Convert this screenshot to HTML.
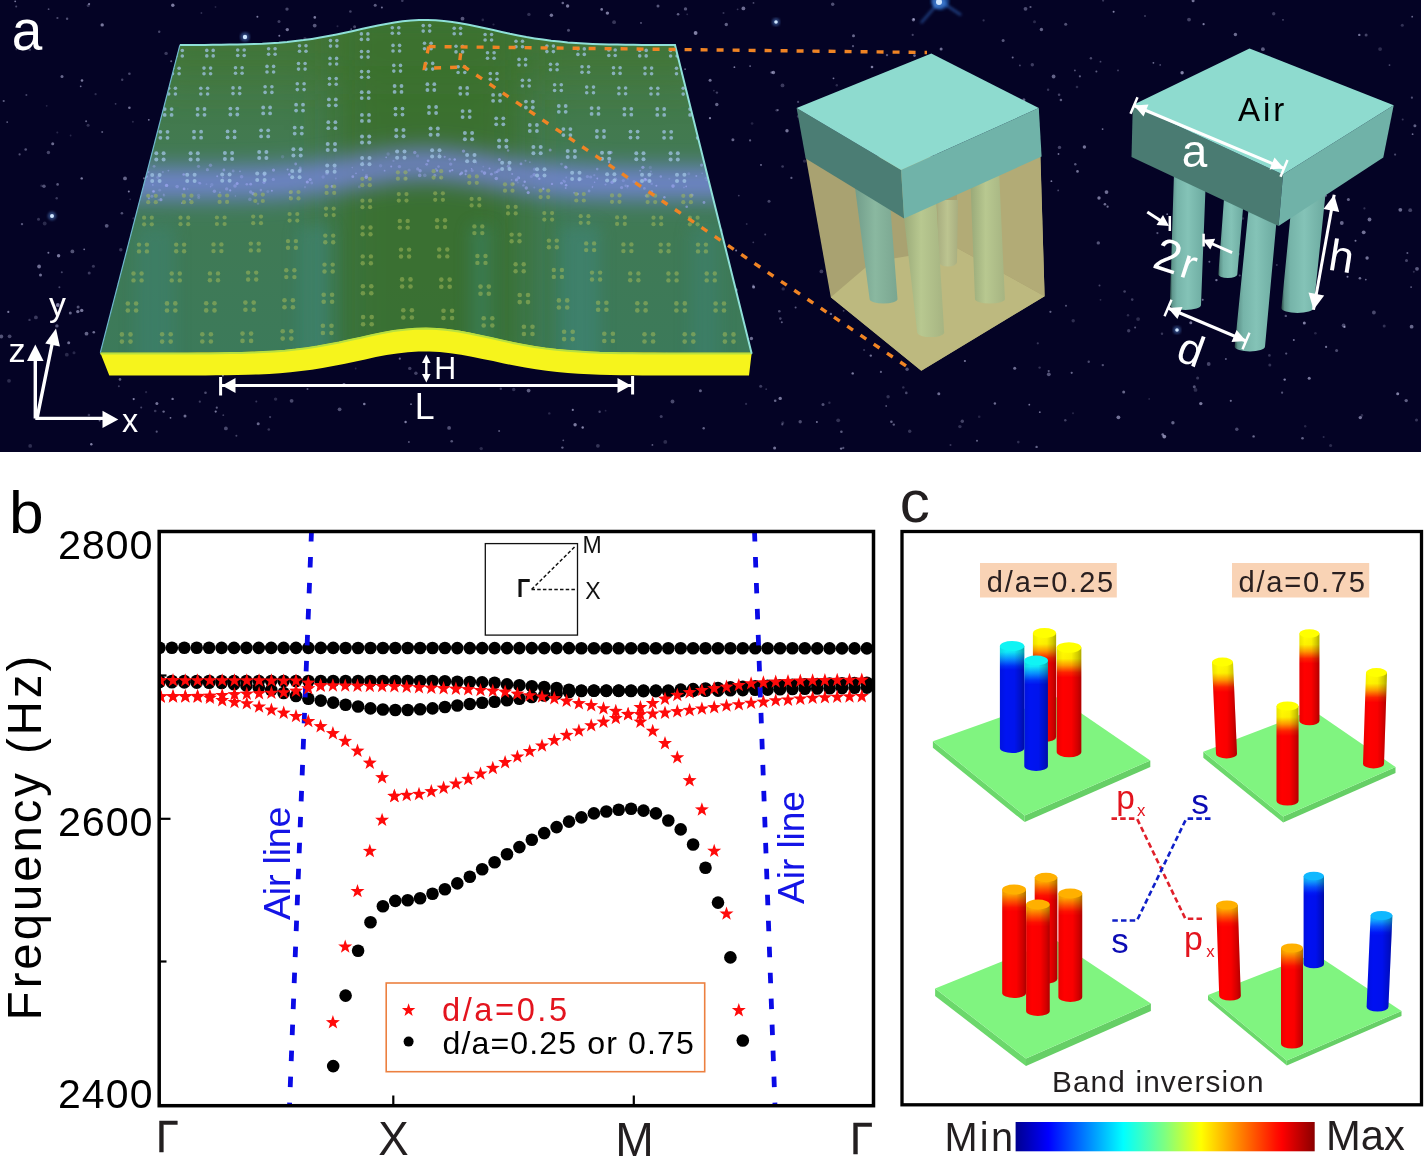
<!DOCTYPE html>
<html><head><meta charset="utf-8"><title>Figure</title>
<style>html,body{margin:0;padding:0;background:#fff;overflow:hidden;width:1424px;height:1156px;}svg{display:block;}</style>
</head><body>
<svg width="1424" height="1156" viewBox="0 0 1424 1156" font-family="'Liberation Sans', Arial, Helvetica, sans-serif">
<defs>
<linearGradient id="surfG" x1="0" y1="0" x2="0" y2="1">
 <stop offset="0" stop-color="#457a42"/>
 <stop offset="0.4" stop-color="#427a52"/>
 <stop offset="1" stop-color="#3c7a5a"/>
</linearGradient>
<radialGradient id="milky" cx="0.5" cy="0.5" r="0.5">
 <stop offset="0" stop-color="#9aa0ff" stop-opacity="0.75"/>
 <stop offset="0.6" stop-color="#8a90f0" stop-opacity="0.35"/>
 <stop offset="1" stop-color="#8088e0" stop-opacity="0"/>
</radialGradient>
<filter id="blur6" filterUnits="userSpaceOnUse" x="0" y="0" width="900" height="452"><feGaussianBlur stdDeviation="8"/></filter>
<filter id="blur2"><feGaussianBlur stdDeviation="1.2"/></filter>
<linearGradient id="jet" x1="0" y1="0" x2="1" y2="0">
 <stop offset="0" stop-color="#00008f"/>
 <stop offset="0.11" stop-color="#0000ff"/>
 <stop offset="0.125" stop-color="#0010ff"/>
 <stop offset="0.36" stop-color="#00ffff"/>
 <stop offset="0.5" stop-color="#7fff80"/>
 <stop offset="0.62" stop-color="#ffff00"/>
 <stop offset="0.87" stop-color="#ff1000"/>
 <stop offset="0.89" stop-color="#ff0000"/>
 <stop offset="1" stop-color="#8a0000"/>
</linearGradient>
<linearGradient id="shadeH" x1="0" y1="0" x2="1" y2="0">
 <stop offset="0" stop-color="#000" stop-opacity="0.08"/>
 <stop offset="0.25" stop-color="#000" stop-opacity="0"/>
 <stop offset="0.6" stop-color="#000" stop-opacity="0.02"/>
 <stop offset="0.85" stop-color="#000" stop-opacity="0.18"/>
 <stop offset="1" stop-color="#000" stop-opacity="0.32"/>
</linearGradient>
<linearGradient id="cylR" x1="0" y1="0" x2="0" y2="1">
 <stop offset="0" stop-color="#ffff00"/>
 <stop offset="0.12" stop-color="#ffb000"/>
 <stop offset="0.25" stop-color="#ff1800"/>
 <stop offset="1" stop-color="#ff0000"/>
</linearGradient>
<linearGradient id="cylR2" x1="0" y1="0" x2="0" y2="1">
 <stop offset="0" stop-color="#ffb000"/>
 <stop offset="0.1" stop-color="#ff7000"/>
 <stop offset="0.2" stop-color="#ff1000"/>
 <stop offset="1" stop-color="#ff0000"/>
</linearGradient>
<linearGradient id="cylB" x1="0" y1="0" x2="0" y2="1">
 <stop offset="0" stop-color="#40f0ff"/>
 <stop offset="0.12" stop-color="#20a0ff"/>
 <stop offset="0.25" stop-color="#0030ff"/>
 <stop offset="1" stop-color="#0020f0"/>
</linearGradient>
<linearGradient id="cylB2" x1="0" y1="0" x2="0" y2="1">
 <stop offset="0" stop-color="#20b0ff"/>
 <stop offset="0.12" stop-color="#1060ff"/>
 <stop offset="0.25" stop-color="#0030ff"/>
 <stop offset="1" stop-color="#0020f0"/>
</linearGradient>
<linearGradient id="tealH" x1="0" y1="0" x2="1" y2="0">
 <stop offset="0" stop-color="#4f8f86"/>
 <stop offset="0.4" stop-color="#86c8bc"/>
 <stop offset="1" stop-color="#5f9f95"/>
</linearGradient>
<linearGradient id="greenH" x1="0" y1="0" x2="1" y2="0">
 <stop offset="0" stop-color="#7aa888"/>
 <stop offset="0.4" stop-color="#a8d0a0"/>
 <stop offset="1" stop-color="#8fb890"/>
</linearGradient>
</defs>
<rect width="1424" height="1156" fill="#ffffff"/>
<rect x="0" y="0" width="1421" height="452" fill="#040325"/>
<filter id="sblur"><feGaussianBlur stdDeviation="0.7"/></filter>
<g filter="url(#sblur)">
<circle cx="459.8" cy="68" r="0.9" fill="#d8d8ff" fill-opacity="0.18"/>
<circle cx="761" cy="164.9" r="0.9" fill="#d8d8ff" fill-opacity="0.56"/>
<circle cx="304.9" cy="38.8" r="1.7" fill="#d8d8ff" fill-opacity="0.18"/>
<circle cx="128.8" cy="191.5" r="1.0" fill="#d8d8ff" fill-opacity="0.58"/>
<circle cx="895.5" cy="262.9" r="0.9" fill="#d8d8ff" fill-opacity="0.41"/>
<circle cx="563.3" cy="440.3" r="0.9" fill="#d8d8ff" fill-opacity="0.40"/>
<circle cx="189.1" cy="189" r="1.0" fill="#d8d8ff" fill-opacity="0.41"/>
<circle cx="795.6" cy="307.6" r="1.0" fill="#d8d8ff" fill-opacity="0.41"/>
<circle cx="907.3" cy="168" r="1.0" fill="#d8d8ff" fill-opacity="0.40"/>
<circle cx="879" cy="223.9" r="1.7" fill="#d8d8ff" fill-opacity="0.50"/>
<circle cx="661.2" cy="416.5" r="1.5" fill="#d8d8ff" fill-opacity="0.28"/>
<circle cx="1128" cy="315.2" r="1.2" fill="#d8d8ff" fill-opacity="0.19"/>
<circle cx="426.4" cy="223.3" r="1.5" fill="#d8d8ff" fill-opacity="0.48"/>
<circle cx="408.9" cy="442.1" r="1.0" fill="#d8d8ff" fill-opacity="0.38"/>
<circle cx="234.2" cy="154.3" r="1.9" fill="#d8d8ff" fill-opacity="0.34"/>
<circle cx="1366.1" cy="35" r="1.5" fill="#d8d8ff" fill-opacity="0.30"/>
<circle cx="497.3" cy="224" r="1.9" fill="#d8d8ff" fill-opacity="0.18"/>
<circle cx="132.9" cy="121.7" r="1.0" fill="#d8d8ff" fill-opacity="0.18"/>
<circle cx="996.1" cy="291.9" r="1.9" fill="#d8d8ff" fill-opacity="0.28"/>
<circle cx="547.8" cy="301.6" r="0.9" fill="#d8d8ff" fill-opacity="0.57"/>
<circle cx="504.8" cy="275.5" r="1.9" fill="#d8d8ff" fill-opacity="0.18"/>
<circle cx="1090.9" cy="58.3" r="1.2" fill="#d8d8ff" fill-opacity="0.33"/>
<circle cx="1301.9" cy="223.9" r="1.1" fill="#d8d8ff" fill-opacity="0.35"/>
<circle cx="780.2" cy="398.4" r="1.7" fill="#d8d8ff" fill-opacity="0.54"/>
<circle cx="395.4" cy="187.3" r="1.5" fill="#d8d8ff" fill-opacity="0.46"/>
<circle cx="540.2" cy="104.1" r="1.0" fill="#d8d8ff" fill-opacity="0.23"/>
<circle cx="329.4" cy="105.2" r="1.9" fill="#d8d8ff" fill-opacity="0.52"/>
<circle cx="258.9" cy="127.2" r="1.1" fill="#d8d8ff" fill-opacity="0.34"/>
<circle cx="524.3" cy="255.4" r="1.1" fill="#d8d8ff" fill-opacity="0.46"/>
<circle cx="732" cy="278.5" r="0.9" fill="#d8d8ff" fill-opacity="0.36"/>
<circle cx="1236.8" cy="429.3" r="1.7" fill="#d8d8ff" fill-opacity="0.33"/>
<circle cx="559.7" cy="217.2" r="1.7" fill="#d8d8ff" fill-opacity="0.18"/>
<circle cx="95.6" cy="94.2" r="1.1" fill="#d8d8ff" fill-opacity="0.20"/>
<circle cx="853" cy="46.2" r="1.1" fill="#d8d8ff" fill-opacity="0.39"/>
<circle cx="1347.5" cy="276.8" r="1.0" fill="#d8d8ff" fill-opacity="0.54"/>
<circle cx="872" cy="67" r="1.3" fill="#d8d8ff" fill-opacity="0.58"/>
<circle cx="855.2" cy="213.8" r="1.0" fill="#d8d8ff" fill-opacity="0.53"/>
<circle cx="1410.2" cy="210.2" r="1.9" fill="#d8d8ff" fill-opacity="0.29"/>
<circle cx="204.6" cy="338.1" r="1.3" fill="#d8d8ff" fill-opacity="0.37"/>
<circle cx="982.7" cy="232.9" r="1.2" fill="#d8d8ff" fill-opacity="0.58"/>
<circle cx="750.1" cy="66.1" r="0.9" fill="#d8d8ff" fill-opacity="0.49"/>
<circle cx="423.3" cy="290" r="1.0" fill="#d8d8ff" fill-opacity="0.46"/>
<circle cx="370.8" cy="165.4" r="1.1" fill="#d8d8ff" fill-opacity="0.31"/>
<circle cx="316.4" cy="244.2" r="1.5" fill="#d8d8ff" fill-opacity="0.44"/>
<circle cx="870.8" cy="355.6" r="1.2" fill="#d8d8ff" fill-opacity="0.51"/>
<circle cx="1162" cy="333.7" r="1.2" fill="#d8d8ff" fill-opacity="0.24"/>
<circle cx="699.8" cy="329.7" r="0.9" fill="#d8d8ff" fill-opacity="0.51"/>
<circle cx="670.6" cy="87.3" r="1.5" fill="#d8d8ff" fill-opacity="0.35"/>
<circle cx="1330.6" cy="445.6" r="1.5" fill="#d8d8ff" fill-opacity="0.19"/>
<circle cx="145.1" cy="212" r="1.5" fill="#d8d8ff" fill-opacity="0.24"/>
<circle cx="886.2" cy="406" r="0.9" fill="#d8d8ff" fill-opacity="0.37"/>
<circle cx="927.2" cy="360.6" r="1.0" fill="#d8d8ff" fill-opacity="0.53"/>
<circle cx="170.3" cy="175.2" r="1.2" fill="#d8d8ff" fill-opacity="0.37"/>
<circle cx="253.5" cy="355.9" r="1.5" fill="#d8d8ff" fill-opacity="0.19"/>
<circle cx="1343.6" cy="325.5" r="1.9" fill="#d8d8ff" fill-opacity="0.33"/>
<circle cx="1344.5" cy="326.9" r="1.1" fill="#d8d8ff" fill-opacity="0.60"/>
<circle cx="39.1" cy="266.5" r="1.9" fill="#d8d8ff" fill-opacity="0.51"/>
<circle cx="207.6" cy="372.8" r="1.9" fill="#d8d8ff" fill-opacity="0.45"/>
<circle cx="497.6" cy="247.4" r="1.1" fill="#d8d8ff" fill-opacity="0.16"/>
<circle cx="1135.1" cy="327.6" r="1.0" fill="#d8d8ff" fill-opacity="0.39"/>
<circle cx="1325.7" cy="195.6" r="1.2" fill="#d8d8ff" fill-opacity="0.52"/>
<circle cx="299.7" cy="113.6" r="1.3" fill="#d8d8ff" fill-opacity="0.38"/>
<circle cx="1084.4" cy="147" r="1.7" fill="#d8d8ff" fill-opacity="0.53"/>
<circle cx="86.5" cy="333.7" r="1.9" fill="#d8d8ff" fill-opacity="0.45"/>
<circle cx="1157.4" cy="233.1" r="1.1" fill="#d8d8ff" fill-opacity="0.39"/>
<circle cx="743.4" cy="8.4" r="1.9" fill="#d8d8ff" fill-opacity="0.50"/>
<circle cx="864.1" cy="350" r="1.1" fill="#d8d8ff" fill-opacity="0.23"/>
<circle cx="672.4" cy="327.1" r="0.9" fill="#d8d8ff" fill-opacity="0.30"/>
<circle cx="736.1" cy="250.5" r="1.0" fill="#d8d8ff" fill-opacity="0.55"/>
<circle cx="80.7" cy="86.3" r="0.9" fill="#d8d8ff" fill-opacity="0.50"/>
<circle cx="721" cy="253.3" r="1.0" fill="#d8d8ff" fill-opacity="0.35"/>
<circle cx="869.8" cy="228" r="1.2" fill="#d8d8ff" fill-opacity="0.46"/>
<circle cx="642.3" cy="240.5" r="1.9" fill="#d8d8ff" fill-opacity="0.38"/>
<circle cx="351.7" cy="236" r="1.3" fill="#d8d8ff" fill-opacity="0.57"/>
<circle cx="1267.7" cy="91.4" r="1.9" fill="#d8d8ff" fill-opacity="0.21"/>
<circle cx="172.7" cy="199.4" r="1.0" fill="#d8d8ff" fill-opacity="0.45"/>
<circle cx="608.2" cy="95.9" r="1.3" fill="#d8d8ff" fill-opacity="0.50"/>
<circle cx="1273.8" cy="69.7" r="1.5" fill="#d8d8ff" fill-opacity="0.21"/>
<circle cx="1253.6" cy="436.4" r="1.2" fill="#d8d8ff" fill-opacity="0.49"/>
<circle cx="133.7" cy="399.1" r="1.1" fill="#d8d8ff" fill-opacity="0.60"/>
<circle cx="1182.1" cy="72.8" r="1.7" fill="#d8d8ff" fill-opacity="0.60"/>
<circle cx="573.4" cy="190" r="1.5" fill="#d8d8ff" fill-opacity="0.29"/>
<circle cx="1025.5" cy="8.8" r="1.9" fill="#d8d8ff" fill-opacity="0.35"/>
<circle cx="25.7" cy="149.5" r="1.3" fill="#d8d8ff" fill-opacity="0.38"/>
<circle cx="91.3" cy="444.3" r="1.2" fill="#d8d8ff" fill-opacity="0.59"/>
<circle cx="148.8" cy="119.8" r="0.9" fill="#d8d8ff" fill-opacity="0.56"/>
<circle cx="257.8" cy="340.9" r="1.7" fill="#d8d8ff" fill-opacity="0.53"/>
<circle cx="959.9" cy="426.6" r="1.7" fill="#d8d8ff" fill-opacity="0.22"/>
<circle cx="1305.2" cy="257.3" r="1.5" fill="#d8d8ff" fill-opacity="0.19"/>
<circle cx="81.7" cy="310.4" r="1.7" fill="#d8d8ff" fill-opacity="0.55"/>
<circle cx="381.9" cy="7.6" r="1.0" fill="#d8d8ff" fill-opacity="0.51"/>
<circle cx="118.9" cy="386.2" r="1.0" fill="#d8d8ff" fill-opacity="0.27"/>
<circle cx="172.8" cy="5.2" r="1.7" fill="#d8d8ff" fill-opacity="0.57"/>
<circle cx="380.4" cy="58.3" r="1.2" fill="#d8d8ff" fill-opacity="0.57"/>
<circle cx="1376.3" cy="118.1" r="1.1" fill="#d8d8ff" fill-opacity="0.24"/>
<circle cx="443" cy="137.6" r="1.2" fill="#d8d8ff" fill-opacity="0.28"/>
<circle cx="710.1" cy="80.2" r="1.5" fill="#d8d8ff" fill-opacity="0.51"/>
<circle cx="1412.2" cy="16.7" r="0.9" fill="#d8d8ff" fill-opacity="0.48"/>
<circle cx="782.5" cy="85.4" r="1.9" fill="#d8d8ff" fill-opacity="0.26"/>
<circle cx="634.8" cy="296.9" r="1.7" fill="#d8d8ff" fill-opacity="0.45"/>
<circle cx="775.2" cy="400.8" r="1.3" fill="#d8d8ff" fill-opacity="0.46"/>
<circle cx="1395.1" cy="154.6" r="1.1" fill="#d8d8ff" fill-opacity="0.33"/>
<circle cx="493.5" cy="24.5" r="1.1" fill="#d8d8ff" fill-opacity="0.16"/>
<circle cx="888.1" cy="396.8" r="1.7" fill="#d8d8ff" fill-opacity="0.22"/>
<circle cx="120" cy="379.4" r="1.3" fill="#d8d8ff" fill-opacity="0.42"/>
<circle cx="983.6" cy="20.4" r="1.1" fill="#d8d8ff" fill-opacity="0.22"/>
<circle cx="633.1" cy="118.7" r="1.5" fill="#d8d8ff" fill-opacity="0.59"/>
<circle cx="776.8" cy="110.2" r="1.3" fill="#d8d8ff" fill-opacity="0.25"/>
<circle cx="259.8" cy="151.2" r="1.0" fill="#d8d8ff" fill-opacity="0.36"/>
<circle cx="713.9" cy="90.6" r="0.9" fill="#d8d8ff" fill-opacity="0.19"/>
<circle cx="1160.2" cy="64.9" r="0.9" fill="#d8d8ff" fill-opacity="0.33"/>
<circle cx="425.5" cy="284" r="1.0" fill="#d8d8ff" fill-opacity="0.41"/>
<circle cx="751.4" cy="338.5" r="1.7" fill="#d8d8ff" fill-opacity="0.49"/>
<circle cx="1023.4" cy="222.9" r="1.3" fill="#d8d8ff" fill-opacity="0.48"/>
<circle cx="913.4" cy="19.7" r="1.7" fill="#d8d8ff" fill-opacity="0.48"/>
<circle cx="1153.4" cy="62.8" r="0.9" fill="#d8d8ff" fill-opacity="0.52"/>
<circle cx="829.4" cy="402.7" r="1.2" fill="#d8d8ff" fill-opacity="0.19"/>
<circle cx="59.4" cy="287.3" r="1.0" fill="#d8d8ff" fill-opacity="0.32"/>
<circle cx="641" cy="22.9" r="0.9" fill="#d8d8ff" fill-opacity="0.43"/>
<circle cx="966.5" cy="220.7" r="0.9" fill="#d8d8ff" fill-opacity="0.36"/>
<circle cx="99.6" cy="420.6" r="1.0" fill="#d8d8ff" fill-opacity="0.45"/>
<circle cx="93.8" cy="332.3" r="1.3" fill="#d8d8ff" fill-opacity="0.51"/>
<circle cx="1201.5" cy="105.9" r="1.2" fill="#d8d8ff" fill-opacity="0.25"/>
<circle cx="922.9" cy="207.6" r="1.7" fill="#d8d8ff" fill-opacity="0.18"/>
<circle cx="1292.9" cy="129.6" r="0.9" fill="#d8d8ff" fill-opacity="0.43"/>
<circle cx="912.7" cy="34.9" r="1.1" fill="#d8d8ff" fill-opacity="0.30"/>
<circle cx="925.2" cy="312.5" r="1.1" fill="#d8d8ff" fill-opacity="0.16"/>
<circle cx="86.1" cy="121.2" r="1.0" fill="#d8d8ff" fill-opacity="0.46"/>
<circle cx="959.5" cy="131.2" r="1.3" fill="#d8d8ff" fill-opacity="0.36"/>
<circle cx="662.2" cy="53.4" r="1.2" fill="#d8d8ff" fill-opacity="0.29"/>
<circle cx="121.9" cy="213.3" r="1.3" fill="#d8d8ff" fill-opacity="0.36"/>
<circle cx="1164.3" cy="436.6" r="1.9" fill="#d8d8ff" fill-opacity="0.60"/>
<circle cx="549.3" cy="413.4" r="1.2" fill="#d8d8ff" fill-opacity="0.18"/>
<circle cx="128.2" cy="337.1" r="1.3" fill="#d8d8ff" fill-opacity="0.58"/>
<circle cx="188.3" cy="369.9" r="1.3" fill="#d8d8ff" fill-opacity="0.55"/>
<circle cx="998.7" cy="104.4" r="1.9" fill="#d8d8ff" fill-opacity="0.33"/>
<circle cx="225.9" cy="428.4" r="1.9" fill="#d8d8ff" fill-opacity="0.33"/>
<circle cx="1032.6" cy="187.7" r="1.7" fill="#d8d8ff" fill-opacity="0.29"/>
<circle cx="1193.1" cy="0.8" r="1.5" fill="#d8d8ff" fill-opacity="0.53"/>
<circle cx="170.5" cy="417.8" r="0.9" fill="#d8d8ff" fill-opacity="0.56"/>
<circle cx="411.6" cy="167.9" r="1.7" fill="#d8d8ff" fill-opacity="0.33"/>
<circle cx="1235.4" cy="34.5" r="1.7" fill="#d8d8ff" fill-opacity="0.49"/>
<circle cx="1213" cy="126.6" r="0.9" fill="#d8d8ff" fill-opacity="0.53"/>
<circle cx="405.6" cy="422" r="1.2" fill="#d8d8ff" fill-opacity="0.59"/>
<circle cx="619.5" cy="142.3" r="1.5" fill="#d8d8ff" fill-opacity="0.50"/>
<circle cx="607.4" cy="13.1" r="1.7" fill="#d8d8ff" fill-opacity="0.56"/>
<circle cx="1335.8" cy="247.7" r="1.0" fill="#d8d8ff" fill-opacity="0.17"/>
<circle cx="1039.9" cy="203.3" r="1.1" fill="#d8d8ff" fill-opacity="0.44"/>
<circle cx="406.4" cy="22.1" r="1.1" fill="#d8d8ff" fill-opacity="0.23"/>
<circle cx="589.1" cy="127.1" r="1.3" fill="#d8d8ff" fill-opacity="0.48"/>
<circle cx="1386.3" cy="117.3" r="1.2" fill="#d8d8ff" fill-opacity="0.29"/>
<circle cx="791.4" cy="177.9" r="1.1" fill="#d8d8ff" fill-opacity="0.44"/>
<circle cx="106.7" cy="225.8" r="1.9" fill="#d8d8ff" fill-opacity="0.40"/>
<circle cx="643.2" cy="150.1" r="1.9" fill="#d8d8ff" fill-opacity="0.34"/>
<circle cx="777.9" cy="110.1" r="1.1" fill="#d8d8ff" fill-opacity="0.30"/>
<circle cx="129.4" cy="107.8" r="1.3" fill="#d8d8ff" fill-opacity="0.51"/>
<circle cx="287" cy="9.1" r="1.7" fill="#d8d8ff" fill-opacity="0.32"/>
<circle cx="1059.1" cy="94.7" r="1.3" fill="#d8d8ff" fill-opacity="0.30"/>
<circle cx="88.1" cy="125.2" r="1.5" fill="#d8d8ff" fill-opacity="0.21"/>
<circle cx="714.8" cy="284" r="1.2" fill="#d8d8ff" fill-opacity="0.19"/>
<circle cx="1273.4" cy="173.4" r="1.9" fill="#d8d8ff" fill-opacity="0.34"/>
<circle cx="443.1" cy="367.3" r="0.9" fill="#d8d8ff" fill-opacity="0.21"/>
<circle cx="603.8" cy="344.4" r="1.9" fill="#d8d8ff" fill-opacity="0.59"/>
<circle cx="695.6" cy="33" r="1.9" fill="#d8d8ff" fill-opacity="0.59"/>
<circle cx="352.8" cy="49.2" r="1.1" fill="#d8d8ff" fill-opacity="0.22"/>
<circle cx="1380.1" cy="49.1" r="1.9" fill="#d8d8ff" fill-opacity="0.19"/>
<circle cx="1103.1" cy="0.6" r="1.1" fill="#d8d8ff" fill-opacity="0.25"/>
<circle cx="1306.3" cy="291.1" r="1.3" fill="#d8d8ff" fill-opacity="0.58"/>
<circle cx="889.6" cy="238.2" r="1.7" fill="#d8d8ff" fill-opacity="0.46"/>
<circle cx="159.2" cy="31.7" r="1.2" fill="#d8d8ff" fill-opacity="0.32"/>
<circle cx="317.5" cy="271.1" r="0.9" fill="#d8d8ff" fill-opacity="0.39"/>
<circle cx="1414.9" cy="125.7" r="1.5" fill="#d8d8ff" fill-opacity="0.44"/>
<circle cx="1255" cy="214.4" r="1.2" fill="#d8d8ff" fill-opacity="0.40"/>
<circle cx="41.6" cy="185.7" r="1.3" fill="#d8d8ff" fill-opacity="0.17"/>
<circle cx="275.6" cy="399.1" r="1.7" fill="#d8d8ff" fill-opacity="0.19"/>
<circle cx="323.5" cy="191.4" r="1.5" fill="#d8d8ff" fill-opacity="0.25"/>
<circle cx="48.4" cy="152.5" r="1.7" fill="#d8d8ff" fill-opacity="0.31"/>
<circle cx="562.8" cy="3" r="1.3" fill="#d8d8ff" fill-opacity="0.48"/>
<circle cx="716.9" cy="92.6" r="1.2" fill="#d8d8ff" fill-opacity="0.29"/>
<circle cx="1164.4" cy="104.1" r="1.2" fill="#d8d8ff" fill-opacity="0.27"/>
<circle cx="1262.9" cy="49.2" r="1.9" fill="#d8d8ff" fill-opacity="0.42"/>
<circle cx="1273" cy="218.8" r="0.9" fill="#d8d8ff" fill-opacity="0.58"/>
<circle cx="207.9" cy="177.5" r="1.2" fill="#d8d8ff" fill-opacity="0.16"/>
<circle cx="846.5" cy="187.3" r="0.9" fill="#d8d8ff" fill-opacity="0.23"/>
<circle cx="638.5" cy="321.1" r="1.5" fill="#d8d8ff" fill-opacity="0.48"/>
<circle cx="1416.5" cy="420.1" r="1.5" fill="#d8d8ff" fill-opacity="0.24"/>
<circle cx="926.5" cy="236.7" r="1.9" fill="#d8d8ff" fill-opacity="0.16"/>
<circle cx="943.5" cy="170.8" r="1.5" fill="#d8d8ff" fill-opacity="0.59"/>
<circle cx="628.3" cy="49.1" r="1.0" fill="#d8d8ff" fill-opacity="0.28"/>
<circle cx="499.1" cy="430.9" r="1.0" fill="#d8d8ff" fill-opacity="0.40"/>
<circle cx="1077.5" cy="171.4" r="1.3" fill="#d8d8ff" fill-opacity="0.52"/>
<circle cx="614.1" cy="22.2" r="1.9" fill="#d8d8ff" fill-opacity="0.24"/>
<circle cx="769" cy="201.3" r="1.5" fill="#d8d8ff" fill-opacity="0.31"/>
<circle cx="1273.7" cy="13.7" r="1.7" fill="#d8d8ff" fill-opacity="0.26"/>
<circle cx="888.1" cy="182.6" r="1.7" fill="#d8d8ff" fill-opacity="0.17"/>
<circle cx="88.9" cy="415" r="1.3" fill="#d8d8ff" fill-opacity="0.24"/>
<circle cx="89.2" cy="273.1" r="1.5" fill="#d8d8ff" fill-opacity="0.27"/>
<circle cx="1359.9" cy="278.3" r="1.3" fill="#d8d8ff" fill-opacity="0.49"/>
<circle cx="979.2" cy="416.8" r="1.3" fill="#d8d8ff" fill-opacity="0.15"/>
<circle cx="1073" cy="413.3" r="1.0" fill="#d8d8ff" fill-opacity="0.16"/>
<circle cx="332.1" cy="214.3" r="1.9" fill="#d8d8ff" fill-opacity="0.58"/>
<circle cx="548.9" cy="113.2" r="1.7" fill="#d8d8ff" fill-opacity="0.52"/>
<circle cx="188.4" cy="223.9" r="0.9" fill="#d8d8ff" fill-opacity="0.51"/>
<circle cx="1048.7" cy="371.1" r="1.1" fill="#d8d8ff" fill-opacity="0.42"/>
<circle cx="465.5" cy="144.1" r="1.5" fill="#d8d8ff" fill-opacity="0.50"/>
<circle cx="845.9" cy="230.9" r="1.7" fill="#d8d8ff" fill-opacity="0.49"/>
<circle cx="351.2" cy="29.2" r="0.9" fill="#d8d8ff" fill-opacity="0.37"/>
<circle cx="773.4" cy="72.5" r="1.7" fill="#d8d8ff" fill-opacity="0.55"/>
<circle cx="1402.7" cy="119.5" r="1.0" fill="#d8d8ff" fill-opacity="0.24"/>
<circle cx="597.9" cy="445.8" r="1.9" fill="#d8d8ff" fill-opacity="0.23"/>
<circle cx="188.8" cy="207.9" r="1.2" fill="#d8d8ff" fill-opacity="0.49"/>
<circle cx="1202.7" cy="299.7" r="1.0" fill="#d8d8ff" fill-opacity="0.50"/>
<circle cx="417.4" cy="126" r="1.3" fill="#d8d8ff" fill-opacity="0.32"/>
<circle cx="1048.1" cy="89.8" r="1.2" fill="#d8d8ff" fill-opacity="0.23"/>
<circle cx="334.4" cy="126.9" r="1.2" fill="#d8d8ff" fill-opacity="0.30"/>
<circle cx="562.4" cy="447.6" r="1.2" fill="#d8d8ff" fill-opacity="0.44"/>
<circle cx="142.8" cy="209.2" r="0.9" fill="#d8d8ff" fill-opacity="0.20"/>
<circle cx="674.2" cy="369.4" r="1.9" fill="#d8d8ff" fill-opacity="0.56"/>
<circle cx="57.3" cy="132.4" r="1.0" fill="#d8d8ff" fill-opacity="0.17"/>
<circle cx="852.7" cy="373.4" r="1.2" fill="#d8d8ff" fill-opacity="0.57"/>
<circle cx="528.6" cy="390.6" r="1.9" fill="#d8d8ff" fill-opacity="0.42"/>
<circle cx="1100.5" cy="299.8" r="0.9" fill="#d8d8ff" fill-opacity="0.20"/>
<circle cx="846.5" cy="279.6" r="1.2" fill="#d8d8ff" fill-opacity="0.17"/>
<circle cx="482.8" cy="19.9" r="1.3" fill="#d8d8ff" fill-opacity="0.17"/>
<circle cx="1039.8" cy="412.2" r="0.9" fill="#d8d8ff" fill-opacity="0.52"/>
<circle cx="580.8" cy="167.7" r="1.3" fill="#d8d8ff" fill-opacity="0.19"/>
<circle cx="44.7" cy="223.5" r="1.9" fill="#d8d8ff" fill-opacity="0.18"/>
<circle cx="144" cy="178.3" r="1.1" fill="#d8d8ff" fill-opacity="0.44"/>
<circle cx="129.4" cy="73.8" r="1.3" fill="#d8d8ff" fill-opacity="0.33"/>
<circle cx="402.3" cy="138.7" r="0.9" fill="#d8d8ff" fill-opacity="0.29"/>
<circle cx="804.5" cy="161.1" r="1.7" fill="#d8d8ff" fill-opacity="0.16"/>
<circle cx="1088.7" cy="361.8" r="1.2" fill="#d8d8ff" fill-opacity="0.33"/>
<circle cx="575.1" cy="424.8" r="1.7" fill="#d8d8ff" fill-opacity="0.56"/>
<circle cx="601.7" cy="370" r="1.7" fill="#d8d8ff" fill-opacity="0.41"/>
<circle cx="517.9" cy="348.6" r="1.1" fill="#d8d8ff" fill-opacity="0.16"/>
<circle cx="783.2" cy="288.9" r="1.7" fill="#d8d8ff" fill-opacity="0.19"/>
<circle cx="883.5" cy="167.3" r="1.1" fill="#d8d8ff" fill-opacity="0.22"/>
<circle cx="402.3" cy="235" r="1.0" fill="#d8d8ff" fill-opacity="0.20"/>
<circle cx="696.5" cy="363" r="1.2" fill="#d8d8ff" fill-opacity="0.29"/>
<circle cx="1189" cy="19.6" r="1.9" fill="#d8d8ff" fill-opacity="0.29"/>
<circle cx="862.9" cy="287" r="1.0" fill="#d8d8ff" fill-opacity="0.56"/>
<circle cx="880.9" cy="371.9" r="1.1" fill="#d8d8ff" fill-opacity="0.44"/>
<circle cx="1216.4" cy="280.1" r="1.2" fill="#d8d8ff" fill-opacity="0.52"/>
<circle cx="259.8" cy="98.4" r="1.7" fill="#d8d8ff" fill-opacity="0.57"/>
<circle cx="222.2" cy="162" r="1.1" fill="#d8d8ff" fill-opacity="0.26"/>
<circle cx="1029.3" cy="404.7" r="0.9" fill="#d8d8ff" fill-opacity="0.55"/>
<circle cx="1196.3" cy="303.2" r="1.5" fill="#d8d8ff" fill-opacity="0.20"/>
<circle cx="851.3" cy="248.1" r="1.3" fill="#d8d8ff" fill-opacity="0.44"/>
<circle cx="437.7" cy="112.4" r="1.7" fill="#d8d8ff" fill-opacity="0.45"/>
<circle cx="634.4" cy="197.7" r="0.9" fill="#d8d8ff" fill-opacity="0.15"/>
<circle cx="1400.3" cy="209.8" r="1.9" fill="#d8d8ff" fill-opacity="0.49"/>
<circle cx="1107.6" cy="206.7" r="1.1" fill="#d8d8ff" fill-opacity="0.51"/>
<circle cx="568.5" cy="30.3" r="1.5" fill="#d8d8ff" fill-opacity="0.34"/>
<circle cx="130.2" cy="199.3" r="0.9" fill="#d8d8ff" fill-opacity="0.17"/>
<circle cx="185" cy="415.9" r="1.5" fill="#d8d8ff" fill-opacity="0.50"/>
<circle cx="726.3" cy="24.5" r="1.7" fill="#d8d8ff" fill-opacity="0.44"/>
<circle cx="1113.6" cy="11.7" r="1.0" fill="#d8d8ff" fill-opacity="0.60"/>
<circle cx="1039.6" cy="367.6" r="1.2" fill="#d8d8ff" fill-opacity="0.21"/>
<circle cx="1257.7" cy="129.8" r="1.1" fill="#d8d8ff" fill-opacity="0.46"/>
<circle cx="1023.9" cy="99.7" r="1.5" fill="#d8d8ff" fill-opacity="0.42"/>
<circle cx="358.2" cy="146.1" r="1.3" fill="#d8d8ff" fill-opacity="0.56"/>
<circle cx="648.1" cy="114.6" r="1.9" fill="#d8d8ff" fill-opacity="0.24"/>
<circle cx="373.3" cy="228.2" r="1.5" fill="#d8d8ff" fill-opacity="0.32"/>
<circle cx="282.5" cy="182" r="1.3" fill="#d8d8ff" fill-opacity="0.46"/>
<circle cx="1271.5" cy="76.1" r="1.3" fill="#d8d8ff" fill-opacity="0.20"/>
<circle cx="753.6" cy="287" r="1.5" fill="#d8d8ff" fill-opacity="0.58"/>
<circle cx="643.3" cy="235.2" r="1.0" fill="#d8d8ff" fill-opacity="0.26"/>
<circle cx="760.7" cy="386.3" r="1.5" fill="#d8d8ff" fill-opacity="0.27"/>
<circle cx="1406.5" cy="260.4" r="1.5" fill="#d8d8ff" fill-opacity="0.30"/>
<circle cx="115.6" cy="103.8" r="0.9" fill="#d8d8ff" fill-opacity="0.28"/>
<circle cx="732.9" cy="139.8" r="1.5" fill="#d8d8ff" fill-opacity="0.48"/>
<circle cx="1060.9" cy="100" r="1.3" fill="#d8d8ff" fill-opacity="0.43"/>
<circle cx="613.8" cy="231.2" r="0.9" fill="#d8d8ff" fill-opacity="0.21"/>
<circle cx="322.7" cy="294.6" r="0.9" fill="#d8d8ff" fill-opacity="0.17"/>
<circle cx="805.3" cy="137" r="1.5" fill="#d8d8ff" fill-opacity="0.39"/>
<circle cx="586.8" cy="135.8" r="1.1" fill="#d8d8ff" fill-opacity="0.24"/>
<circle cx="886" cy="214.2" r="1.1" fill="#d8d8ff" fill-opacity="0.16"/>
<circle cx="1138.1" cy="319.1" r="1.9" fill="#d8d8ff" fill-opacity="0.19"/>
<circle cx="906.3" cy="392.9" r="1.3" fill="#d8d8ff" fill-opacity="0.33"/>
<circle cx="375.2" cy="5.2" r="1.5" fill="#d8d8ff" fill-opacity="0.42"/>
<circle cx="821.4" cy="271.4" r="1.9" fill="#d8d8ff" fill-opacity="0.26"/>
<circle cx="1283" cy="19.8" r="0.9" fill="#d8d8ff" fill-opacity="0.33"/>
<circle cx="337.5" cy="26.3" r="1.0" fill="#d8d8ff" fill-opacity="0.16"/>
<circle cx="782.3" cy="424.4" r="1.1" fill="#d8d8ff" fill-opacity="0.34"/>
<circle cx="735.9" cy="289.9" r="1.7" fill="#d8d8ff" fill-opacity="0.52"/>
<circle cx="248" cy="139.5" r="1.3" fill="#d8d8ff" fill-opacity="0.43"/>
<circle cx="1411.6" cy="326.7" r="1.9" fill="#d8d8ff" fill-opacity="0.47"/>
<circle cx="9" cy="380.8" r="1.9" fill="#d8d8ff" fill-opacity="0.19"/>
<circle cx="930.9" cy="79.1" r="1.0" fill="#d8d8ff" fill-opacity="0.27"/>
<circle cx="914.5" cy="55.6" r="1.3" fill="#d8d8ff" fill-opacity="0.47"/>
<circle cx="377.7" cy="249.8" r="1.7" fill="#d8d8ff" fill-opacity="0.46"/>
<circle cx="1302.5" cy="438.3" r="1.3" fill="#d8d8ff" fill-opacity="0.44"/>
<circle cx="1370.5" cy="97.9" r="0.9" fill="#d8d8ff" fill-opacity="0.23"/>
<circle cx="1284.7" cy="379.6" r="1.2" fill="#d8d8ff" fill-opacity="0.58"/>
<circle cx="1059.5" cy="147.4" r="1.7" fill="#d8d8ff" fill-opacity="0.30"/>
<circle cx="339.6" cy="409.3" r="1.9" fill="#d8d8ff" fill-opacity="0.36"/>
<circle cx="753.5" cy="2.9" r="0.9" fill="#d8d8ff" fill-opacity="0.35"/>
<circle cx="1029" cy="257.2" r="1.3" fill="#d8d8ff" fill-opacity="0.51"/>
<circle cx="556" cy="264" r="1.1" fill="#d8d8ff" fill-opacity="0.22"/>
<circle cx="38.2" cy="48.1" r="1.1" fill="#d8d8ff" fill-opacity="0.31"/>
<circle cx="201.4" cy="13" r="0.9" fill="#d8d8ff" fill-opacity="0.21"/>
<circle cx="913.8" cy="19.2" r="1.0" fill="#d8d8ff" fill-opacity="0.48"/>
<circle cx="93.4" cy="266.3" r="1.5" fill="#d8d8ff" fill-opacity="0.24"/>
<circle cx="1355.5" cy="240.8" r="1.0" fill="#d8d8ff" fill-opacity="0.55"/>
<circle cx="1073.2" cy="320.8" r="1.7" fill="#d8d8ff" fill-opacity="0.20"/>
<circle cx="292.1" cy="50.5" r="0.9" fill="#d8d8ff" fill-opacity="0.58"/>
<circle cx="1293.8" cy="339.9" r="1.0" fill="#d8d8ff" fill-opacity="0.52"/>
<circle cx="896.8" cy="129.6" r="1.0" fill="#d8d8ff" fill-opacity="0.21"/>
<circle cx="1124.6" cy="291.5" r="1.3" fill="#d8d8ff" fill-opacity="0.29"/>
<circle cx="601.7" cy="9.4" r="1.3" fill="#d8d8ff" fill-opacity="0.57"/>
<circle cx="68.7" cy="342.7" r="1.5" fill="#d8d8ff" fill-opacity="0.50"/>
<circle cx="854.9" cy="214.7" r="1.3" fill="#d8d8ff" fill-opacity="0.43"/>
<circle cx="44" cy="186.2" r="1.7" fill="#d8d8ff" fill-opacity="0.38"/>
<circle cx="139.6" cy="211.5" r="0.9" fill="#d8d8ff" fill-opacity="0.39"/>
<circle cx="307.5" cy="388.9" r="1.0" fill="#d8d8ff" fill-opacity="0.41"/>
<circle cx="407.7" cy="196.7" r="1.2" fill="#d8d8ff" fill-opacity="0.28"/>
<circle cx="1065.7" cy="24.3" r="1.5" fill="#d8d8ff" fill-opacity="0.37"/>
<circle cx="697.9" cy="359.3" r="1.1" fill="#d8d8ff" fill-opacity="0.59"/>
<circle cx="841.4" cy="431.7" r="1.3" fill="#d8d8ff" fill-opacity="0.41"/>
<circle cx="225.6" cy="367.7" r="1.2" fill="#d8d8ff" fill-opacity="0.37"/>
<circle cx="156.1" cy="287.1" r="1.0" fill="#d8d8ff" fill-opacity="0.37"/>
<circle cx="1407.4" cy="253.1" r="1.0" fill="#d8d8ff" fill-opacity="0.43"/>
<circle cx="505" cy="181" r="1.7" fill="#d8d8ff" fill-opacity="0.55"/>
<circle cx="1058.2" cy="190.4" r="0.9" fill="#d8d8ff" fill-opacity="0.32"/>
<circle cx="430.5" cy="193.1" r="1.1" fill="#d8d8ff" fill-opacity="0.32"/>
<circle cx="1255.2" cy="105.3" r="1.9" fill="#d8d8ff" fill-opacity="0.21"/>
<circle cx="843.6" cy="310.8" r="0.9" fill="#d8d8ff" fill-opacity="0.31"/>
<circle cx="463.9" cy="70.1" r="1.9" fill="#d8d8ff" fill-opacity="0.45"/>
<circle cx="1053.6" cy="76.5" r="1.9" fill="#d8d8ff" fill-opacity="0.46"/>
<circle cx="365.2" cy="104.2" r="1.5" fill="#d8d8ff" fill-opacity="0.36"/>
<circle cx="1256.9" cy="107.3" r="1.2" fill="#d8d8ff" fill-opacity="0.27"/>
<circle cx="1071.7" cy="372.8" r="1.1" fill="#d8d8ff" fill-opacity="0.48"/>
<circle cx="1384.2" cy="326.1" r="1.5" fill="#d8d8ff" fill-opacity="0.22"/>
<circle cx="465.9" cy="85.4" r="1.0" fill="#d8d8ff" fill-opacity="0.22"/>
<circle cx="934.2" cy="88.1" r="1.1" fill="#d8d8ff" fill-opacity="0.59"/>
<circle cx="1128.7" cy="330.7" r="1.7" fill="#d8d8ff" fill-opacity="0.27"/>
<circle cx="155.2" cy="411" r="1.3" fill="#d8d8ff" fill-opacity="0.24"/>
<circle cx="551.4" cy="15.3" r="1.7" fill="#d8d8ff" fill-opacity="0.53"/>
<circle cx="619.9" cy="100.3" r="1.3" fill="#d8d8ff" fill-opacity="0.36"/>
<circle cx="201.4" cy="272.3" r="1.7" fill="#d8d8ff" fill-opacity="0.15"/>
<circle cx="344" cy="384.7" r="1.7" fill="#d8d8ff" fill-opacity="0.53"/>
<circle cx="948.4" cy="294.3" r="1.2" fill="#d8d8ff" fill-opacity="0.46"/>
<circle cx="911" cy="204.7" r="1.5" fill="#d8d8ff" fill-opacity="0.27"/>
<circle cx="994.9" cy="403.5" r="1.2" fill="#d8d8ff" fill-opacity="0.50"/>
<circle cx="1012.7" cy="284" r="1.3" fill="#d8d8ff" fill-opacity="0.53"/>
<circle cx="685.5" cy="8.9" r="1.7" fill="#d8d8ff" fill-opacity="0.38"/>
<circle cx="938.8" cy="393.7" r="1.5" fill="#d8d8ff" fill-opacity="0.50"/>
<circle cx="552" cy="220.9" r="1.0" fill="#d8d8ff" fill-opacity="0.17"/>
<circle cx="771.6" cy="72.5" r="1.2" fill="#d8d8ff" fill-opacity="0.38"/>
<circle cx="143.5" cy="259.1" r="1.2" fill="#d8d8ff" fill-opacity="0.47"/>
<circle cx="727.3" cy="288.3" r="1.5" fill="#d8d8ff" fill-opacity="0.38"/>
<circle cx="582.7" cy="427.5" r="1.2" fill="#d8d8ff" fill-opacity="0.60"/>
<circle cx="261" cy="231.7" r="1.0" fill="#d8d8ff" fill-opacity="0.48"/>
<circle cx="871.9" cy="287.5" r="1.3" fill="#d8d8ff" fill-opacity="0.27"/>
<circle cx="567.6" cy="6" r="1.7" fill="#d8d8ff" fill-opacity="0.56"/>
<circle cx="892.6" cy="304.4" r="1.3" fill="#d8d8ff" fill-opacity="0.20"/>
<circle cx="431" cy="180.6" r="1.2" fill="#d8d8ff" fill-opacity="0.60"/>
<circle cx="1364.4" cy="208.4" r="1.1" fill="#d8d8ff" fill-opacity="0.21"/>
<circle cx="1102.8" cy="365.1" r="1.2" fill="#d8d8ff" fill-opacity="0.36"/>
<circle cx="798.1" cy="101.9" r="1.1" fill="#d8d8ff" fill-opacity="0.31"/>
<circle cx="907.1" cy="369.3" r="1.7" fill="#d8d8ff" fill-opacity="0.36"/>
<circle cx="418" cy="247.3" r="1.1" fill="#d8d8ff" fill-opacity="0.50"/>
<circle cx="666.6" cy="353.4" r="1.2" fill="#d8d8ff" fill-opacity="0.27"/>
<circle cx="534.1" cy="114.4" r="1.7" fill="#d8d8ff" fill-opacity="0.46"/>
<circle cx="683.8" cy="363.3" r="1.3" fill="#d8d8ff" fill-opacity="0.31"/>
<circle cx="929.3" cy="144.5" r="1.9" fill="#d8d8ff" fill-opacity="0.34"/>
<circle cx="905" cy="297.3" r="1.5" fill="#d8d8ff" fill-opacity="0.22"/>
<circle cx="430.5" cy="173.7" r="1.0" fill="#d8d8ff" fill-opacity="0.52"/>
<circle cx="1286.2" cy="353.6" r="1.1" fill="#d8d8ff" fill-opacity="0.39"/>
<circle cx="490.1" cy="262.7" r="0.9" fill="#d8d8ff" fill-opacity="0.24"/>
<circle cx="102.2" cy="132.1" r="1.0" fill="#d8d8ff" fill-opacity="0.41"/>
<circle cx="1212.9" cy="83.7" r="1.9" fill="#d8d8ff" fill-opacity="0.31"/>
<circle cx="216.8" cy="407.7" r="1.1" fill="#d8d8ff" fill-opacity="0.42"/>
<circle cx="977" cy="440.7" r="1.0" fill="#d8d8ff" fill-opacity="0.45"/>
<circle cx="1269.4" cy="355.4" r="1.3" fill="#d8d8ff" fill-opacity="0.24"/>
<circle cx="983.8" cy="239.4" r="1.9" fill="#d8d8ff" fill-opacity="0.45"/>
<circle cx="166.1" cy="53.4" r="1.7" fill="#d8d8ff" fill-opacity="0.26"/>
<circle cx="197.9" cy="222.4" r="0.9" fill="#d8d8ff" fill-opacity="0.37"/>
<circle cx="1285.8" cy="315.9" r="1.2" fill="#d8d8ff" fill-opacity="0.37"/>
<circle cx="766.2" cy="389.2" r="0.9" fill="#d8d8ff" fill-opacity="0.22"/>
<circle cx="455.4" cy="313.8" r="1.9" fill="#d8d8ff" fill-opacity="0.45"/>
<circle cx="1193.6" cy="169.1" r="1.7" fill="#d8d8ff" fill-opacity="0.60"/>
<circle cx="959.8" cy="81.4" r="1.5" fill="#d8d8ff" fill-opacity="0.44"/>
<circle cx="40.5" cy="275" r="1.5" fill="#d8d8ff" fill-opacity="0.51"/>
<circle cx="133.4" cy="218.4" r="1.1" fill="#d8d8ff" fill-opacity="0.17"/>
<circle cx="1019.8" cy="282" r="1.5" fill="#d8d8ff" fill-opacity="0.19"/>
<circle cx="935.8" cy="153.9" r="1.2" fill="#d8d8ff" fill-opacity="0.28"/>
<circle cx="485.6" cy="113.5" r="0.9" fill="#d8d8ff" fill-opacity="0.52"/>
<circle cx="415.9" cy="373.3" r="1.7" fill="#d8d8ff" fill-opacity="0.30"/>
<circle cx="1397.7" cy="393.7" r="1.5" fill="#d8d8ff" fill-opacity="0.59"/>
<circle cx="929.5" cy="357.2" r="1.5" fill="#d8d8ff" fill-opacity="0.24"/>
<circle cx="1012.7" cy="57.5" r="1.0" fill="#d8d8ff" fill-opacity="0.50"/>
<circle cx="56.9" cy="325.9" r="1.7" fill="#d8d8ff" fill-opacity="0.40"/>
<circle cx="70.6" cy="135.5" r="0.9" fill="#d8d8ff" fill-opacity="0.17"/>
<circle cx="1167.2" cy="214.2" r="0.9" fill="#d8d8ff" fill-opacity="0.51"/>
<circle cx="1291.9" cy="275.9" r="1.1" fill="#d8d8ff" fill-opacity="0.43"/>
<circle cx="988.9" cy="268.9" r="1.0" fill="#d8d8ff" fill-opacity="0.25"/>
<circle cx="947.1" cy="206.5" r="1.1" fill="#d8d8ff" fill-opacity="0.20"/>
<circle cx="257.4" cy="16.7" r="1.0" fill="#d8d8ff" fill-opacity="0.56"/>
<circle cx="931.1" cy="166.4" r="1.1" fill="#d8d8ff" fill-opacity="0.50"/>
<circle cx="798.2" cy="116.4" r="1.3" fill="#d8d8ff" fill-opacity="0.23"/>
<circle cx="48.6" cy="9.2" r="0.9" fill="#d8d8ff" fill-opacity="0.37"/>
<circle cx="741.5" cy="372" r="1.7" fill="#d8d8ff" fill-opacity="0.41"/>
<circle cx="1304.5" cy="201.4" r="0.9" fill="#d8d8ff" fill-opacity="0.46"/>
<circle cx="843.3" cy="447.9" r="1.1" fill="#d8d8ff" fill-opacity="0.36"/>
<circle cx="585.6" cy="46" r="1.9" fill="#d8d8ff" fill-opacity="0.25"/>
<circle cx="215.5" cy="7" r="0.9" fill="#d8d8ff" fill-opacity="0.15"/>
<circle cx="950.5" cy="445" r="1.0" fill="#d8d8ff" fill-opacity="0.25"/>
<circle cx="172.3" cy="213" r="1.3" fill="#d8d8ff" fill-opacity="0.47"/>
<circle cx="344" cy="330.8" r="1.1" fill="#d8d8ff" fill-opacity="0.57"/>
<circle cx="519.5" cy="337" r="1.1" fill="#d8d8ff" fill-opacity="0.48"/>
<circle cx="119.7" cy="283.5" r="1.9" fill="#d8d8ff" fill-opacity="0.36"/>
<circle cx="1323.9" cy="114.6" r="0.9" fill="#d8d8ff" fill-opacity="0.47"/>
<circle cx="16.2" cy="6.6" r="1.0" fill="#d8d8ff" fill-opacity="0.33"/>
<circle cx="443.7" cy="270.7" r="1.9" fill="#d8d8ff" fill-opacity="0.42"/>
<circle cx="449.1" cy="427.9" r="1.9" fill="#d8d8ff" fill-opacity="0.36"/>
<circle cx="236.4" cy="435.8" r="1.0" fill="#d8d8ff" fill-opacity="0.31"/>
<circle cx="915.7" cy="284" r="1.7" fill="#d8d8ff" fill-opacity="0.36"/>
<circle cx="1104.9" cy="204.2" r="1.3" fill="#d8d8ff" fill-opacity="0.50"/>
<circle cx="804.9" cy="131.9" r="0.9" fill="#d8d8ff" fill-opacity="0.43"/>
<circle cx="924.3" cy="361.7" r="1.5" fill="#d8d8ff" fill-opacity="0.54"/>
<circle cx="1030.5" cy="7" r="1.1" fill="#d8d8ff" fill-opacity="0.42"/>
<circle cx="438.2" cy="193.3" r="1.2" fill="#d8d8ff" fill-opacity="0.32"/>
<circle cx="972.4" cy="271.4" r="1.2" fill="#d8d8ff" fill-opacity="0.51"/>
<circle cx="402.3" cy="0.8" r="1.3" fill="#d8d8ff" fill-opacity="0.27"/>
<circle cx="223.3" cy="415.2" r="0.9" fill="#d8d8ff" fill-opacity="0.28"/>
<circle cx="199.8" cy="401.7" r="1.1" fill="#d8d8ff" fill-opacity="0.27"/>
<circle cx="1208.7" cy="364" r="1.9" fill="#d8d8ff" fill-opacity="0.31"/>
<circle cx="120.8" cy="249.7" r="1.7" fill="#d8d8ff" fill-opacity="0.24"/>
<circle cx="1065.3" cy="420.2" r="1.2" fill="#d8d8ff" fill-opacity="0.29"/>
<circle cx="81.7" cy="178.4" r="1.2" fill="#d8d8ff" fill-opacity="0.57"/>
<circle cx="832.7" cy="4.2" r="1.7" fill="#d8d8ff" fill-opacity="0.36"/>
<circle cx="124.5" cy="363.8" r="1.0" fill="#d8d8ff" fill-opacity="0.25"/>
<circle cx="823" cy="404.5" r="1.5" fill="#d8d8ff" fill-opacity="0.36"/>
<circle cx="836.8" cy="85.3" r="1.2" fill="#d8d8ff" fill-opacity="0.19"/>
<circle cx="1144.3" cy="130.7" r="1.5" fill="#d8d8ff" fill-opacity="0.33"/>
<circle cx="734.4" cy="67.2" r="0.9" fill="#d8d8ff" fill-opacity="0.57"/>
<circle cx="700.4" cy="390.7" r="1.5" fill="#d8d8ff" fill-opacity="0.43"/>
<circle cx="1118" cy="70.4" r="0.9" fill="#d8d8ff" fill-opacity="0.31"/>
<circle cx="737.6" cy="9.3" r="0.9" fill="#d8d8ff" fill-opacity="0.24"/>
<circle cx="1236.5" cy="255" r="1.2" fill="#d8d8ff" fill-opacity="0.27"/>
<circle cx="1106.5" cy="192.1" r="1.9" fill="#d8d8ff" fill-opacity="0.50"/>
<circle cx="1162.7" cy="434.5" r="1.3" fill="#d8d8ff" fill-opacity="0.53"/>
<circle cx="481.2" cy="448.6" r="1.7" fill="#d8d8ff" fill-opacity="0.19"/>
<circle cx="72.4" cy="251.4" r="1.9" fill="#d8d8ff" fill-opacity="0.37"/>
<circle cx="1200.8" cy="403.6" r="1.7" fill="#d8d8ff" fill-opacity="0.56"/>
<circle cx="1003.1" cy="40.6" r="1.5" fill="#d8d8ff" fill-opacity="0.40"/>
<circle cx="909.7" cy="431.3" r="1.7" fill="#d8d8ff" fill-opacity="0.23"/>
<circle cx="1206.6" cy="167.3" r="1.2" fill="#d8d8ff" fill-opacity="0.60"/>
<circle cx="314.8" cy="17.4" r="1.3" fill="#d8d8ff" fill-opacity="0.57"/>
<circle cx="84.2" cy="249.3" r="0.9" fill="#d8d8ff" fill-opacity="0.53"/>
<circle cx="66.8" cy="354.7" r="1.9" fill="#d8d8ff" fill-opacity="0.18"/>
<circle cx="205.6" cy="340.5" r="1.2" fill="#d8d8ff" fill-opacity="0.45"/>
<circle cx="424.3" cy="266.8" r="1.0" fill="#d8d8ff" fill-opacity="0.36"/>
<circle cx="527.8" cy="175.9" r="1.5" fill="#d8d8ff" fill-opacity="0.37"/>
<circle cx="239.4" cy="107.5" r="1.1" fill="#d8d8ff" fill-opacity="0.56"/>
<circle cx="1266.9" cy="211" r="1.2" fill="#d8d8ff" fill-opacity="0.51"/>
<circle cx="222.9" cy="375.6" r="1.0" fill="#d8d8ff" fill-opacity="0.57"/>
<circle cx="1230.8" cy="400.8" r="1.1" fill="#d8d8ff" fill-opacity="0.50"/>
<circle cx="1360.3" cy="417.6" r="1.7" fill="#d8d8ff" fill-opacity="0.53"/>
<circle cx="892.3" cy="204" r="1.5" fill="#d8d8ff" fill-opacity="0.30"/>
<circle cx="332.1" cy="52.1" r="1.5" fill="#d8d8ff" fill-opacity="0.21"/>
<circle cx="314.7" cy="25.6" r="1.9" fill="#d8d8ff" fill-opacity="0.40"/>
<circle cx="205.5" cy="392.7" r="1.3" fill="#d8d8ff" fill-opacity="0.34"/>
<circle cx="350.4" cy="11.5" r="1.3" fill="#d8d8ff" fill-opacity="0.30"/>
<circle cx="238.3" cy="221.4" r="1.5" fill="#d8d8ff" fill-opacity="0.36"/>
<circle cx="685.1" cy="69.2" r="0.9" fill="#d8d8ff" fill-opacity="0.43"/>
<circle cx="1118.4" cy="417.3" r="1.9" fill="#d8d8ff" fill-opacity="0.53"/>
<circle cx="169.2" cy="340.4" r="1.5" fill="#d8d8ff" fill-opacity="0.34"/>
<circle cx="371.4" cy="107.6" r="1.2" fill="#d8d8ff" fill-opacity="0.19"/>
<circle cx="411" cy="404.2" r="0.9" fill="#d8d8ff" fill-opacity="0.52"/>
<circle cx="1389.5" cy="65.1" r="0.9" fill="#d8d8ff" fill-opacity="0.35"/>
<circle cx="721.1" cy="230.4" r="1.9" fill="#d8d8ff" fill-opacity="0.15"/>
<circle cx="1181.8" cy="237.5" r="1.1" fill="#d8d8ff" fill-opacity="0.31"/>
<circle cx="57.6" cy="184.4" r="1.3" fill="#d8d8ff" fill-opacity="0.41"/>
<circle cx="196.1" cy="81.2" r="1.2" fill="#d8d8ff" fill-opacity="0.47"/>
<circle cx="279.3" cy="35.7" r="1.0" fill="#d8d8ff" fill-opacity="0.55"/>
<circle cx="1037.8" cy="343.3" r="1.1" fill="#d8d8ff" fill-opacity="0.24"/>
<circle cx="869.7" cy="319.2" r="1.2" fill="#d8d8ff" fill-opacity="0.41"/>
<circle cx="287.3" cy="29.6" r="1.7" fill="#d8d8ff" fill-opacity="0.53"/>
<circle cx="1301.1" cy="233.8" r="1.5" fill="#d8d8ff" fill-opacity="0.30"/>
<circle cx="1195.5" cy="389.9" r="1.9" fill="#d8d8ff" fill-opacity="0.19"/>
<circle cx="581.5" cy="344.1" r="1.1" fill="#d8d8ff" fill-opacity="0.54"/>
<circle cx="378.1" cy="83.9" r="1.5" fill="#d8d8ff" fill-opacity="0.17"/>
<circle cx="997.2" cy="259.3" r="0.9" fill="#d8d8ff" fill-opacity="0.31"/>
<circle cx="1323.6" cy="436.9" r="1.0" fill="#d8d8ff" fill-opacity="0.20"/>
<circle cx="1014.7" cy="368.3" r="1.5" fill="#d8d8ff" fill-opacity="0.50"/>
<circle cx="1232.7" cy="259.9" r="0.9" fill="#d8d8ff" fill-opacity="0.28"/>
<circle cx="152.9" cy="329.7" r="1.9" fill="#d8d8ff" fill-opacity="0.38"/>
<circle cx="753.3" cy="242.3" r="0.9" fill="#d8d8ff" fill-opacity="0.26"/>
<circle cx="125.8" cy="279.2" r="1.1" fill="#d8d8ff" fill-opacity="0.20"/>
<circle cx="355.7" cy="368.5" r="0.9" fill="#d8d8ff" fill-opacity="0.16"/>
<circle cx="1315.4" cy="333.2" r="1.3" fill="#d8d8ff" fill-opacity="0.16"/>
<circle cx="851.1" cy="260" r="1.2" fill="#d8d8ff" fill-opacity="0.47"/>
<circle cx="146.1" cy="392.2" r="1.1" fill="#d8d8ff" fill-opacity="0.17"/>
<circle cx="174.7" cy="222.6" r="1.3" fill="#d8d8ff" fill-opacity="0.20"/>
<circle cx="172.6" cy="398.9" r="1.2" fill="#d8d8ff" fill-opacity="0.54"/>
<circle cx="209.1" cy="258.4" r="1.7" fill="#d8d8ff" fill-opacity="0.22"/>
<circle cx="1172.9" cy="422.8" r="1.7" fill="#d8d8ff" fill-opacity="0.46"/>
<circle cx="847.8" cy="271.9" r="0.9" fill="#d8d8ff" fill-opacity="0.33"/>
<circle cx="1336.6" cy="350.4" r="1.5" fill="#d8d8ff" fill-opacity="0.33"/>
<circle cx="1190.8" cy="322.7" r="1.5" fill="#d8d8ff" fill-opacity="0.52"/>
<circle cx="1203.6" cy="24.2" r="1.1" fill="#d8d8ff" fill-opacity="0.58"/>
<circle cx="1326.8" cy="112.4" r="1.7" fill="#d8d8ff" fill-opacity="0.45"/>
<circle cx="16.4" cy="49.2" r="1.1" fill="#d8d8ff" fill-opacity="0.18"/>
<circle cx="614.9" cy="227.7" r="0.9" fill="#d8d8ff" fill-opacity="0.25"/>
<circle cx="597.4" cy="179.1" r="1.9" fill="#d8d8ff" fill-opacity="0.43"/>
<circle cx="1149.2" cy="398.9" r="0.9" fill="#d8d8ff" fill-opacity="0.17"/>
<circle cx="911" cy="119.9" r="1.3" fill="#d8d8ff" fill-opacity="0.43"/>
<circle cx="1145" cy="16.1" r="1.0" fill="#d8d8ff" fill-opacity="0.26"/>
<circle cx="738.8" cy="195.6" r="0.9" fill="#d8d8ff" fill-opacity="0.28"/>
<circle cx="433.7" cy="292" r="1.0" fill="#d8d8ff" fill-opacity="0.18"/>
<circle cx="1361.9" cy="415.4" r="1.3" fill="#d8d8ff" fill-opacity="0.19"/>
<circle cx="838.2" cy="420.3" r="1.9" fill="#d8d8ff" fill-opacity="0.21"/>
<circle cx="186.5" cy="132.4" r="1.7" fill="#d8d8ff" fill-opacity="0.41"/>
<circle cx="389.2" cy="331.9" r="1.3" fill="#d8d8ff" fill-opacity="0.53"/>
<circle cx="866.1" cy="257.2" r="1.7" fill="#d8d8ff" fill-opacity="0.24"/>
<circle cx="1008.7" cy="207.9" r="1.3" fill="#d8d8ff" fill-opacity="0.43"/>
<circle cx="665.9" cy="140" r="1.2" fill="#d8d8ff" fill-opacity="0.30"/>
<circle cx="268.1" cy="246.2" r="1.7" fill="#d8d8ff" fill-opacity="0.16"/>
<circle cx="500.8" cy="388.7" r="1.2" fill="#d8d8ff" fill-opacity="0.30"/>
<circle cx="462.2" cy="121.7" r="1.2" fill="#d8d8ff" fill-opacity="0.28"/>
<circle cx="1096.4" cy="71.5" r="1.0" fill="#d8d8ff" fill-opacity="0.42"/>
<circle cx="494.2" cy="296.6" r="1.7" fill="#d8d8ff" fill-opacity="0.53"/>
<circle cx="502.8" cy="344" r="1.2" fill="#d8d8ff" fill-opacity="0.60"/>
<circle cx="962.3" cy="421.2" r="1.7" fill="#d8d8ff" fill-opacity="0.30"/>
<circle cx="500.5" cy="304.6" r="1.3" fill="#d8d8ff" fill-opacity="0.52"/>
<circle cx="735.2" cy="333.2" r="1.9" fill="#d8d8ff" fill-opacity="0.27"/>
<circle cx="895.5" cy="285.1" r="1.1" fill="#d8d8ff" fill-opacity="0.34"/>
<circle cx="146.8" cy="185.1" r="1.0" fill="#d8d8ff" fill-opacity="0.37"/>
<circle cx="1367.1" cy="258" r="1.7" fill="#d8d8ff" fill-opacity="0.53"/>
<circle cx="396.6" cy="280.3" r="1.0" fill="#d8d8ff" fill-opacity="0.32"/>
<circle cx="642.2" cy="206.5" r="1.5" fill="#d8d8ff" fill-opacity="0.28"/>
<circle cx="554.8" cy="250.5" r="1.7" fill="#d8d8ff" fill-opacity="0.44"/>
<circle cx="9.6" cy="336.3" r="1.9" fill="#d8d8ff" fill-opacity="0.32"/>
<circle cx="426" cy="242.1" r="1.1" fill="#d8d8ff" fill-opacity="0.35"/>
<circle cx="535.3" cy="104.6" r="1.5" fill="#d8d8ff" fill-opacity="0.30"/>
<circle cx="1197.6" cy="378" r="1.5" fill="#d8d8ff" fill-opacity="0.24"/>
<circle cx="605.6" cy="410.7" r="0.9" fill="#d8d8ff" fill-opacity="0.16"/>
<circle cx="364.3" cy="404" r="1.3" fill="#d8d8ff" fill-opacity="0.56"/>
<circle cx="1098.3" cy="242.9" r="1.7" fill="#d8d8ff" fill-opacity="0.38"/>
<circle cx="734.5" cy="309" r="1.7" fill="#d8d8ff" fill-opacity="0.36"/>
<circle cx="57.8" cy="305" r="1.9" fill="#d8d8ff" fill-opacity="0.58"/>
<circle cx="960.6" cy="236.9" r="1.0" fill="#d8d8ff" fill-opacity="0.33"/>
<circle cx="711.3" cy="292.5" r="1.1" fill="#d8d8ff" fill-opacity="0.55"/>
<circle cx="1369.5" cy="219.5" r="1.9" fill="#d8d8ff" fill-opacity="0.50"/>
<circle cx="1276.8" cy="264.9" r="1.0" fill="#d8d8ff" fill-opacity="0.23"/>
<circle cx="451.7" cy="441.3" r="1.3" fill="#d8d8ff" fill-opacity="0.38"/>
<circle cx="156.9" cy="403.4" r="1.5" fill="#d8d8ff" fill-opacity="0.52"/>
<circle cx="1406.2" cy="400.6" r="1.7" fill="#d8d8ff" fill-opacity="0.43"/>
<circle cx="744.2" cy="368.1" r="1.2" fill="#d8d8ff" fill-opacity="0.38"/>
<circle cx="267.1" cy="82.3" r="1.0" fill="#d8d8ff" fill-opacity="0.31"/>
<circle cx="1411.1" cy="287.1" r="0.9" fill="#d8d8ff" fill-opacity="0.46"/>
<circle cx="15.2" cy="1.3" r="0.9" fill="#d8d8ff" fill-opacity="0.56"/>
<circle cx="564.5" cy="44.4" r="0.9" fill="#d8d8ff" fill-opacity="0.45"/>
<circle cx="279.2" cy="224.5" r="1.3" fill="#d8d8ff" fill-opacity="0.54"/>
<circle cx="1271.7" cy="232" r="1.1" fill="#d8d8ff" fill-opacity="0.41"/>
<circle cx="583.8" cy="54.8" r="1.1" fill="#d8d8ff" fill-opacity="0.38"/>
<circle cx="723.5" cy="13.1" r="1.0" fill="#d8d8ff" fill-opacity="0.23"/>
<circle cx="741.9" cy="371.2" r="1.7" fill="#d8d8ff" fill-opacity="0.51"/>
<circle cx="88.2" cy="5.6" r="1.5" fill="#d8d8ff" fill-opacity="0.21"/>
<circle cx="338.3" cy="124.2" r="0.9" fill="#d8d8ff" fill-opacity="0.27"/>
<circle cx="141.2" cy="407.6" r="1.0" fill="#d8d8ff" fill-opacity="0.31"/>
<circle cx="638.8" cy="173.9" r="0.9" fill="#d8d8ff" fill-opacity="0.25"/>
<circle cx="562.3" cy="344.6" r="0.9" fill="#d8d8ff" fill-opacity="0.35"/>
<circle cx="880.7" cy="112.4" r="0.9" fill="#d8d8ff" fill-opacity="0.22"/>
<circle cx="833.5" cy="78.3" r="0.9" fill="#d8d8ff" fill-opacity="0.55"/>
<circle cx="1158.6" cy="137" r="1.3" fill="#d8d8ff" fill-opacity="0.58"/>
<circle cx="703.7" cy="428.3" r="1.2" fill="#d8d8ff" fill-opacity="0.45"/>
<circle cx="958.4" cy="263.8" r="1.7" fill="#d8d8ff" fill-opacity="0.29"/>
<circle cx="1242.9" cy="218.5" r="1.2" fill="#d8d8ff" fill-opacity="0.19"/>
<circle cx="241.3" cy="170.9" r="0.9" fill="#d8d8ff" fill-opacity="0.59"/>
<circle cx="412.8" cy="253.3" r="1.0" fill="#d8d8ff" fill-opacity="0.30"/>
<circle cx="1237.5" cy="151.5" r="1.0" fill="#d8d8ff" fill-opacity="0.58"/>
<circle cx="599.6" cy="411.8" r="1.2" fill="#d8d8ff" fill-opacity="0.32"/>
<circle cx="663.2" cy="155.4" r="1.7" fill="#d8d8ff" fill-opacity="0.17"/>
<circle cx="943.3" cy="154" r="1.1" fill="#d8d8ff" fill-opacity="0.26"/>
<circle cx="184.4" cy="88.5" r="1.1" fill="#d8d8ff" fill-opacity="0.40"/>
<circle cx="663.2" cy="358.5" r="1.2" fill="#d8d8ff" fill-opacity="0.22"/>
<circle cx="501.1" cy="325.8" r="1.7" fill="#d8d8ff" fill-opacity="0.43"/>
<circle cx="824.7" cy="134.1" r="1.9" fill="#d8d8ff" fill-opacity="0.38"/>
<circle cx="322.7" cy="204.2" r="1.1" fill="#d8d8ff" fill-opacity="0.57"/>
<circle cx="1417" cy="268.8" r="1.9" fill="#d8d8ff" fill-opacity="0.41"/>
<circle cx="522.6" cy="111.1" r="1.2" fill="#d8d8ff" fill-opacity="0.21"/>
<circle cx="1066" cy="305.7" r="1.0" fill="#d8d8ff" fill-opacity="0.39"/>
<circle cx="384" cy="348.1" r="1.7" fill="#d8d8ff" fill-opacity="0.16"/>
<circle cx="1019.9" cy="65.4" r="0.9" fill="#d8d8ff" fill-opacity="0.33"/>
<circle cx="122.2" cy="79.8" r="1.2" fill="#d8d8ff" fill-opacity="0.29"/>
<circle cx="941.1" cy="49.1" r="1.5" fill="#d8d8ff" fill-opacity="0.51"/>
<circle cx="1077" cy="87" r="1.3" fill="#d8d8ff" fill-opacity="0.19"/>
<circle cx="409.8" cy="368.4" r="1.7" fill="#d8d8ff" fill-opacity="0.28"/>
<circle cx="572.8" cy="409.9" r="1.1" fill="#d8d8ff" fill-opacity="0.57"/>
<circle cx="250.5" cy="165.3" r="1.5" fill="#d8d8ff" fill-opacity="0.55"/>
<circle cx="35.9" cy="317.4" r="1.9" fill="#d8d8ff" fill-opacity="0.26"/>
<circle cx="1202.3" cy="158.8" r="1.0" fill="#d8d8ff" fill-opacity="0.23"/>
<circle cx="163.6" cy="411.6" r="1.2" fill="#d8d8ff" fill-opacity="0.47"/>
<circle cx="57.4" cy="18" r="1.1" fill="#d8d8ff" fill-opacity="0.34"/>
<circle cx="1074.9" cy="70.4" r="0.9" fill="#d8d8ff" fill-opacity="0.40"/>
<circle cx="893.8" cy="424.6" r="1.2" fill="#d8d8ff" fill-opacity="0.41"/>
<circle cx="1017.6" cy="114.9" r="1.7" fill="#d8d8ff" fill-opacity="0.45"/>
<circle cx="816.9" cy="422" r="1.0" fill="#d8d8ff" fill-opacity="0.53"/>
<circle cx="1102.6" cy="129.1" r="0.9" fill="#d8d8ff" fill-opacity="0.54"/>
<circle cx="830.9" cy="313.9" r="1.2" fill="#d8d8ff" fill-opacity="0.46"/>
<circle cx="52.7" cy="143.7" r="1.5" fill="#d8d8ff" fill-opacity="0.49"/>
<circle cx="122.3" cy="313.3" r="1.7" fill="#d8d8ff" fill-opacity="0.60"/>
<circle cx="873.8" cy="99.6" r="1.0" fill="#d8d8ff" fill-opacity="0.31"/>
<circle cx="1348.4" cy="199.6" r="1.5" fill="#d8d8ff" fill-opacity="0.46"/>
<circle cx="1048.8" cy="374.3" r="1.9" fill="#d8d8ff" fill-opacity="0.38"/>
<circle cx="960.8" cy="92.9" r="1.1" fill="#d8d8ff" fill-opacity="0.37"/>
<circle cx="268.8" cy="429.5" r="1.3" fill="#d8d8ff" fill-opacity="0.23"/>
<circle cx="232.4" cy="352.2" r="1.2" fill="#d8d8ff" fill-opacity="0.39"/>
<circle cx="354.6" cy="26.8" r="1.5" fill="#d8d8ff" fill-opacity="0.31"/>
<circle cx="131.4" cy="287.1" r="1.1" fill="#d8d8ff" fill-opacity="0.21"/>
<circle cx="1003.9" cy="302.3" r="1.2" fill="#d8d8ff" fill-opacity="0.47"/>
<circle cx="8.3" cy="311.9" r="1.1" fill="#d8d8ff" fill-opacity="0.57"/>
<circle cx="499.1" cy="135" r="1.1" fill="#d8d8ff" fill-opacity="0.41"/>
<circle cx="341.9" cy="283.9" r="1.0" fill="#d8d8ff" fill-opacity="0.40"/>
<circle cx="1079.9" cy="76.3" r="1.1" fill="#d8d8ff" fill-opacity="0.42"/>
<circle cx="654.9" cy="345.5" r="1.2" fill="#d8d8ff" fill-opacity="0.20"/>
<circle cx="410.9" cy="162.6" r="1.2" fill="#d8d8ff" fill-opacity="0.17"/>
<circle cx="1272.1" cy="137.1" r="1.0" fill="#d8d8ff" fill-opacity="0.47"/>
<circle cx="636.2" cy="51" r="1.5" fill="#d8d8ff" fill-opacity="0.35"/>
<circle cx="808.2" cy="130.6" r="1.0" fill="#d8d8ff" fill-opacity="0.17"/>
<circle cx="665.3" cy="441.9" r="1.9" fill="#d8d8ff" fill-opacity="0.19"/>
<circle cx="1018.3" cy="442.1" r="1.3" fill="#d8d8ff" fill-opacity="0.20"/>
<circle cx="694.2" cy="195.8" r="1.2" fill="#d8d8ff" fill-opacity="0.50"/>
<circle cx="457" cy="162" r="1.0" fill="#d8d8ff" fill-opacity="0.44"/>
<circle cx="891.4" cy="421.8" r="1.3" fill="#d8d8ff" fill-opacity="0.44"/>
<circle cx="111" cy="337.1" r="0.9" fill="#d8d8ff" fill-opacity="0.50"/>
<circle cx="1192.2" cy="133.6" r="1.1" fill="#d8d8ff" fill-opacity="0.58"/>
<circle cx="746.1" cy="403.9" r="1.1" fill="#d8d8ff" fill-opacity="0.20"/>
<circle cx="1020.8" cy="140" r="1.5" fill="#d8d8ff" fill-opacity="0.32"/>
<circle cx="919.2" cy="160.7" r="1.2" fill="#d8d8ff" fill-opacity="0.32"/>
<circle cx="782.6" cy="166.5" r="1.3" fill="#d8d8ff" fill-opacity="0.26"/>
<circle cx="58.6" cy="255.7" r="1.7" fill="#d8d8ff" fill-opacity="0.56"/>
<circle cx="1341.8" cy="223" r="1.9" fill="#d8d8ff" fill-opacity="0.48"/>
<circle cx="1413.8" cy="271.8" r="1.0" fill="#d8d8ff" fill-opacity="0.21"/>
<circle cx="323" cy="62.4" r="1.7" fill="#d8d8ff" fill-opacity="0.19"/>
<circle cx="56.7" cy="198.2" r="1.2" fill="#d8d8ff" fill-opacity="0.25"/>
<circle cx="528.9" cy="14.4" r="1.7" fill="#d8d8ff" fill-opacity="0.21"/>
<circle cx="102.2" cy="24.9" r="1.7" fill="#d8d8ff" fill-opacity="0.55"/>
<circle cx="89.1" cy="4" r="1.1" fill="#d8d8ff" fill-opacity="0.56"/>
<circle cx="233.5" cy="133.4" r="1.9" fill="#d8d8ff" fill-opacity="0.51"/>
<circle cx="958.9" cy="255.9" r="1.9" fill="#d8d8ff" fill-opacity="0.19"/>
<circle cx="459.6" cy="207.7" r="1.1" fill="#d8d8ff" fill-opacity="0.59"/>
<circle cx="1365.8" cy="279.6" r="0.9" fill="#d8d8ff" fill-opacity="0.48"/>
<circle cx="470.8" cy="297" r="1.7" fill="#d8d8ff" fill-opacity="0.58"/>
<circle cx="682.6" cy="292" r="1.3" fill="#d8d8ff" fill-opacity="0.54"/>
<circle cx="753.2" cy="285.8" r="1.2" fill="#d8d8ff" fill-opacity="0.25"/>
<circle cx="1050.4" cy="311.8" r="1.1" fill="#d8d8ff" fill-opacity="0.45"/>
<circle cx="528.3" cy="261.9" r="1.7" fill="#d8d8ff" fill-opacity="0.31"/>
<circle cx="341.1" cy="199.1" r="1.3" fill="#d8d8ff" fill-opacity="0.20"/>
<circle cx="256.3" cy="401.4" r="1.0" fill="#d8d8ff" fill-opacity="0.25"/>
<circle cx="1189" cy="293" r="1.2" fill="#d8d8ff" fill-opacity="0.39"/>
<circle cx="357.2" cy="220.7" r="1.9" fill="#d8d8ff" fill-opacity="0.25"/>
<circle cx="813.2" cy="51" r="1.0" fill="#d8d8ff" fill-opacity="0.53"/>
<circle cx="964.9" cy="361" r="1.1" fill="#d8d8ff" fill-opacity="0.54"/>
<circle cx="781.8" cy="322.3" r="1.0" fill="#d8d8ff" fill-opacity="0.43"/>
<circle cx="1363.7" cy="232.3" r="1.9" fill="#d8d8ff" fill-opacity="0.52"/>
<circle cx="556.6" cy="77.2" r="1.2" fill="#d8d8ff" fill-opacity="0.40"/>
<circle cx="1100.5" cy="61.7" r="0.9" fill="#d8d8ff" fill-opacity="0.33"/>
<circle cx="67.1" cy="18.8" r="1.2" fill="#d8d8ff" fill-opacity="0.36"/>
<circle cx="171.2" cy="61.2" r="1.0" fill="#d8d8ff" fill-opacity="0.43"/>
<circle cx="1238.4" cy="253.9" r="1.5" fill="#d8d8ff" fill-opacity="0.23"/>
<circle cx="1058.5" cy="154" r="0.9" fill="#d8d8ff" fill-opacity="0.52"/>
<circle cx="174.3" cy="168.2" r="1.5" fill="#d8d8ff" fill-opacity="0.47"/>
<circle cx="61.8" cy="272.3" r="1.0" fill="#d8d8ff" fill-opacity="0.31"/>
<circle cx="464.9" cy="272" r="0.9" fill="#d8d8ff" fill-opacity="0.57"/>
<circle cx="958.8" cy="114.8" r="1.2" fill="#d8d8ff" fill-opacity="0.46"/>
<circle cx="30.2" cy="445.9" r="1.9" fill="#d8d8ff" fill-opacity="0.20"/>
<circle cx="29.8" cy="49.8" r="1.3" fill="#d8d8ff" fill-opacity="0.23"/>
<circle cx="787" cy="130.8" r="1.7" fill="#d8d8ff" fill-opacity="0.53"/>
<circle cx="835.4" cy="112.9" r="1.3" fill="#d8d8ff" fill-opacity="0.58"/>
<circle cx="19.6" cy="154.4" r="1.1" fill="#d8d8ff" fill-opacity="0.37"/>
<circle cx="687.2" cy="14.3" r="0.9" fill="#d8d8ff" fill-opacity="0.18"/>
<circle cx="881" cy="290.8" r="1.7" fill="#d8d8ff" fill-opacity="0.53"/>
<circle cx="1373.9" cy="312.5" r="1.9" fill="#d8d8ff" fill-opacity="0.33"/>
<circle cx="1239.7" cy="275.5" r="1.0" fill="#d8d8ff" fill-opacity="0.31"/>
<circle cx="750.1" cy="140.4" r="1.1" fill="#d8d8ff" fill-opacity="0.42"/>
<circle cx="62" cy="76.5" r="1.5" fill="#d8d8ff" fill-opacity="0.48"/>
<circle cx="470.5" cy="211.3" r="1.5" fill="#d8d8ff" fill-opacity="0.29"/>
<circle cx="476.4" cy="218" r="1.2" fill="#d8d8ff" fill-opacity="0.16"/>
<circle cx="652.4" cy="444.9" r="0.9" fill="#d8d8ff" fill-opacity="0.43"/>
<circle cx="1032.3" cy="64.8" r="1.7" fill="#d8d8ff" fill-opacity="0.27"/>
<circle cx="710" cy="118.2" r="1.1" fill="#d8d8ff" fill-opacity="0.60"/>
<circle cx="48.4" cy="252.8" r="1.0" fill="#d8d8ff" fill-opacity="0.54"/>
<circle cx="1099.5" cy="285.5" r="1.0" fill="#d8d8ff" fill-opacity="0.31"/>
<circle cx="399.8" cy="358.7" r="1.1" fill="#d8d8ff" fill-opacity="0.46"/>
<circle cx="431.7" cy="344.3" r="1.5" fill="#d8d8ff" fill-opacity="0.38"/>
<circle cx="902" cy="158" r="1.7" fill="#d8d8ff" fill-opacity="0.30"/>
<circle cx="1000" cy="303" r="1.9" fill="#d8d8ff" fill-opacity="0.38"/>
<circle cx="1269.8" cy="365" r="1.5" fill="#d8d8ff" fill-opacity="0.22"/>
<circle cx="291.6" cy="400.8" r="1.9" fill="#d8d8ff" fill-opacity="0.33"/>
<circle cx="562.4" cy="348.3" r="1.1" fill="#d8d8ff" fill-opacity="0.41"/>
<circle cx="204.2" cy="324.7" r="1.3" fill="#d8d8ff" fill-opacity="0.48"/>
<circle cx="782.8" cy="422.8" r="1.5" fill="#d8d8ff" fill-opacity="0.18"/>
<circle cx="270.1" cy="417.1" r="1.1" fill="#d8d8ff" fill-opacity="0.29"/>
<circle cx="502" cy="211" r="1.7" fill="#d8d8ff" fill-opacity="0.47"/>
<circle cx="1309.2" cy="378.2" r="1.5" fill="#d8d8ff" fill-opacity="0.55"/>
<circle cx="391.7" cy="116.2" r="0.9" fill="#d8d8ff" fill-opacity="0.49"/>
<circle cx="889.6" cy="106.8" r="0.9" fill="#d8d8ff" fill-opacity="0.25"/>
<circle cx="567.4" cy="90.4" r="1.3" fill="#d8d8ff" fill-opacity="0.54"/>
<circle cx="920.3" cy="88.7" r="0.9" fill="#d8d8ff" fill-opacity="0.58"/>
<circle cx="853.5" cy="35.8" r="1.5" fill="#d8d8ff" fill-opacity="0.47"/>
<circle cx="7.2" cy="122.1" r="0.9" fill="#d8d8ff" fill-opacity="0.44"/>
<circle cx="1310.5" cy="95.7" r="1.5" fill="#d8d8ff" fill-opacity="0.54"/>
<circle cx="38.5" cy="219.3" r="1.5" fill="#d8d8ff" fill-opacity="0.23"/>
<circle cx="1225.9" cy="359.1" r="1.0" fill="#d8d8ff" fill-opacity="0.43"/>
<circle cx="475" cy="223" r="1.7" fill="#d8d8ff" fill-opacity="0.27"/>
<circle cx="658" cy="6.1" r="1.5" fill="#d8d8ff" fill-opacity="0.40"/>
<circle cx="1402.3" cy="25.3" r="1.5" fill="#d8d8ff" fill-opacity="0.22"/>
<circle cx="26.4" cy="94.9" r="1.0" fill="#d8d8ff" fill-opacity="0.31"/>
<circle cx="513.7" cy="155.2" r="1.1" fill="#d8d8ff" fill-opacity="0.45"/>
<circle cx="854.2" cy="149.2" r="1.3" fill="#d8d8ff" fill-opacity="0.52"/>
<circle cx="678.1" cy="14.3" r="1.3" fill="#d8d8ff" fill-opacity="0.44"/>
<circle cx="780.3" cy="318.6" r="1.3" fill="#d8d8ff" fill-opacity="0.31"/>
<circle cx="752.1" cy="123.5" r="1.3" fill="#d8d8ff" fill-opacity="0.15"/>
<circle cx="675.6" cy="295.6" r="1.5" fill="#d8d8ff" fill-opacity="0.22"/>
<circle cx="893" cy="180.8" r="1.0" fill="#d8d8ff" fill-opacity="0.57"/>
<circle cx="887" cy="55.1" r="1.2" fill="#d8d8ff" fill-opacity="0.40"/>
<circle cx="258.2" cy="423.8" r="1.5" fill="#d8d8ff" fill-opacity="0.48"/>
<circle cx="1282.1" cy="392.7" r="1.1" fill="#d8d8ff" fill-opacity="0.39"/>
<circle cx="498.2" cy="320" r="1.9" fill="#d8d8ff" fill-opacity="0.59"/>
<circle cx="708.5" cy="286.9" r="1.5" fill="#d8d8ff" fill-opacity="0.56"/>
<circle cx="552.4" cy="95.7" r="0.9" fill="#d8d8ff" fill-opacity="0.20"/>
<circle cx="1041.4" cy="29.5" r="1.7" fill="#d8d8ff" fill-opacity="0.45"/>
<circle cx="498" cy="102.9" r="1.7" fill="#d8d8ff" fill-opacity="0.33"/>
<circle cx="1305.2" cy="426.2" r="1.2" fill="#d8d8ff" fill-opacity="0.16"/>
<circle cx="29.5" cy="319.9" r="1.2" fill="#d8d8ff" fill-opacity="0.25"/>
<circle cx="288.6" cy="342.4" r="1.3" fill="#d8d8ff" fill-opacity="0.28"/>
<circle cx="1411.9" cy="97.7" r="1.1" fill="#d8d8ff" fill-opacity="0.36"/>
<circle cx="1326.1" cy="346.9" r="1.1" fill="#d8d8ff" fill-opacity="0.52"/>
<circle cx="401.2" cy="149.5" r="1.9" fill="#d8d8ff" fill-opacity="0.54"/>
<circle cx="354.6" cy="144.2" r="1.9" fill="#d8d8ff" fill-opacity="0.25"/>
<circle cx="74" cy="352.8" r="1.5" fill="#d8d8ff" fill-opacity="0.17"/>
<circle cx="1099" cy="198" r="1.7" fill="#d8d8ff" fill-opacity="0.54"/>
<circle cx="1412.6" cy="134.2" r="0.9" fill="#d8d8ff" fill-opacity="0.51"/>
<circle cx="215.7" cy="411.6" r="1.1" fill="#d8d8ff" fill-opacity="0.56"/>
<circle cx="214.1" cy="331.9" r="1.0" fill="#d8d8ff" fill-opacity="0.49"/>
<circle cx="659.6" cy="179.1" r="1.7" fill="#d8d8ff" fill-opacity="0.30"/>
<circle cx="1304.3" cy="323.1" r="1.5" fill="#d8d8ff" fill-opacity="0.59"/>
<circle cx="46.7" cy="105.8" r="0.9" fill="#d8d8ff" fill-opacity="0.17"/>
<circle cx="716.8" cy="104.5" r="1.7" fill="#d8d8ff" fill-opacity="0.46"/>
<circle cx="1034.5" cy="21.8" r="1.5" fill="#d8d8ff" fill-opacity="0.18"/>
<circle cx="156.7" cy="431.7" r="1.1" fill="#d8d8ff" fill-opacity="0.39"/>
<circle cx="3.7" cy="101" r="1.1" fill="#d8d8ff" fill-opacity="0.43"/>
<circle cx="774.6" cy="448" r="1.5" fill="#d8d8ff" fill-opacity="0.53"/>
<circle cx="1359.3" cy="34.9" r="1.2" fill="#d8d8ff" fill-opacity="0.53"/>
<circle cx="1380.3" cy="101" r="1.0" fill="#d8d8ff" fill-opacity="0.27"/>
<circle cx="251.7" cy="119.4" r="1.0" fill="#d8d8ff" fill-opacity="0.58"/>
<circle cx="279" cy="21.6" r="1.5" fill="#d8d8ff" fill-opacity="0.27"/>
<circle cx="462.5" cy="18.7" r="1.9" fill="#d8d8ff" fill-opacity="0.39"/>
<circle cx="779.3" cy="311.3" r="1.3" fill="#d8d8ff" fill-opacity="0.33"/>
<circle cx="451.9" cy="189" r="1.1" fill="#d8d8ff" fill-opacity="0.32"/>
<circle cx="547.3" cy="184.9" r="1.1" fill="#d8d8ff" fill-opacity="0.55"/>
<circle cx="901.7" cy="107.8" r="1.3" fill="#d8d8ff" fill-opacity="0.46"/>
<circle cx="1036.6" cy="446.9" r="1.2" fill="#d8d8ff" fill-opacity="0.45"/>
<circle cx="123.3" cy="280" r="0.9" fill="#d8d8ff" fill-opacity="0.56"/>
<circle cx="70.3" cy="313.1" r="1.5" fill="#d8d8ff" fill-opacity="0.46"/>
<circle cx="628.2" cy="301.3" r="1.9" fill="#d8d8ff" fill-opacity="0.59"/>
<circle cx="1.3" cy="336.5" r="1.9" fill="#d8d8ff" fill-opacity="0.38"/>
<circle cx="841.1" cy="448.6" r="1.2" fill="#d8d8ff" fill-opacity="0.52"/>
<circle cx="1123.7" cy="392.1" r="1.5" fill="#d8d8ff" fill-opacity="0.47"/>
<circle cx="558.8" cy="237.3" r="1.5" fill="#d8d8ff" fill-opacity="0.18"/>
<circle cx="1132.2" cy="299.6" r="1.3" fill="#d8d8ff" fill-opacity="0.27"/>
<circle cx="1194.3" cy="386.8" r="1.5" fill="#d8d8ff" fill-opacity="0.38"/>
<circle cx="676.8" cy="99.8" r="1.1" fill="#d8d8ff" fill-opacity="0.18"/>
<circle cx="1075.3" cy="164.2" r="1.2" fill="#d8d8ff" fill-opacity="0.39"/>
<circle cx="1155" cy="107.6" r="1.1" fill="#d8d8ff" fill-opacity="0.22"/>
<circle cx="939.8" cy="80.1" r="0.9" fill="#d8d8ff" fill-opacity="0.29"/>
<circle cx="513.7" cy="389.5" r="1.7" fill="#d8d8ff" fill-opacity="0.21"/>
<circle cx="218.5" cy="113.4" r="1.0" fill="#d8d8ff" fill-opacity="0.31"/>
<circle cx="941.5" cy="235.7" r="1.3" fill="#d8d8ff" fill-opacity="0.35"/>
<circle cx="125" cy="178.4" r="1.9" fill="#d8d8ff" fill-opacity="0.46"/>
<circle cx="638" cy="215.7" r="1.1" fill="#d8d8ff" fill-opacity="0.49"/>
<circle cx="212.8" cy="306.8" r="1.5" fill="#d8d8ff" fill-opacity="0.37"/>
<circle cx="937.6" cy="280.9" r="1.5" fill="#d8d8ff" fill-opacity="0.51"/>
<circle cx="359.1" cy="250.8" r="0.9" fill="#d8d8ff" fill-opacity="0.41"/>
<circle cx="82" cy="80.5" r="1.3" fill="#d8d8ff" fill-opacity="0.56"/>
<circle cx="363" cy="119.7" r="1.9" fill="#d8d8ff" fill-opacity="0.19"/>
<circle cx="903.3" cy="387.4" r="1.2" fill="#d8d8ff" fill-opacity="0.21"/>
<circle cx="1360.9" cy="131" r="1.5" fill="#d8d8ff" fill-opacity="0.56"/>
<circle cx="1018.7" cy="169.5" r="0.9" fill="#d8d8ff" fill-opacity="0.47"/>
<circle cx="419.3" cy="184" r="1.3" fill="#d8d8ff" fill-opacity="0.31"/>
<circle cx="547.2" cy="261" r="1.2" fill="#d8d8ff" fill-opacity="0.59"/>
<circle cx="1209.4" cy="261.7" r="1.0" fill="#d8d8ff" fill-opacity="0.45"/>
<circle cx="467.8" cy="31.9" r="1.9" fill="#d8d8ff" fill-opacity="0.32"/>
<circle cx="746.7" cy="224" r="0.9" fill="#d8d8ff" fill-opacity="0.20"/>
<circle cx="800.2" cy="421.7" r="1.7" fill="#d8d8ff" fill-opacity="0.34"/>
<circle cx="672.5" cy="401.5" r="1.9" fill="#d8d8ff" fill-opacity="0.33"/>
<circle cx="192.1" cy="339.5" r="0.9" fill="#d8d8ff" fill-opacity="0.45"/>
<circle cx="1051.4" cy="181.2" r="0.9" fill="#d8d8ff" fill-opacity="0.57"/>
<circle cx="417.5" cy="148.9" r="1.7" fill="#d8d8ff" fill-opacity="0.50"/>
<circle cx="167.7" cy="99.5" r="1.0" fill="#d8d8ff" fill-opacity="0.41"/>
<circle cx="22" cy="224.1" r="1.2" fill="#d8d8ff" fill-opacity="0.40"/>
<circle cx="78.1" cy="307.1" r="1.5" fill="#d8d8ff" fill-opacity="0.37"/>
<circle cx="77.8" cy="311.6" r="1.7" fill="#d8d8ff" fill-opacity="0.53"/>
<circle cx="199.1" cy="183.5" r="0.9" fill="#d8d8ff" fill-opacity="0.54"/>
<circle cx="206.6" cy="150.8" r="0.9" fill="#d8d8ff" fill-opacity="0.23"/>
<circle cx="765.2" cy="234.5" r="1.0" fill="#d8d8ff" fill-opacity="0.29"/>
</g>
<filter id="fl2"><feGaussianBlur stdDeviation="1.5"/></filter>
<g filter="url(#fl2)" stroke="#3d7ee0" stroke-width="2.2" stroke-opacity="0.55"><line x1="940" y1="1" x2="921" y2="23"/><line x1="940" y1="1" x2="961" y2="15"/></g>
<circle cx="940" cy="1" r="9" fill="#2a78e0" fill-opacity="0.6" filter="url(#fl2)"/>
<circle cx="245" cy="37" r="4.840000000000001" fill="#6aa8ff" fill-opacity="0.35" filter="url(#blur2)"/>
<circle cx="245" cy="37" r="2.2" fill="#cfe6ff"/>
<circle cx="52" cy="216" r="4.4" fill="#6aa8ff" fill-opacity="0.35" filter="url(#blur2)"/>
<circle cx="52" cy="216" r="2.0" fill="#cfe6ff"/>
<circle cx="939" cy="2" r="6.6000000000000005" fill="#6aa8ff" fill-opacity="0.35" filter="url(#blur2)"/>
<circle cx="939" cy="2" r="3.0" fill="#cfe6ff"/>
<circle cx="776" cy="22" r="3.9600000000000004" fill="#6aa8ff" fill-opacity="0.35" filter="url(#blur2)"/>
<circle cx="776" cy="22" r="1.8" fill="#cfe6ff"/>
<circle cx="1177" cy="330" r="3.9600000000000004" fill="#6aa8ff" fill-opacity="0.35" filter="url(#blur2)"/>
<circle cx="1177" cy="330" r="1.8" fill="#cfe6ff"/>
<path d="M179.8,45 L188.1,45 L196.3,44.9 L204.6,44.9 L212.8,44.8 L221.1,44.8 L229.3,44.6 L237.6,44.5 L245.8,44.3 L254.1,44 L262.3,43.7 L270.6,43.2 L278.8,42.7 L287.1,42 L295.3,41.1 L303.6,40.1 L311.9,38.9 L320.1,37.6 L328.4,36.1 L336.6,34.5 L344.9,32.7 L353.1,30.9 L361.4,29 L369.6,27.2 L377.9,25.5 L386.1,23.9 L394.4,22.5 L402.6,21.3 L410.9,20.5 L419.1,20.1 L427.4,20 L435.7,20.3 L443.9,21 L452.2,22 L460.4,23.2 L468.7,24.8 L476.9,26.5 L485.2,28.3 L493.4,30.1 L501.7,32 L509.9,33.8 L518.2,35.4 L526.4,37 L534.7,38.4 L542.9,39.6 L551.2,40.7 L559.5,41.6 L567.7,42.4 L576,43 L584.2,43.5 L592.5,43.9 L600.7,44.2 L609,44.4 L617.2,44.6 L625.5,44.7 L633.7,44.8 L642,44.9 L650.2,44.9 L658.5,44.9 L666.7,45 L675,45 L751.7,352.7 L740.8,352.7 L730,352.7 L719.1,352.7 L708.3,352.7 L697.4,352.7 L686.6,352.7 L675.7,352.7 L664.8,352.7 L654,352.6 L643.1,352.6 L632.3,352.5 L621.4,352.4 L610.6,352.1 L599.7,351.9 L588.9,351.4 L578,350.8 L567.1,350 L556.3,349 L545.4,347.7 L534.6,346.1 L523.7,344.2 L512.9,342.1 L502,339.7 L491.1,337.3 L480.3,334.9 L469.4,332.6 L458.6,330.6 L447.7,329.1 L436.9,328.1 L426,327.7 L415.1,328 L404.3,328.9 L393.4,330.3 L382.6,332.2 L371.7,334.4 L360.9,336.9 L350,339.3 L339.1,341.7 L328.3,343.8 L317.4,345.8 L306.6,347.4 L295.7,348.8 L284.9,349.9 L274,350.7 L263.1,351.3 L252.3,351.8 L241.4,352.1 L230.6,352.3 L219.7,352.5 L208.9,352.6 L198,352.6 L187.2,352.7 L176.3,352.7 L165.4,352.7 L154.6,352.7 L143.7,352.7 L132.9,352.7 L122,352.7 L111.2,352.7 L100.3,352.7Z" fill="url(#surfG)"/>
<clipPath id="surfclip"><path d="M179.8,45 L188.1,45 L196.3,44.9 L204.6,44.9 L212.8,44.8 L221.1,44.8 L229.3,44.6 L237.6,44.5 L245.8,44.3 L254.1,44 L262.3,43.7 L270.6,43.2 L278.8,42.7 L287.1,42 L295.3,41.1 L303.6,40.1 L311.9,38.9 L320.1,37.6 L328.4,36.1 L336.6,34.5 L344.9,32.7 L353.1,30.9 L361.4,29 L369.6,27.2 L377.9,25.5 L386.1,23.9 L394.4,22.5 L402.6,21.3 L410.9,20.5 L419.1,20.1 L427.4,20 L435.7,20.3 L443.9,21 L452.2,22 L460.4,23.2 L468.7,24.8 L476.9,26.5 L485.2,28.3 L493.4,30.1 L501.7,32 L509.9,33.8 L518.2,35.4 L526.4,37 L534.7,38.4 L542.9,39.6 L551.2,40.7 L559.5,41.6 L567.7,42.4 L576,43 L584.2,43.5 L592.5,43.9 L600.7,44.2 L609,44.4 L617.2,44.6 L625.5,44.7 L633.7,44.8 L642,44.9 L650.2,44.9 L658.5,44.9 L666.7,45 L675,45 L751.7,352.7 L740.8,352.7 L730,352.7 L719.1,352.7 L708.3,352.7 L697.4,352.7 L686.6,352.7 L675.7,352.7 L664.8,352.7 L654,352.6 L643.1,352.6 L632.3,352.5 L621.4,352.4 L610.6,352.1 L599.7,351.9 L588.9,351.4 L578,350.8 L567.1,350 L556.3,349 L545.4,347.7 L534.6,346.1 L523.7,344.2 L512.9,342.1 L502,339.7 L491.1,337.3 L480.3,334.9 L469.4,332.6 L458.6,330.6 L447.7,329.1 L436.9,328.1 L426,327.7 L415.1,328 L404.3,328.9 L393.4,330.3 L382.6,332.2 L371.7,334.4 L360.9,336.9 L350,339.3 L339.1,341.7 L328.3,343.8 L317.4,345.8 L306.6,347.4 L295.7,348.8 L284.9,349.9 L274,350.7 L263.1,351.3 L252.3,351.8 L241.4,352.1 L230.6,352.3 L219.7,352.5 L208.9,352.6 L198,352.6 L187.2,352.7 L176.3,352.7 L165.4,352.7 L154.6,352.7 L143.7,352.7 L132.9,352.7 L122,352.7 L111.2,352.7 L100.3,352.7Z"/></clipPath>
<filter id="blur12" filterUnits="userSpaceOnUse" x="0" y="0" width="900" height="452"><feGaussianBlur stdDeviation="11"/></filter>
<g clip-path="url(#surfclip)">
<filter id="blur25" filterUnits="userSpaceOnUse" x="0" y="0" width="900" height="452"><feGaussianBlur stdDeviation="22"/></filter>
<g filter="url(#blur25)">
<rect x="335" y="0" width="190" height="380" fill="#386c24" fill-opacity="0.7"/>
<rect x="150" y="0" width="560" height="80" fill="#3e722e" fill-opacity="0.5"/>
</g>
<g filter="url(#blur6)" opacity="0.42">
<rect x="135" y="225" width="40" height="150" fill="#3c8478"/>
<rect x="298" y="225" width="34" height="150" fill="#3f8a86"/>
<rect x="470" y="225" width="22" height="150" fill="#3b8878"/>
<rect x="560" y="225" width="40" height="150" fill="#3f8a86"/>
<rect x="690" y="225" width="30" height="150" fill="#3c8478"/>
</g>
<g filter="url(#blur12)">
<path d="M60,183 L72,183 L84,183 L96,183 L108,183 L120,183 L132,183 L144,183 L156,183 L168,183 L180,183 L192,183 L204,182.9 L216,182.8 L228,182.7 L240,182.6 L252,182.3 L264,181.9 L276,181.4 L288,180.6 L300,179.6 L312,178.4 L324,176.9 L336,175.1 L348,173.1 L360,171.1 L372,169.1 L384,167.2 L396,165.7 L408,164.6 L420,164.1 L432,164.1 L444,164.7 L456,165.9 L468,167.5 L480,169.4 L492,171.4 L504,173.5 L516,175.4 L528,177.1 L540,178.6 L552,179.8 L564,180.8 L576,181.5 L588,182 L600,182.4 L612,182.6 L624,182.8 L636,182.9 L648,182.9 L660,183 L672,183 L684,183 L696,183 L708,183 L720,183 L732,183 L744,183 L756,183 L768,183 L780,183" stroke="#7c80ff" stroke-width="34" stroke-opacity="0.6" fill="none"/>
<path d="M60,183 L72,183 L84,183 L96,183 L108,183 L120,183 L132,183 L144,183 L156,183 L168,183 L180,183 L192,183 L204,182.9 L216,182.8 L228,182.7 L240,182.6 L252,182.3 L264,181.9 L276,181.4 L288,180.6 L300,179.6 L312,178.4 L324,176.9 L336,175.1 L348,173.1 L360,171.1 L372,169.1 L384,167.2 L396,165.7 L408,164.6 L420,164.1 L432,164.1 L444,164.7 L456,165.9 L468,167.5 L480,169.4 L492,171.4 L504,173.5 L516,175.4 L528,177.1 L540,178.6 L552,179.8 L564,180.8 L576,181.5 L588,182 L600,182.4 L612,182.6 L624,182.8 L636,182.9 L648,182.9 L660,183 L672,183 L684,183 L696,183 L708,183 L720,183 L732,183 L744,183 L756,183 L768,183 L780,183" stroke="#9698ff" stroke-width="12" stroke-opacity="0.45" fill="none"/>
</g>
<circle cx="260.9" cy="190.1" r="1.3" fill="#aab0ff" fill-opacity="0.37"/>
<circle cx="124.3" cy="173.1" r="1.1" fill="#aab0ff" fill-opacity="0.55"/>
<circle cx="627.3" cy="187.6" r="1" fill="#aab0ff" fill-opacity="0.22"/>
<circle cx="449.7" cy="159.2" r="1.2" fill="#aab0ff" fill-opacity="0.39"/>
<circle cx="417.6" cy="155.9" r="1.6" fill="#aab0ff" fill-opacity="0.28"/>
<circle cx="706" cy="178.2" r="1.4" fill="#aab0ff" fill-opacity="0.22"/>
<circle cx="300.6" cy="169.5" r="1.4" fill="#aab0ff" fill-opacity="0.33"/>
<circle cx="273.3" cy="179.4" r="1.6" fill="#aab0ff" fill-opacity="0.32"/>
<circle cx="566.1" cy="185.2" r="1.3" fill="#aab0ff" fill-opacity="0.57"/>
<circle cx="388.1" cy="154" r="1.7" fill="#aab0ff" fill-opacity="0.22"/>
<circle cx="380.6" cy="165.7" r="1.7" fill="#aab0ff" fill-opacity="0.23"/>
<circle cx="489.5" cy="168.6" r="1" fill="#aab0ff" fill-opacity="0.57"/>
<circle cx="465.9" cy="170.9" r="1.5" fill="#aab0ff" fill-opacity="0.47"/>
<circle cx="287.6" cy="169.5" r="1" fill="#aab0ff" fill-opacity="0.54"/>
<circle cx="187.7" cy="188.9" r="0.9" fill="#aab0ff" fill-opacity="0.24"/>
<circle cx="615.4" cy="179.3" r="1.8" fill="#aab0ff" fill-opacity="0.37"/>
<circle cx="531.4" cy="176.6" r="1.5" fill="#aab0ff" fill-opacity="0.26"/>
<circle cx="128" cy="204.7" r="1.5" fill="#aab0ff" fill-opacity="0.22"/>
<circle cx="650.2" cy="181" r="1.4" fill="#aab0ff" fill-opacity="0.33"/>
<circle cx="465.6" cy="174.2" r="1" fill="#aab0ff" fill-opacity="0.56"/>
<circle cx="307.3" cy="182" r="1.6" fill="#aab0ff" fill-opacity="0.59"/>
<circle cx="352.3" cy="167.6" r="0.8" fill="#aab0ff" fill-opacity="0.35"/>
<circle cx="519.3" cy="178" r="0.9" fill="#aab0ff" fill-opacity="0.39"/>
<circle cx="577.9" cy="194" r="1.2" fill="#aab0ff" fill-opacity="0.47"/>
<circle cx="166.6" cy="185.4" r="1.7" fill="#aab0ff" fill-opacity="0.60"/>
<circle cx="719.4" cy="178.5" r="1.3" fill="#aab0ff" fill-opacity="0.32"/>
<circle cx="323.1" cy="177" r="1.7" fill="#aab0ff" fill-opacity="0.24"/>
<circle cx="414.8" cy="152.5" r="1.7" fill="#aab0ff" fill-opacity="0.44"/>
<circle cx="452.3" cy="170.2" r="1.1" fill="#aab0ff" fill-opacity="0.56"/>
<circle cx="656.4" cy="185.8" r="1" fill="#aab0ff" fill-opacity="0.57"/>
<circle cx="111.7" cy="161.7" r="1.1" fill="#aab0ff" fill-opacity="0.58"/>
<circle cx="529.9" cy="162.2" r="0.9" fill="#aab0ff" fill-opacity="0.33"/>
<circle cx="391.2" cy="166.5" r="1" fill="#aab0ff" fill-opacity="0.52"/>
<circle cx="289.8" cy="197" r="0.9" fill="#aab0ff" fill-opacity="0.42"/>
<circle cx="154.1" cy="166.3" r="1.4" fill="#aab0ff" fill-opacity="0.38"/>
<circle cx="112.6" cy="177.4" r="1.3" fill="#aab0ff" fill-opacity="0.24"/>
<circle cx="523.4" cy="185.4" r="1.2" fill="#aab0ff" fill-opacity="0.35"/>
<circle cx="534.3" cy="187.6" r="1" fill="#aab0ff" fill-opacity="0.27"/>
<circle cx="720.8" cy="173.6" r="1.7" fill="#aab0ff" fill-opacity="0.39"/>
<circle cx="189.9" cy="199.7" r="0.9" fill="#aab0ff" fill-opacity="0.55"/>
<circle cx="168.4" cy="170.6" r="0.9" fill="#aab0ff" fill-opacity="0.39"/>
<circle cx="199.9" cy="183.2" r="1.3" fill="#aab0ff" fill-opacity="0.40"/>
<circle cx="335.8" cy="178.4" r="1" fill="#aab0ff" fill-opacity="0.25"/>
<circle cx="250.7" cy="192" r="1.7" fill="#aab0ff" fill-opacity="0.40"/>
<circle cx="686.7" cy="206.8" r="1.3" fill="#aab0ff" fill-opacity="0.52"/>
<circle cx="472.2" cy="170.4" r="1.5" fill="#aab0ff" fill-opacity="0.29"/>
<circle cx="592.5" cy="186.6" r="0.8" fill="#aab0ff" fill-opacity="0.36"/>
<circle cx="437.1" cy="170.7" r="1.1" fill="#aab0ff" fill-opacity="0.56"/>
<circle cx="146.5" cy="176.6" r="1.4" fill="#aab0ff" fill-opacity="0.51"/>
<circle cx="566.2" cy="177.5" r="0.9" fill="#aab0ff" fill-opacity="0.30"/>
<circle cx="491.4" cy="174.2" r="1.4" fill="#aab0ff" fill-opacity="0.48"/>
<circle cx="635.8" cy="182.6" r="1.1" fill="#aab0ff" fill-opacity="0.52"/>
<circle cx="399.4" cy="166.6" r="1.7" fill="#aab0ff" fill-opacity="0.36"/>
<circle cx="362.8" cy="169.9" r="0.9" fill="#aab0ff" fill-opacity="0.30"/>
<circle cx="581.6" cy="179.3" r="1.1" fill="#aab0ff" fill-opacity="0.26"/>
<circle cx="222.8" cy="177.6" r="1" fill="#aab0ff" fill-opacity="0.33"/>
<circle cx="743.9" cy="200.7" r="1.3" fill="#aab0ff" fill-opacity="0.40"/>
<circle cx="612.1" cy="182.3" r="1.7" fill="#aab0ff" fill-opacity="0.50"/>
<circle cx="516.4" cy="179.9" r="1.6" fill="#aab0ff" fill-opacity="0.51"/>
<circle cx="151.9" cy="196.3" r="1.5" fill="#aab0ff" fill-opacity="0.34"/>
<circle cx="198.7" cy="197.5" r="1.5" fill="#aab0ff" fill-opacity="0.25"/>
<circle cx="645" cy="179.7" r="1.7" fill="#aab0ff" fill-opacity="0.56"/>
<circle cx="589.1" cy="191" r="1.4" fill="#aab0ff" fill-opacity="0.37"/>
<circle cx="642.9" cy="167.3" r="1.6" fill="#aab0ff" fill-opacity="0.55"/>
<circle cx="290.3" cy="192.4" r="1.7" fill="#aab0ff" fill-opacity="0.25"/>
<circle cx="738.9" cy="180" r="1.6" fill="#aab0ff" fill-opacity="0.30"/>
<circle cx="651.7" cy="183.7" r="1.3" fill="#aab0ff" fill-opacity="0.29"/>
<circle cx="420.1" cy="170.7" r="1.7" fill="#aab0ff" fill-opacity="0.47"/>
<circle cx="566" cy="167.3" r="1.6" fill="#aab0ff" fill-opacity="0.47"/>
<circle cx="720.9" cy="194" r="1.6" fill="#aab0ff" fill-opacity="0.36"/>
<circle cx="148.4" cy="172.1" r="1.1" fill="#aab0ff" fill-opacity="0.44"/>
<circle cx="650.3" cy="167.4" r="1.6" fill="#aab0ff" fill-opacity="0.20"/>
<circle cx="417.7" cy="168.9" r="1.6" fill="#aab0ff" fill-opacity="0.37"/>
<circle cx="495.2" cy="172.5" r="1.3" fill="#aab0ff" fill-opacity="0.33"/>
<circle cx="233.2" cy="171" r="1.4" fill="#aab0ff" fill-opacity="0.32"/>
<circle cx="148.9" cy="198.3" r="1.1" fill="#aab0ff" fill-opacity="0.48"/>
<circle cx="386.2" cy="157.3" r="0.9" fill="#aab0ff" fill-opacity="0.47"/>
<circle cx="117.8" cy="167.6" r="1.6" fill="#aab0ff" fill-opacity="0.27"/>
<circle cx="271.9" cy="190.7" r="1" fill="#aab0ff" fill-opacity="0.56"/>
<circle cx="498.9" cy="170.1" r="1.7" fill="#aab0ff" fill-opacity="0.36"/>
<circle cx="424.8" cy="175.4" r="1.8" fill="#aab0ff" fill-opacity="0.28"/>
<circle cx="646.5" cy="179.7" r="1" fill="#aab0ff" fill-opacity="0.41"/>
<circle cx="90.2" cy="193.9" r="1.3" fill="#aab0ff" fill-opacity="0.52"/>
<circle cx="258" cy="203.6" r="1.2" fill="#aab0ff" fill-opacity="0.24"/>
<circle cx="460.3" cy="174.2" r="1.2" fill="#aab0ff" fill-opacity="0.57"/>
<circle cx="688.8" cy="173.8" r="1.5" fill="#aab0ff" fill-opacity="0.23"/>
<circle cx="508.1" cy="150.5" r="1.2" fill="#aab0ff" fill-opacity="0.46"/>
<circle cx="513.4" cy="183.7" r="1.2" fill="#aab0ff" fill-opacity="0.41"/>
<circle cx="543.3" cy="188.8" r="1.2" fill="#aab0ff" fill-opacity="0.59"/>
<circle cx="128.2" cy="176.5" r="1.6" fill="#aab0ff" fill-opacity="0.47"/>
<circle cx="463.5" cy="151.1" r="1.7" fill="#aab0ff" fill-opacity="0.49"/>
<circle cx="592.4" cy="187.5" r="0.8" fill="#aab0ff" fill-opacity="0.33"/>
<circle cx="181.8" cy="203.1" r="0.9" fill="#aab0ff" fill-opacity="0.44"/>
<circle cx="476.4" cy="162.7" r="0.8" fill="#aab0ff" fill-opacity="0.36"/>
<circle cx="590.7" cy="177" r="1.6" fill="#aab0ff" fill-opacity="0.32"/>
<circle cx="454.7" cy="159.5" r="1.2" fill="#aab0ff" fill-opacity="0.59"/>
<circle cx="524.7" cy="181.8" r="1.2" fill="#aab0ff" fill-opacity="0.59"/>
<circle cx="565.5" cy="166.7" r="1.5" fill="#aab0ff" fill-opacity="0.31"/>
<circle cx="198.5" cy="166.3" r="1.6" fill="#aab0ff" fill-opacity="0.34"/>
<circle cx="183.7" cy="174.5" r="1.3" fill="#aab0ff" fill-opacity="0.55"/>
<circle cx="198.6" cy="182.5" r="1.1" fill="#aab0ff" fill-opacity="0.22"/>
<circle cx="289.4" cy="174.4" r="1.2" fill="#aab0ff" fill-opacity="0.59"/>
<circle cx="734.6" cy="186.3" r="1.7" fill="#aab0ff" fill-opacity="0.28"/>
<circle cx="305" cy="187.1" r="1.2" fill="#aab0ff" fill-opacity="0.24"/>
<circle cx="264.3" cy="174.2" r="1.8" fill="#aab0ff" fill-opacity="0.31"/>
<circle cx="226.7" cy="188.9" r="1.7" fill="#aab0ff" fill-opacity="0.38"/>
<circle cx="650.9" cy="171.6" r="1.1" fill="#aab0ff" fill-opacity="0.26"/>
<circle cx="597.2" cy="169.1" r="1.3" fill="#aab0ff" fill-opacity="0.42"/>
<circle cx="539.3" cy="178.7" r="1.2" fill="#aab0ff" fill-opacity="0.57"/>
<circle cx="444.7" cy="156.8" r="1.1" fill="#aab0ff" fill-opacity="0.45"/>
<circle cx="264" cy="182.3" r="1.6" fill="#aab0ff" fill-opacity="0.43"/>
<circle cx="326.9" cy="173.6" r="1.7" fill="#aab0ff" fill-opacity="0.31"/>
<circle cx="253.1" cy="193.7" r="1.6" fill="#aab0ff" fill-opacity="0.47"/>
<circle cx="366.5" cy="175.4" r="1.6" fill="#aab0ff" fill-opacity="0.24"/>
<circle cx="295.7" cy="164" r="1.4" fill="#aab0ff" fill-opacity="0.48"/>
<circle cx="609" cy="161.9" r="1.2" fill="#aab0ff" fill-opacity="0.58"/>
<circle cx="587.4" cy="176.5" r="1.6" fill="#aab0ff" fill-opacity="0.34"/>
<circle cx="214.4" cy="191.2" r="1.7" fill="#aab0ff" fill-opacity="0.41"/>
<circle cx="439.2" cy="154" r="0.9" fill="#aab0ff" fill-opacity="0.34"/>
<circle cx="134.2" cy="164.2" r="1.2" fill="#aab0ff" fill-opacity="0.40"/>
<circle cx="660.8" cy="176.5" r="1.2" fill="#aab0ff" fill-opacity="0.43"/>
<circle cx="273.5" cy="170.1" r="1.6" fill="#aab0ff" fill-opacity="0.52"/>
<circle cx="651.7" cy="191.6" r="1.6" fill="#aab0ff" fill-opacity="0.40"/>
<circle cx="691.9" cy="195.1" r="1.7" fill="#aab0ff" fill-opacity="0.50"/>
<circle cx="640.1" cy="170.7" r="0.9" fill="#aab0ff" fill-opacity="0.48"/>
<circle cx="561.5" cy="164.1" r="1.4" fill="#aab0ff" fill-opacity="0.31"/>
<circle cx="135.1" cy="168.1" r="1.1" fill="#aab0ff" fill-opacity="0.29"/>
<circle cx="240" cy="171.3" r="0.9" fill="#aab0ff" fill-opacity="0.47"/>
<circle cx="743.1" cy="186" r="1.5" fill="#aab0ff" fill-opacity="0.23"/>
<circle cx="651.9" cy="174" r="1.1" fill="#aab0ff" fill-opacity="0.20"/>
<circle cx="511.6" cy="179.9" r="0.9" fill="#aab0ff" fill-opacity="0.38"/>
<circle cx="461.8" cy="172.8" r="1.6" fill="#aab0ff" fill-opacity="0.22"/>
<circle cx="644.4" cy="188.4" r="1.4" fill="#aab0ff" fill-opacity="0.34"/>
<circle cx="311.8" cy="183" r="1.4" fill="#aab0ff" fill-opacity="0.29"/>
<circle cx="621.6" cy="187.6" r="1.6" fill="#aab0ff" fill-opacity="0.41"/>
<circle cx="110.4" cy="201.5" r="1.6" fill="#aab0ff" fill-opacity="0.21"/>
<circle cx="428.1" cy="160.8" r="1.4" fill="#aab0ff" fill-opacity="0.49"/>
<circle cx="481.9" cy="171.4" r="1.2" fill="#aab0ff" fill-opacity="0.40"/>
<circle cx="484.5" cy="173.1" r="1.8" fill="#aab0ff" fill-opacity="0.52"/>
<circle cx="734.1" cy="202.9" r="1.1" fill="#aab0ff" fill-opacity="0.59"/>
<circle cx="137.8" cy="177.7" r="1.3" fill="#aab0ff" fill-opacity="0.47"/>
<circle cx="564.6" cy="181.6" r="1.3" fill="#aab0ff" fill-opacity="0.34"/>
<circle cx="217.2" cy="176.2" r="1" fill="#aab0ff" fill-opacity="0.49"/>
<circle cx="435.9" cy="168.9" r="1.2" fill="#aab0ff" fill-opacity="0.28"/>
<circle cx="561.5" cy="183.2" r="1.4" fill="#aab0ff" fill-opacity="0.48"/>
<circle cx="741.9" cy="190.4" r="1.5" fill="#aab0ff" fill-opacity="0.58"/>
<circle cx="706.4" cy="180.3" r="0.9" fill="#aab0ff" fill-opacity="0.28"/>
<circle cx="98.7" cy="167.3" r="1.7" fill="#aab0ff" fill-opacity="0.49"/>
<circle cx="512.2" cy="174" r="1" fill="#aab0ff" fill-opacity="0.45"/>
<circle cx="754.3" cy="192.3" r="1.1" fill="#aab0ff" fill-opacity="0.22"/>
<circle cx="207.4" cy="169.7" r="1.6" fill="#aab0ff" fill-opacity="0.38"/>
<circle cx="158.4" cy="199.9" r="0.9" fill="#aab0ff" fill-opacity="0.26"/>
<circle cx="610.9" cy="152.5" r="1.7" fill="#aab0ff" fill-opacity="0.52"/>
<circle cx="409.1" cy="170" r="1.6" fill="#aab0ff" fill-opacity="0.25"/>
<circle cx="162.9" cy="172" r="1" fill="#aab0ff" fill-opacity="0.30"/>
<circle cx="104.2" cy="178.4" r="1.7" fill="#aab0ff" fill-opacity="0.48"/>
<circle cx="723.4" cy="193.6" r="1.5" fill="#aab0ff" fill-opacity="0.35"/>
<circle cx="634" cy="181.5" r="1.6" fill="#aab0ff" fill-opacity="0.25"/>
<circle cx="98.6" cy="186" r="1.2" fill="#aab0ff" fill-opacity="0.20"/>
<circle cx="646.3" cy="195.8" r="1.6" fill="#aab0ff" fill-opacity="0.39"/>
<circle cx="119" cy="192.5" r="0.9" fill="#aab0ff" fill-opacity="0.33"/>
<circle cx="508.5" cy="166.3" r="1.7" fill="#aab0ff" fill-opacity="0.39"/>
<circle cx="518.4" cy="177.8" r="1.7" fill="#aab0ff" fill-opacity="0.35"/>
<circle cx="159.7" cy="190.2" r="1.4" fill="#aab0ff" fill-opacity="0.25"/>
<circle cx="223.9" cy="170" r="1.4" fill="#aab0ff" fill-opacity="0.48"/>
<circle cx="384.6" cy="170.7" r="0.9" fill="#aab0ff" fill-opacity="0.49"/>
<circle cx="126" cy="173.1" r="1.5" fill="#aab0ff" fill-opacity="0.49"/>
<circle cx="250.7" cy="184.2" r="1.4" fill="#aab0ff" fill-opacity="0.48"/>
<circle cx="406" cy="178.5" r="1.4" fill="#aab0ff" fill-opacity="0.23"/>
<circle cx="249.9" cy="199.4" r="1.8" fill="#aab0ff" fill-opacity="0.29"/>
<circle cx="352.8" cy="176.7" r="1.4" fill="#aab0ff" fill-opacity="0.50"/>
<circle cx="115.7" cy="164.9" r="0.9" fill="#aab0ff" fill-opacity="0.59"/>
<circle cx="627.8" cy="185.9" r="1" fill="#aab0ff" fill-opacity="0.57"/>
<circle cx="237.1" cy="183.4" r="1.5" fill="#aab0ff" fill-opacity="0.57"/>
<circle cx="517.9" cy="182.5" r="1" fill="#aab0ff" fill-opacity="0.21"/>
<circle cx="597.3" cy="178.5" r="0.9" fill="#aab0ff" fill-opacity="0.59"/>
<circle cx="565.7" cy="187.9" r="1" fill="#aab0ff" fill-opacity="0.40"/>
<circle cx="160.9" cy="199.7" r="1.6" fill="#aab0ff" fill-opacity="0.56"/>
<circle cx="704" cy="202.5" r="1.4" fill="#aab0ff" fill-opacity="0.53"/>
<circle cx="426.7" cy="164.3" r="1.4" fill="#aab0ff" fill-opacity="0.44"/>
<circle cx="625.7" cy="185.7" r="1.3" fill="#aab0ff" fill-opacity="0.32"/>
<circle cx="356" cy="173.4" r="0.8" fill="#aab0ff" fill-opacity="0.50"/>
<circle cx="106.1" cy="191.8" r="1.3" fill="#aab0ff" fill-opacity="0.25"/>
<circle cx="525.5" cy="160.8" r="1" fill="#aab0ff" fill-opacity="0.37"/>
<circle cx="164" cy="195.4" r="1.2" fill="#aab0ff" fill-opacity="0.24"/>
<circle cx="579.2" cy="179.8" r="1.6" fill="#aab0ff" fill-opacity="0.54"/>
<circle cx="157.9" cy="177.3" r="1.6" fill="#aab0ff" fill-opacity="0.26"/>
<circle cx="496.3" cy="178.5" r="1.8" fill="#aab0ff" fill-opacity="0.51"/>
<circle cx="94.7" cy="187.4" r="1.5" fill="#aab0ff" fill-opacity="0.44"/>
<circle cx="438.5" cy="166.6" r="1.3" fill="#aab0ff" fill-opacity="0.36"/>
<circle cx="499.4" cy="159.5" r="1.5" fill="#aab0ff" fill-opacity="0.52"/>
<circle cx="701.6" cy="165.1" r="1.6" fill="#aab0ff" fill-opacity="0.49"/>
<circle cx="110.5" cy="174.8" r="1.2" fill="#aab0ff" fill-opacity="0.55"/>
<circle cx="210.5" cy="165.2" r="1.7" fill="#aab0ff" fill-opacity="0.38"/>
<circle cx="563.4" cy="180.6" r="1.1" fill="#aab0ff" fill-opacity="0.33"/>
<circle cx="153.5" cy="191.4" r="1.2" fill="#aab0ff" fill-opacity="0.59"/>
<circle cx="528.2" cy="192.6" r="1.6" fill="#aab0ff" fill-opacity="0.60"/>
<circle cx="594.3" cy="175.2" r="1.1" fill="#aab0ff" fill-opacity="0.30"/>
<circle cx="366.3" cy="177.2" r="1.7" fill="#aab0ff" fill-opacity="0.57"/>
<circle cx="310.2" cy="179.5" r="1.6" fill="#aab0ff" fill-opacity="0.51"/>
<circle cx="686.2" cy="186.4" r="0.9" fill="#aab0ff" fill-opacity="0.53"/>
<circle cx="300.2" cy="167.8" r="1.4" fill="#aab0ff" fill-opacity="0.35"/>
<circle cx="450" cy="171.1" r="1.3" fill="#aab0ff" fill-opacity="0.46"/>
<circle cx="450.7" cy="164.1" r="1.7" fill="#aab0ff" fill-opacity="0.36"/>
<circle cx="702.2" cy="173.3" r="0.9" fill="#aab0ff" fill-opacity="0.28"/>
<circle cx="282.6" cy="156.7" r="1.7" fill="#aab0ff" fill-opacity="0.21"/>
<circle cx="264.3" cy="175.5" r="1" fill="#aab0ff" fill-opacity="0.38"/>
<circle cx="550.2" cy="150.1" r="1.5" fill="#aab0ff" fill-opacity="0.50"/>
<circle cx="594.6" cy="182.3" r="0.8" fill="#aab0ff" fill-opacity="0.48"/>
<circle cx="230.2" cy="190.4" r="1.1" fill="#aab0ff" fill-opacity="0.59"/>
<circle cx="521" cy="163.9" r="1.4" fill="#aab0ff" fill-opacity="0.48"/>
<circle cx="293.6" cy="172.3" r="0.9" fill="#aab0ff" fill-opacity="0.23"/>
<circle cx="99.7" cy="179.4" r="0.9" fill="#aab0ff" fill-opacity="0.40"/>
<circle cx="739.6" cy="187.2" r="1.5" fill="#aab0ff" fill-opacity="0.31"/>
<circle cx="605.5" cy="184.5" r="1.1" fill="#aab0ff" fill-opacity="0.36"/>
<circle cx="552" cy="183.9" r="1.2" fill="#aab0ff" fill-opacity="0.49"/>
<circle cx="153.5" cy="191.3" r="1.6" fill="#aab0ff" fill-opacity="0.21"/>
<circle cx="645.3" cy="179.1" r="1" fill="#aab0ff" fill-opacity="0.54"/>
<circle cx="627.9" cy="178.9" r="0.8" fill="#aab0ff" fill-opacity="0.28"/>
<circle cx="696.3" cy="175.9" r="1" fill="#aab0ff" fill-opacity="0.46"/>
<circle cx="483.3" cy="166.6" r="0.9" fill="#aab0ff" fill-opacity="0.24"/>
<circle cx="748.4" cy="177.6" r="1.2" fill="#aab0ff" fill-opacity="0.46"/>
<circle cx="471.6" cy="168.7" r="0.8" fill="#aab0ff" fill-opacity="0.54"/>
<circle cx="177.1" cy="186.6" r="1.8" fill="#aab0ff" fill-opacity="0.35"/>
<circle cx="574.2" cy="192.8" r="1.1" fill="#aab0ff" fill-opacity="0.35"/>
<circle cx="440.4" cy="178" r="0.9" fill="#aab0ff" fill-opacity="0.30"/>
<circle cx="623.3" cy="180.6" r="1.6" fill="#aab0ff" fill-opacity="0.29"/>
<circle cx="219.9" cy="192.4" r="1" fill="#aab0ff" fill-opacity="0.35"/>
<circle cx="334.8" cy="168.2" r="1.7" fill="#aab0ff" fill-opacity="0.22"/>
<circle cx="534.6" cy="169.2" r="1.6" fill="#aab0ff" fill-opacity="0.29"/>
<circle cx="109.7" cy="178.4" r="1.3" fill="#aab0ff" fill-opacity="0.48"/>
<circle cx="152.8" cy="184.9" r="0.9" fill="#aab0ff" fill-opacity="0.39"/>
<circle cx="206.5" cy="184.2" r="0.9" fill="#aab0ff" fill-opacity="0.23"/>
<circle cx="332" cy="186.4" r="1.3" fill="#aab0ff" fill-opacity="0.57"/>
<circle cx="461.7" cy="173" r="1.5" fill="#aab0ff" fill-opacity="0.43"/>
<circle cx="673" cy="186.1" r="1.8" fill="#aab0ff" fill-opacity="0.54"/>
<circle cx="163.7" cy="194.4" r="1" fill="#aab0ff" fill-opacity="0.27"/>
<circle cx="669.3" cy="178.7" r="1" fill="#aab0ff" fill-opacity="0.23"/>
<circle cx="267.8" cy="191.6" r="1.5" fill="#aab0ff" fill-opacity="0.23"/>
<circle cx="393.5" cy="160.9" r="1.1" fill="#aab0ff" fill-opacity="0.28"/>
<circle cx="534.2" cy="174.7" r="1.8" fill="#aab0ff" fill-opacity="0.39"/>
<circle cx="210.6" cy="186.7" r="0.8" fill="#aab0ff" fill-opacity="0.46"/>
<circle cx="434.8" cy="175.3" r="1.5" fill="#aab0ff" fill-opacity="0.41"/>
<circle cx="246.8" cy="184.2" r="1.3" fill="#aab0ff" fill-opacity="0.44"/>
<circle cx="526.3" cy="188" r="1.7" fill="#aab0ff" fill-opacity="0.50"/>
<circle cx="664.4" cy="197.2" r="1.2" fill="#aab0ff" fill-opacity="0.56"/>
<circle cx="211.8" cy="184.8" r="1.7" fill="#aab0ff" fill-opacity="0.23"/>
<circle cx="235.4" cy="196" r="0.8" fill="#aab0ff" fill-opacity="0.38"/>
<circle cx="184.1" cy="188.9" r="1.4" fill="#aab0ff" fill-opacity="0.58"/>
<circle cx="359.3" cy="186.7" r="1.5" fill="#aab0ff" fill-opacity="0.21"/>
<circle cx="725.4" cy="184.2" r="1.3" fill="#aab0ff" fill-opacity="0.58"/>
<circle cx="419.7" cy="175.4" r="1.8" fill="#aab0ff" fill-opacity="0.45"/>
<circle cx="235" cy="186" r="1.8" fill="#aab0ff" fill-opacity="0.38"/>
<circle cx="241.6" cy="176.7" r="1.8" fill="#aab0ff" fill-opacity="0.33"/>
<circle cx="362.7" cy="162.4" r="0.8" fill="#aab0ff" fill-opacity="0.35"/>
<circle cx="198.6" cy="195.3" r="1.6" fill="#aab0ff" fill-opacity="0.20"/>
<circle cx="497.1" cy="171.8" r="1.4" fill="#aab0ff" fill-opacity="0.48"/>
<circle cx="182.3" cy="194" r="1" fill="#aab0ff" fill-opacity="0.25"/>
<circle cx="733.4" cy="186.2" r="1.3" fill="#aab0ff" fill-opacity="0.43"/>
<circle cx="684" cy="187.4" r="0.9" fill="#aab0ff" fill-opacity="0.29"/>
<circle cx="175.9" cy="50.5" r="1.8" fill="#a0c4e4" fill-opacity="0.75"/>
<circle cx="182.3" cy="50.5" r="1.8" fill="#a0c4e4" fill-opacity="0.75"/>
<circle cx="175.9" cy="56" r="1.8" fill="#a0c4e4" fill-opacity="0.75"/>
<circle cx="182.3" cy="56" r="1.8" fill="#a0c4e4" fill-opacity="0.75"/>
<circle cx="206.8" cy="50.4" r="1.8" fill="#a0c4e4" fill-opacity="0.75"/>
<circle cx="213.2" cy="50.4" r="1.8" fill="#a0c4e4" fill-opacity="0.75"/>
<circle cx="206.8" cy="55.9" r="1.8" fill="#a0c4e4" fill-opacity="0.75"/>
<circle cx="213.2" cy="55.9" r="1.8" fill="#a0c4e4" fill-opacity="0.75"/>
<circle cx="237.7" cy="50" r="1.8" fill="#a0c4e4" fill-opacity="0.75"/>
<circle cx="244.2" cy="50" r="1.8" fill="#a0c4e4" fill-opacity="0.75"/>
<circle cx="237.7" cy="55.5" r="1.8" fill="#a0c4e4" fill-opacity="0.75"/>
<circle cx="244.2" cy="55.5" r="1.8" fill="#a0c4e4" fill-opacity="0.75"/>
<circle cx="268.6" cy="48.7" r="1.8" fill="#a0c4e4" fill-opacity="0.75"/>
<circle cx="275.1" cy="48.7" r="1.8" fill="#a0c4e4" fill-opacity="0.75"/>
<circle cx="268.6" cy="54.2" r="1.8" fill="#a0c4e4" fill-opacity="0.75"/>
<circle cx="275.1" cy="54.2" r="1.8" fill="#a0c4e4" fill-opacity="0.75"/>
<circle cx="299.5" cy="45.8" r="1.8" fill="#a0c4e4" fill-opacity="0.75"/>
<circle cx="306" cy="45.8" r="1.8" fill="#a0c4e4" fill-opacity="0.75"/>
<circle cx="299.5" cy="51.3" r="1.8" fill="#a0c4e4" fill-opacity="0.75"/>
<circle cx="306" cy="51.3" r="1.8" fill="#a0c4e4" fill-opacity="0.75"/>
<circle cx="330.5" cy="40.6" r="1.8" fill="#a0c4e4" fill-opacity="0.75"/>
<circle cx="336.9" cy="40.6" r="1.8" fill="#a0c4e4" fill-opacity="0.75"/>
<circle cx="330.5" cy="46.1" r="1.8" fill="#a0c4e4" fill-opacity="0.75"/>
<circle cx="336.9" cy="46.1" r="1.8" fill="#a0c4e4" fill-opacity="0.75"/>
<circle cx="361.4" cy="33.9" r="1.8" fill="#a0c4e4" fill-opacity="0.75"/>
<circle cx="367.9" cy="33.9" r="1.8" fill="#a0c4e4" fill-opacity="0.75"/>
<circle cx="361.4" cy="39.4" r="1.8" fill="#a0c4e4" fill-opacity="0.75"/>
<circle cx="367.9" cy="39.4" r="1.8" fill="#a0c4e4" fill-opacity="0.75"/>
<circle cx="392.3" cy="27.8" r="1.8" fill="#a0c4e4" fill-opacity="0.75"/>
<circle cx="398.8" cy="27.8" r="1.8" fill="#a0c4e4" fill-opacity="0.75"/>
<circle cx="392.3" cy="33.3" r="1.8" fill="#a0c4e4" fill-opacity="0.75"/>
<circle cx="398.8" cy="33.3" r="1.8" fill="#a0c4e4" fill-opacity="0.75"/>
<circle cx="423.2" cy="25.6" r="1.8" fill="#a0c4e4" fill-opacity="0.75"/>
<circle cx="429.7" cy="25.6" r="1.8" fill="#a0c4e4" fill-opacity="0.75"/>
<circle cx="423.2" cy="31.1" r="1.8" fill="#a0c4e4" fill-opacity="0.75"/>
<circle cx="429.7" cy="31.1" r="1.8" fill="#a0c4e4" fill-opacity="0.75"/>
<circle cx="454.2" cy="28.3" r="1.8" fill="#a0c4e4" fill-opacity="0.75"/>
<circle cx="460.6" cy="28.3" r="1.8" fill="#a0c4e4" fill-opacity="0.75"/>
<circle cx="454.2" cy="33.8" r="1.8" fill="#a0c4e4" fill-opacity="0.75"/>
<circle cx="460.6" cy="33.8" r="1.8" fill="#a0c4e4" fill-opacity="0.75"/>
<circle cx="485.1" cy="34.5" r="1.8" fill="#a0c4e4" fill-opacity="0.75"/>
<circle cx="491.6" cy="34.5" r="1.8" fill="#a0c4e4" fill-opacity="0.75"/>
<circle cx="485.1" cy="40" r="1.8" fill="#a0c4e4" fill-opacity="0.75"/>
<circle cx="491.6" cy="40" r="1.8" fill="#a0c4e4" fill-opacity="0.75"/>
<circle cx="516" cy="41.2" r="1.8" fill="#a0c4e4" fill-opacity="0.75"/>
<circle cx="522.5" cy="41.2" r="1.8" fill="#a0c4e4" fill-opacity="0.75"/>
<circle cx="516" cy="46.7" r="1.8" fill="#a0c4e4" fill-opacity="0.75"/>
<circle cx="522.5" cy="46.7" r="1.8" fill="#a0c4e4" fill-opacity="0.75"/>
<circle cx="546.9" cy="46.1" r="1.8" fill="#a0c4e4" fill-opacity="0.75"/>
<circle cx="553.4" cy="46.1" r="1.8" fill="#a0c4e4" fill-opacity="0.75"/>
<circle cx="546.9" cy="51.6" r="1.8" fill="#a0c4e4" fill-opacity="0.75"/>
<circle cx="553.4" cy="51.6" r="1.8" fill="#a0c4e4" fill-opacity="0.75"/>
<circle cx="577.9" cy="48.9" r="1.8" fill="#a0c4e4" fill-opacity="0.75"/>
<circle cx="584.3" cy="48.9" r="1.8" fill="#a0c4e4" fill-opacity="0.75"/>
<circle cx="577.9" cy="54.4" r="1.8" fill="#a0c4e4" fill-opacity="0.75"/>
<circle cx="584.3" cy="54.4" r="1.8" fill="#a0c4e4" fill-opacity="0.75"/>
<circle cx="608.8" cy="50" r="1.8" fill="#a0c4e4" fill-opacity="0.75"/>
<circle cx="615.2" cy="50" r="1.8" fill="#a0c4e4" fill-opacity="0.75"/>
<circle cx="608.8" cy="55.5" r="1.8" fill="#a0c4e4" fill-opacity="0.75"/>
<circle cx="615.2" cy="55.5" r="1.8" fill="#a0c4e4" fill-opacity="0.75"/>
<circle cx="639.7" cy="50.4" r="1.8" fill="#a0c4e4" fill-opacity="0.75"/>
<circle cx="646.2" cy="50.4" r="1.8" fill="#a0c4e4" fill-opacity="0.75"/>
<circle cx="639.7" cy="55.9" r="1.8" fill="#a0c4e4" fill-opacity="0.75"/>
<circle cx="646.2" cy="55.9" r="1.8" fill="#a0c4e4" fill-opacity="0.75"/>
<circle cx="670.6" cy="50.5" r="1.8" fill="#a0c4e4" fill-opacity="0.75"/>
<circle cx="677.1" cy="50.5" r="1.8" fill="#a0c4e4" fill-opacity="0.75"/>
<circle cx="670.6" cy="56" r="1.8" fill="#a0c4e4" fill-opacity="0.75"/>
<circle cx="677.1" cy="56" r="1.8" fill="#a0c4e4" fill-opacity="0.75"/>
<circle cx="701.5" cy="50.6" r="1.8" fill="#a0c4e4" fill-opacity="0.75"/>
<circle cx="708" cy="50.6" r="1.8" fill="#a0c4e4" fill-opacity="0.75"/>
<circle cx="701.5" cy="56" r="1.8" fill="#a0c4e4" fill-opacity="0.75"/>
<circle cx="708" cy="56" r="1.8" fill="#a0c4e4" fill-opacity="0.75"/>
<circle cx="172.5" cy="68.2" r="1.8" fill="#a0c4e4" fill-opacity="0.75"/>
<circle cx="179.1" cy="68.2" r="1.8" fill="#a0c4e4" fill-opacity="0.75"/>
<circle cx="172.5" cy="73.8" r="1.8" fill="#a0c4e4" fill-opacity="0.75"/>
<circle cx="179.1" cy="73.8" r="1.8" fill="#a0c4e4" fill-opacity="0.75"/>
<circle cx="204" cy="68.1" r="1.8" fill="#a0c4e4" fill-opacity="0.75"/>
<circle cx="210.6" cy="68.1" r="1.8" fill="#a0c4e4" fill-opacity="0.75"/>
<circle cx="204" cy="73.7" r="1.8" fill="#a0c4e4" fill-opacity="0.75"/>
<circle cx="210.6" cy="73.7" r="1.8" fill="#a0c4e4" fill-opacity="0.75"/>
<circle cx="235.5" cy="67.7" r="1.8" fill="#a0c4e4" fill-opacity="0.75"/>
<circle cx="242.1" cy="67.7" r="1.8" fill="#a0c4e4" fill-opacity="0.75"/>
<circle cx="235.5" cy="73.3" r="1.8" fill="#a0c4e4" fill-opacity="0.75"/>
<circle cx="242.1" cy="73.3" r="1.8" fill="#a0c4e4" fill-opacity="0.75"/>
<circle cx="267" cy="66.4" r="1.8" fill="#a0c4e4" fill-opacity="0.75"/>
<circle cx="273.6" cy="66.4" r="1.8" fill="#a0c4e4" fill-opacity="0.75"/>
<circle cx="267" cy="72" r="1.8" fill="#a0c4e4" fill-opacity="0.75"/>
<circle cx="273.6" cy="72" r="1.8" fill="#a0c4e4" fill-opacity="0.75"/>
<circle cx="298.5" cy="63.5" r="1.8" fill="#a0c4e4" fill-opacity="0.75"/>
<circle cx="305.1" cy="63.5" r="1.8" fill="#a0c4e4" fill-opacity="0.75"/>
<circle cx="298.5" cy="69.1" r="1.8" fill="#a0c4e4" fill-opacity="0.75"/>
<circle cx="305.1" cy="69.1" r="1.8" fill="#a0c4e4" fill-opacity="0.75"/>
<circle cx="330" cy="58.4" r="1.8" fill="#a0c4e4" fill-opacity="0.75"/>
<circle cx="336.6" cy="58.4" r="1.8" fill="#a0c4e4" fill-opacity="0.75"/>
<circle cx="330" cy="64" r="1.8" fill="#a0c4e4" fill-opacity="0.75"/>
<circle cx="336.6" cy="64" r="1.8" fill="#a0c4e4" fill-opacity="0.75"/>
<circle cx="361.5" cy="51.5" r="1.8" fill="#a0c4e4" fill-opacity="0.75"/>
<circle cx="368.1" cy="51.5" r="1.8" fill="#a0c4e4" fill-opacity="0.75"/>
<circle cx="361.5" cy="57.1" r="1.8" fill="#a0c4e4" fill-opacity="0.75"/>
<circle cx="368.1" cy="57.1" r="1.8" fill="#a0c4e4" fill-opacity="0.75"/>
<circle cx="393" cy="45.4" r="1.8" fill="#a0c4e4" fill-opacity="0.75"/>
<circle cx="399.6" cy="45.4" r="1.8" fill="#a0c4e4" fill-opacity="0.75"/>
<circle cx="393" cy="51" r="1.8" fill="#a0c4e4" fill-opacity="0.75"/>
<circle cx="399.6" cy="51" r="1.8" fill="#a0c4e4" fill-opacity="0.75"/>
<circle cx="424.5" cy="43.2" r="1.8" fill="#a0c4e4" fill-opacity="0.75"/>
<circle cx="431.1" cy="43.2" r="1.8" fill="#a0c4e4" fill-opacity="0.75"/>
<circle cx="424.5" cy="48.8" r="1.8" fill="#a0c4e4" fill-opacity="0.75"/>
<circle cx="431.1" cy="48.8" r="1.8" fill="#a0c4e4" fill-opacity="0.75"/>
<circle cx="456" cy="46.3" r="1.8" fill="#a0c4e4" fill-opacity="0.75"/>
<circle cx="462.6" cy="46.3" r="1.8" fill="#a0c4e4" fill-opacity="0.75"/>
<circle cx="456" cy="51.9" r="1.8" fill="#a0c4e4" fill-opacity="0.75"/>
<circle cx="462.6" cy="51.9" r="1.8" fill="#a0c4e4" fill-opacity="0.75"/>
<circle cx="487.5" cy="52.7" r="1.8" fill="#a0c4e4" fill-opacity="0.75"/>
<circle cx="494.1" cy="52.7" r="1.8" fill="#a0c4e4" fill-opacity="0.75"/>
<circle cx="487.5" cy="58.3" r="1.8" fill="#a0c4e4" fill-opacity="0.75"/>
<circle cx="494.1" cy="58.3" r="1.8" fill="#a0c4e4" fill-opacity="0.75"/>
<circle cx="519" cy="59.4" r="1.8" fill="#a0c4e4" fill-opacity="0.75"/>
<circle cx="525.6" cy="59.4" r="1.8" fill="#a0c4e4" fill-opacity="0.75"/>
<circle cx="519" cy="65" r="1.8" fill="#a0c4e4" fill-opacity="0.75"/>
<circle cx="525.6" cy="65" r="1.8" fill="#a0c4e4" fill-opacity="0.75"/>
<circle cx="550.5" cy="64.2" r="1.8" fill="#a0c4e4" fill-opacity="0.75"/>
<circle cx="557.1" cy="64.2" r="1.8" fill="#a0c4e4" fill-opacity="0.75"/>
<circle cx="550.5" cy="69.8" r="1.8" fill="#a0c4e4" fill-opacity="0.75"/>
<circle cx="557.1" cy="69.8" r="1.8" fill="#a0c4e4" fill-opacity="0.75"/>
<circle cx="582" cy="66.7" r="1.8" fill="#a0c4e4" fill-opacity="0.75"/>
<circle cx="588.6" cy="66.7" r="1.8" fill="#a0c4e4" fill-opacity="0.75"/>
<circle cx="582" cy="72.3" r="1.8" fill="#a0c4e4" fill-opacity="0.75"/>
<circle cx="588.6" cy="72.3" r="1.8" fill="#a0c4e4" fill-opacity="0.75"/>
<circle cx="613.5" cy="67.8" r="1.8" fill="#a0c4e4" fill-opacity="0.75"/>
<circle cx="620.1" cy="67.8" r="1.8" fill="#a0c4e4" fill-opacity="0.75"/>
<circle cx="613.5" cy="73.4" r="1.8" fill="#a0c4e4" fill-opacity="0.75"/>
<circle cx="620.1" cy="73.4" r="1.8" fill="#a0c4e4" fill-opacity="0.75"/>
<circle cx="645" cy="68.1" r="1.8" fill="#a0c4e4" fill-opacity="0.75"/>
<circle cx="651.6" cy="68.1" r="1.8" fill="#a0c4e4" fill-opacity="0.75"/>
<circle cx="645" cy="73.7" r="1.8" fill="#a0c4e4" fill-opacity="0.75"/>
<circle cx="651.6" cy="73.7" r="1.8" fill="#a0c4e4" fill-opacity="0.75"/>
<circle cx="676.5" cy="68.2" r="1.8" fill="#a0c4e4" fill-opacity="0.75"/>
<circle cx="683.1" cy="68.2" r="1.8" fill="#a0c4e4" fill-opacity="0.75"/>
<circle cx="676.5" cy="73.8" r="1.8" fill="#a0c4e4" fill-opacity="0.75"/>
<circle cx="683.1" cy="73.8" r="1.8" fill="#a0c4e4" fill-opacity="0.75"/>
<circle cx="708" cy="68.2" r="1.8" fill="#a0c4e4" fill-opacity="0.75"/>
<circle cx="714.6" cy="68.2" r="1.8" fill="#a0c4e4" fill-opacity="0.75"/>
<circle cx="708" cy="73.8" r="1.8" fill="#a0c4e4" fill-opacity="0.75"/>
<circle cx="714.6" cy="73.8" r="1.8" fill="#a0c4e4" fill-opacity="0.75"/>
<circle cx="168.7" cy="88.3" r="1.8" fill="#a0c4e4" fill-opacity="0.75"/>
<circle cx="175.4" cy="88.3" r="1.8" fill="#a0c4e4" fill-opacity="0.75"/>
<circle cx="168.7" cy="94" r="1.8" fill="#a0c4e4" fill-opacity="0.75"/>
<circle cx="175.4" cy="94" r="1.8" fill="#a0c4e4" fill-opacity="0.75"/>
<circle cx="200.8" cy="88.2" r="1.8" fill="#a0c4e4" fill-opacity="0.75"/>
<circle cx="207.6" cy="88.2" r="1.8" fill="#a0c4e4" fill-opacity="0.75"/>
<circle cx="200.8" cy="94" r="1.8" fill="#a0c4e4" fill-opacity="0.75"/>
<circle cx="207.6" cy="94" r="1.8" fill="#a0c4e4" fill-opacity="0.75"/>
<circle cx="233" cy="87.9" r="1.8" fill="#a0c4e4" fill-opacity="0.75"/>
<circle cx="239.7" cy="87.9" r="1.8" fill="#a0c4e4" fill-opacity="0.75"/>
<circle cx="233" cy="93.6" r="1.8" fill="#a0c4e4" fill-opacity="0.75"/>
<circle cx="239.7" cy="93.6" r="1.8" fill="#a0c4e4" fill-opacity="0.75"/>
<circle cx="265.1" cy="86.7" r="1.8" fill="#a0c4e4" fill-opacity="0.75"/>
<circle cx="271.9" cy="86.7" r="1.8" fill="#a0c4e4" fill-opacity="0.75"/>
<circle cx="265.1" cy="92.4" r="1.8" fill="#a0c4e4" fill-opacity="0.75"/>
<circle cx="271.9" cy="92.4" r="1.8" fill="#a0c4e4" fill-opacity="0.75"/>
<circle cx="297.3" cy="83.8" r="1.8" fill="#a0c4e4" fill-opacity="0.75"/>
<circle cx="304.1" cy="83.8" r="1.8" fill="#a0c4e4" fill-opacity="0.75"/>
<circle cx="297.3" cy="89.6" r="1.8" fill="#a0c4e4" fill-opacity="0.75"/>
<circle cx="304.1" cy="89.6" r="1.8" fill="#a0c4e4" fill-opacity="0.75"/>
<circle cx="329.5" cy="78.6" r="1.8" fill="#a0c4e4" fill-opacity="0.75"/>
<circle cx="336.2" cy="78.6" r="1.8" fill="#a0c4e4" fill-opacity="0.75"/>
<circle cx="329.5" cy="84.3" r="1.8" fill="#a0c4e4" fill-opacity="0.75"/>
<circle cx="336.2" cy="84.3" r="1.8" fill="#a0c4e4" fill-opacity="0.75"/>
<circle cx="361.6" cy="71.6" r="1.8" fill="#a0c4e4" fill-opacity="0.75"/>
<circle cx="368.4" cy="71.6" r="1.8" fill="#a0c4e4" fill-opacity="0.75"/>
<circle cx="361.6" cy="77.3" r="1.8" fill="#a0c4e4" fill-opacity="0.75"/>
<circle cx="368.4" cy="77.3" r="1.8" fill="#a0c4e4" fill-opacity="0.75"/>
<circle cx="393.8" cy="65.4" r="1.8" fill="#a0c4e4" fill-opacity="0.75"/>
<circle cx="400.5" cy="65.4" r="1.8" fill="#a0c4e4" fill-opacity="0.75"/>
<circle cx="393.8" cy="71.1" r="1.8" fill="#a0c4e4" fill-opacity="0.75"/>
<circle cx="400.5" cy="71.1" r="1.8" fill="#a0c4e4" fill-opacity="0.75"/>
<circle cx="425.9" cy="63.4" r="1.8" fill="#a0c4e4" fill-opacity="0.75"/>
<circle cx="432.7" cy="63.4" r="1.8" fill="#a0c4e4" fill-opacity="0.75"/>
<circle cx="425.9" cy="69.1" r="1.8" fill="#a0c4e4" fill-opacity="0.75"/>
<circle cx="432.7" cy="69.1" r="1.8" fill="#a0c4e4" fill-opacity="0.75"/>
<circle cx="458.1" cy="66.8" r="1.8" fill="#a0c4e4" fill-opacity="0.75"/>
<circle cx="464.8" cy="66.8" r="1.8" fill="#a0c4e4" fill-opacity="0.75"/>
<circle cx="458.1" cy="72.5" r="1.8" fill="#a0c4e4" fill-opacity="0.75"/>
<circle cx="464.8" cy="72.5" r="1.8" fill="#a0c4e4" fill-opacity="0.75"/>
<circle cx="490.3" cy="73.5" r="1.8" fill="#a0c4e4" fill-opacity="0.75"/>
<circle cx="497" cy="73.5" r="1.8" fill="#a0c4e4" fill-opacity="0.75"/>
<circle cx="490.3" cy="79.2" r="1.8" fill="#a0c4e4" fill-opacity="0.75"/>
<circle cx="497" cy="79.2" r="1.8" fill="#a0c4e4" fill-opacity="0.75"/>
<circle cx="522.4" cy="80.2" r="1.8" fill="#a0c4e4" fill-opacity="0.75"/>
<circle cx="529.2" cy="80.2" r="1.8" fill="#a0c4e4" fill-opacity="0.75"/>
<circle cx="522.4" cy="86" r="1.8" fill="#a0c4e4" fill-opacity="0.75"/>
<circle cx="529.2" cy="86" r="1.8" fill="#a0c4e4" fill-opacity="0.75"/>
<circle cx="554.6" cy="84.8" r="1.8" fill="#a0c4e4" fill-opacity="0.75"/>
<circle cx="561.3" cy="84.8" r="1.8" fill="#a0c4e4" fill-opacity="0.75"/>
<circle cx="554.6" cy="90.5" r="1.8" fill="#a0c4e4" fill-opacity="0.75"/>
<circle cx="561.3" cy="90.5" r="1.8" fill="#a0c4e4" fill-opacity="0.75"/>
<circle cx="586.7" cy="87.1" r="1.8" fill="#a0c4e4" fill-opacity="0.75"/>
<circle cx="593.5" cy="87.1" r="1.8" fill="#a0c4e4" fill-opacity="0.75"/>
<circle cx="586.7" cy="92.8" r="1.8" fill="#a0c4e4" fill-opacity="0.75"/>
<circle cx="593.5" cy="92.8" r="1.8" fill="#a0c4e4" fill-opacity="0.75"/>
<circle cx="618.9" cy="88" r="1.8" fill="#a0c4e4" fill-opacity="0.75"/>
<circle cx="625.6" cy="88" r="1.8" fill="#a0c4e4" fill-opacity="0.75"/>
<circle cx="618.9" cy="93.7" r="1.8" fill="#a0c4e4" fill-opacity="0.75"/>
<circle cx="625.6" cy="93.7" r="1.8" fill="#a0c4e4" fill-opacity="0.75"/>
<circle cx="651" cy="88.3" r="1.8" fill="#a0c4e4" fill-opacity="0.75"/>
<circle cx="657.8" cy="88.3" r="1.8" fill="#a0c4e4" fill-opacity="0.75"/>
<circle cx="651" cy="94" r="1.8" fill="#a0c4e4" fill-opacity="0.75"/>
<circle cx="657.8" cy="94" r="1.8" fill="#a0c4e4" fill-opacity="0.75"/>
<circle cx="683.2" cy="88.3" r="1.8" fill="#a0c4e4" fill-opacity="0.75"/>
<circle cx="690" cy="88.3" r="1.8" fill="#a0c4e4" fill-opacity="0.75"/>
<circle cx="683.2" cy="94.1" r="1.8" fill="#a0c4e4" fill-opacity="0.75"/>
<circle cx="690" cy="94.1" r="1.8" fill="#a0c4e4" fill-opacity="0.75"/>
<circle cx="715.4" cy="88.3" r="1.8" fill="#a0c4e4" fill-opacity="0.75"/>
<circle cx="722.1" cy="88.3" r="1.8" fill="#a0c4e4" fill-opacity="0.75"/>
<circle cx="715.4" cy="94.1" r="1.8" fill="#a0c4e4" fill-opacity="0.75"/>
<circle cx="722.1" cy="94.1" r="1.8" fill="#a0c4e4" fill-opacity="0.75"/>
<circle cx="164.7" cy="109.1" r="1.9" fill="#a0c4e4" fill-opacity="0.75"/>
<circle cx="171.6" cy="109.1" r="1.9" fill="#a0c4e4" fill-opacity="0.75"/>
<circle cx="164.7" cy="114.9" r="1.9" fill="#a0c4e4" fill-opacity="0.75"/>
<circle cx="171.6" cy="114.9" r="1.9" fill="#a0c4e4" fill-opacity="0.75"/>
<circle cx="197.6" cy="109" r="1.9" fill="#a0c4e4" fill-opacity="0.75"/>
<circle cx="204.5" cy="109" r="1.9" fill="#a0c4e4" fill-opacity="0.75"/>
<circle cx="197.6" cy="114.8" r="1.9" fill="#a0c4e4" fill-opacity="0.75"/>
<circle cx="204.5" cy="114.8" r="1.9" fill="#a0c4e4" fill-opacity="0.75"/>
<circle cx="230.4" cy="108.6" r="1.9" fill="#a0c4e4" fill-opacity="0.75"/>
<circle cx="237.3" cy="108.6" r="1.9" fill="#a0c4e4" fill-opacity="0.75"/>
<circle cx="230.4" cy="114.5" r="1.9" fill="#a0c4e4" fill-opacity="0.75"/>
<circle cx="237.3" cy="114.5" r="1.9" fill="#a0c4e4" fill-opacity="0.75"/>
<circle cx="263.2" cy="107.5" r="1.9" fill="#a0c4e4" fill-opacity="0.75"/>
<circle cx="270.1" cy="107.5" r="1.9" fill="#a0c4e4" fill-opacity="0.75"/>
<circle cx="263.2" cy="113.4" r="1.9" fill="#a0c4e4" fill-opacity="0.75"/>
<circle cx="270.1" cy="113.4" r="1.9" fill="#a0c4e4" fill-opacity="0.75"/>
<circle cx="296.1" cy="104.7" r="1.9" fill="#a0c4e4" fill-opacity="0.75"/>
<circle cx="303" cy="104.7" r="1.9" fill="#a0c4e4" fill-opacity="0.75"/>
<circle cx="296.1" cy="110.6" r="1.9" fill="#a0c4e4" fill-opacity="0.75"/>
<circle cx="303" cy="110.6" r="1.9" fill="#a0c4e4" fill-opacity="0.75"/>
<circle cx="328.9" cy="99.4" r="1.9" fill="#a0c4e4" fill-opacity="0.75"/>
<circle cx="335.8" cy="99.4" r="1.9" fill="#a0c4e4" fill-opacity="0.75"/>
<circle cx="328.9" cy="105.3" r="1.9" fill="#a0c4e4" fill-opacity="0.75"/>
<circle cx="335.8" cy="105.3" r="1.9" fill="#a0c4e4" fill-opacity="0.75"/>
<circle cx="361.7" cy="92.2" r="1.9" fill="#a0c4e4" fill-opacity="0.75"/>
<circle cx="368.7" cy="92.2" r="1.9" fill="#a0c4e4" fill-opacity="0.75"/>
<circle cx="361.7" cy="98.1" r="1.9" fill="#a0c4e4" fill-opacity="0.75"/>
<circle cx="368.7" cy="98.1" r="1.9" fill="#a0c4e4" fill-opacity="0.75"/>
<circle cx="394.6" cy="86" r="1.9" fill="#a0c4e4" fill-opacity="0.75"/>
<circle cx="401.5" cy="86" r="1.9" fill="#a0c4e4" fill-opacity="0.75"/>
<circle cx="394.6" cy="91.9" r="1.9" fill="#a0c4e4" fill-opacity="0.75"/>
<circle cx="401.5" cy="91.9" r="1.9" fill="#a0c4e4" fill-opacity="0.75"/>
<circle cx="427.4" cy="84.2" r="1.9" fill="#a0c4e4" fill-opacity="0.75"/>
<circle cx="434.3" cy="84.2" r="1.9" fill="#a0c4e4" fill-opacity="0.75"/>
<circle cx="427.4" cy="90" r="1.9" fill="#a0c4e4" fill-opacity="0.75"/>
<circle cx="434.3" cy="90" r="1.9" fill="#a0c4e4" fill-opacity="0.75"/>
<circle cx="460.3" cy="87.9" r="1.9" fill="#a0c4e4" fill-opacity="0.75"/>
<circle cx="467.2" cy="87.9" r="1.9" fill="#a0c4e4" fill-opacity="0.75"/>
<circle cx="460.3" cy="93.8" r="1.9" fill="#a0c4e4" fill-opacity="0.75"/>
<circle cx="467.2" cy="93.8" r="1.9" fill="#a0c4e4" fill-opacity="0.75"/>
<circle cx="493.1" cy="94.9" r="1.9" fill="#a0c4e4" fill-opacity="0.75"/>
<circle cx="500" cy="94.9" r="1.9" fill="#a0c4e4" fill-opacity="0.75"/>
<circle cx="493.1" cy="100.8" r="1.9" fill="#a0c4e4" fill-opacity="0.75"/>
<circle cx="500" cy="100.8" r="1.9" fill="#a0c4e4" fill-opacity="0.75"/>
<circle cx="525.9" cy="101.6" r="1.9" fill="#a0c4e4" fill-opacity="0.75"/>
<circle cx="532.8" cy="101.6" r="1.9" fill="#a0c4e4" fill-opacity="0.75"/>
<circle cx="525.9" cy="107.5" r="1.9" fill="#a0c4e4" fill-opacity="0.75"/>
<circle cx="532.8" cy="107.5" r="1.9" fill="#a0c4e4" fill-opacity="0.75"/>
<circle cx="558.8" cy="106" r="1.9" fill="#a0c4e4" fill-opacity="0.75"/>
<circle cx="565.7" cy="106" r="1.9" fill="#a0c4e4" fill-opacity="0.75"/>
<circle cx="558.8" cy="111.8" r="1.9" fill="#a0c4e4" fill-opacity="0.75"/>
<circle cx="565.7" cy="111.8" r="1.9" fill="#a0c4e4" fill-opacity="0.75"/>
<circle cx="591.6" cy="108.1" r="1.9" fill="#a0c4e4" fill-opacity="0.75"/>
<circle cx="598.5" cy="108.1" r="1.9" fill="#a0c4e4" fill-opacity="0.75"/>
<circle cx="591.6" cy="113.9" r="1.9" fill="#a0c4e4" fill-opacity="0.75"/>
<circle cx="598.5" cy="113.9" r="1.9" fill="#a0c4e4" fill-opacity="0.75"/>
<circle cx="624.4" cy="108.8" r="1.9" fill="#a0c4e4" fill-opacity="0.75"/>
<circle cx="631.3" cy="108.8" r="1.9" fill="#a0c4e4" fill-opacity="0.75"/>
<circle cx="624.4" cy="114.7" r="1.9" fill="#a0c4e4" fill-opacity="0.75"/>
<circle cx="631.3" cy="114.7" r="1.9" fill="#a0c4e4" fill-opacity="0.75"/>
<circle cx="657.3" cy="109" r="1.9" fill="#a0c4e4" fill-opacity="0.75"/>
<circle cx="664.2" cy="109" r="1.9" fill="#a0c4e4" fill-opacity="0.75"/>
<circle cx="657.3" cy="114.9" r="1.9" fill="#a0c4e4" fill-opacity="0.75"/>
<circle cx="664.2" cy="114.9" r="1.9" fill="#a0c4e4" fill-opacity="0.75"/>
<circle cx="690.1" cy="109.1" r="1.9" fill="#a0c4e4" fill-opacity="0.75"/>
<circle cx="697" cy="109.1" r="1.9" fill="#a0c4e4" fill-opacity="0.75"/>
<circle cx="690.1" cy="114.9" r="1.9" fill="#a0c4e4" fill-opacity="0.75"/>
<circle cx="697" cy="114.9" r="1.9" fill="#a0c4e4" fill-opacity="0.75"/>
<circle cx="722.9" cy="109.1" r="1.9" fill="#a0c4e4" fill-opacity="0.75"/>
<circle cx="729.8" cy="109.1" r="1.9" fill="#a0c4e4" fill-opacity="0.75"/>
<circle cx="722.9" cy="114.9" r="1.9" fill="#a0c4e4" fill-opacity="0.75"/>
<circle cx="729.8" cy="114.9" r="1.9" fill="#a0c4e4" fill-opacity="0.75"/>
<circle cx="160.4" cy="131.8" r="1.9" fill="#a0c4e4" fill-opacity="0.75"/>
<circle cx="167.5" cy="131.8" r="1.9" fill="#a0c4e4" fill-opacity="0.75"/>
<circle cx="160.4" cy="137.8" r="1.9" fill="#a0c4e4" fill-opacity="0.75"/>
<circle cx="167.5" cy="137.8" r="1.9" fill="#a0c4e4" fill-opacity="0.75"/>
<circle cx="194" cy="131.7" r="1.9" fill="#a0c4e4" fill-opacity="0.75"/>
<circle cx="201.1" cy="131.7" r="1.9" fill="#a0c4e4" fill-opacity="0.75"/>
<circle cx="194" cy="137.7" r="1.9" fill="#a0c4e4" fill-opacity="0.75"/>
<circle cx="201.1" cy="137.7" r="1.9" fill="#a0c4e4" fill-opacity="0.75"/>
<circle cx="227.6" cy="131.4" r="1.9" fill="#a0c4e4" fill-opacity="0.75"/>
<circle cx="234.6" cy="131.4" r="1.9" fill="#a0c4e4" fill-opacity="0.75"/>
<circle cx="227.6" cy="137.4" r="1.9" fill="#a0c4e4" fill-opacity="0.75"/>
<circle cx="234.6" cy="137.4" r="1.9" fill="#a0c4e4" fill-opacity="0.75"/>
<circle cx="261.1" cy="130.3" r="1.9" fill="#a0c4e4" fill-opacity="0.75"/>
<circle cx="268.2" cy="130.3" r="1.9" fill="#a0c4e4" fill-opacity="0.75"/>
<circle cx="261.1" cy="136.4" r="1.9" fill="#a0c4e4" fill-opacity="0.75"/>
<circle cx="268.2" cy="136.4" r="1.9" fill="#a0c4e4" fill-opacity="0.75"/>
<circle cx="294.7" cy="127.6" r="1.9" fill="#a0c4e4" fill-opacity="0.75"/>
<circle cx="301.8" cy="127.6" r="1.9" fill="#a0c4e4" fill-opacity="0.75"/>
<circle cx="294.7" cy="133.6" r="1.9" fill="#a0c4e4" fill-opacity="0.75"/>
<circle cx="301.8" cy="133.6" r="1.9" fill="#a0c4e4" fill-opacity="0.75"/>
<circle cx="328.3" cy="122.2" r="1.9" fill="#a0c4e4" fill-opacity="0.75"/>
<circle cx="335.4" cy="122.2" r="1.9" fill="#a0c4e4" fill-opacity="0.75"/>
<circle cx="328.3" cy="128.2" r="1.9" fill="#a0c4e4" fill-opacity="0.75"/>
<circle cx="335.4" cy="128.2" r="1.9" fill="#a0c4e4" fill-opacity="0.75"/>
<circle cx="361.9" cy="114.9" r="1.9" fill="#a0c4e4" fill-opacity="0.75"/>
<circle cx="369" cy="114.9" r="1.9" fill="#a0c4e4" fill-opacity="0.75"/>
<circle cx="361.9" cy="120.9" r="1.9" fill="#a0c4e4" fill-opacity="0.75"/>
<circle cx="369" cy="120.9" r="1.9" fill="#a0c4e4" fill-opacity="0.75"/>
<circle cx="395.5" cy="108.6" r="1.9" fill="#a0c4e4" fill-opacity="0.75"/>
<circle cx="402.5" cy="108.6" r="1.9" fill="#a0c4e4" fill-opacity="0.75"/>
<circle cx="395.5" cy="114.6" r="1.9" fill="#a0c4e4" fill-opacity="0.75"/>
<circle cx="402.5" cy="114.6" r="1.9" fill="#a0c4e4" fill-opacity="0.75"/>
<circle cx="429" cy="107" r="1.9" fill="#a0c4e4" fill-opacity="0.75"/>
<circle cx="436.1" cy="107" r="1.9" fill="#a0c4e4" fill-opacity="0.75"/>
<circle cx="429" cy="113" r="1.9" fill="#a0c4e4" fill-opacity="0.75"/>
<circle cx="436.1" cy="113" r="1.9" fill="#a0c4e4" fill-opacity="0.75"/>
<circle cx="462.6" cy="111.1" r="1.9" fill="#a0c4e4" fill-opacity="0.75"/>
<circle cx="469.7" cy="111.1" r="1.9" fill="#a0c4e4" fill-opacity="0.75"/>
<circle cx="462.6" cy="117.1" r="1.9" fill="#a0c4e4" fill-opacity="0.75"/>
<circle cx="469.7" cy="117.1" r="1.9" fill="#a0c4e4" fill-opacity="0.75"/>
<circle cx="496.2" cy="118.3" r="1.9" fill="#a0c4e4" fill-opacity="0.75"/>
<circle cx="503.3" cy="118.3" r="1.9" fill="#a0c4e4" fill-opacity="0.75"/>
<circle cx="496.2" cy="124.3" r="1.9" fill="#a0c4e4" fill-opacity="0.75"/>
<circle cx="503.3" cy="124.3" r="1.9" fill="#a0c4e4" fill-opacity="0.75"/>
<circle cx="529.8" cy="125" r="1.9" fill="#a0c4e4" fill-opacity="0.75"/>
<circle cx="536.9" cy="125" r="1.9" fill="#a0c4e4" fill-opacity="0.75"/>
<circle cx="529.8" cy="131" r="1.9" fill="#a0c4e4" fill-opacity="0.75"/>
<circle cx="536.9" cy="131" r="1.9" fill="#a0c4e4" fill-opacity="0.75"/>
<circle cx="563.4" cy="129.1" r="1.9" fill="#a0c4e4" fill-opacity="0.75"/>
<circle cx="570.4" cy="129.1" r="1.9" fill="#a0c4e4" fill-opacity="0.75"/>
<circle cx="563.4" cy="135.1" r="1.9" fill="#a0c4e4" fill-opacity="0.75"/>
<circle cx="570.4" cy="135.1" r="1.9" fill="#a0c4e4" fill-opacity="0.75"/>
<circle cx="596.9" cy="131" r="1.9" fill="#a0c4e4" fill-opacity="0.75"/>
<circle cx="604" cy="131" r="1.9" fill="#a0c4e4" fill-opacity="0.75"/>
<circle cx="596.9" cy="137" r="1.9" fill="#a0c4e4" fill-opacity="0.75"/>
<circle cx="604" cy="137" r="1.9" fill="#a0c4e4" fill-opacity="0.75"/>
<circle cx="630.5" cy="131.6" r="1.9" fill="#a0c4e4" fill-opacity="0.75"/>
<circle cx="637.6" cy="131.6" r="1.9" fill="#a0c4e4" fill-opacity="0.75"/>
<circle cx="630.5" cy="137.6" r="1.9" fill="#a0c4e4" fill-opacity="0.75"/>
<circle cx="637.6" cy="137.6" r="1.9" fill="#a0c4e4" fill-opacity="0.75"/>
<circle cx="664.1" cy="131.8" r="1.9" fill="#a0c4e4" fill-opacity="0.75"/>
<circle cx="671.2" cy="131.8" r="1.9" fill="#a0c4e4" fill-opacity="0.75"/>
<circle cx="664.1" cy="137.8" r="1.9" fill="#a0c4e4" fill-opacity="0.75"/>
<circle cx="671.2" cy="137.8" r="1.9" fill="#a0c4e4" fill-opacity="0.75"/>
<circle cx="697.7" cy="131.8" r="1.9" fill="#a0c4e4" fill-opacity="0.75"/>
<circle cx="704.7" cy="131.8" r="1.9" fill="#a0c4e4" fill-opacity="0.75"/>
<circle cx="697.7" cy="137.8" r="1.9" fill="#a0c4e4" fill-opacity="0.75"/>
<circle cx="704.7" cy="137.8" r="1.9" fill="#a0c4e4" fill-opacity="0.75"/>
<circle cx="731.3" cy="131.8" r="1.9" fill="#a0c4e4" fill-opacity="0.75"/>
<circle cx="738.3" cy="131.8" r="1.9" fill="#a0c4e4" fill-opacity="0.75"/>
<circle cx="731.3" cy="137.8" r="1.9" fill="#a0c4e4" fill-opacity="0.75"/>
<circle cx="738.3" cy="137.8" r="1.9" fill="#a0c4e4" fill-opacity="0.75"/>
<circle cx="156.3" cy="153.3" r="2" fill="#a0c4e4" fill-opacity="0.75"/>
<circle cx="163.6" cy="153.3" r="2" fill="#a0c4e4" fill-opacity="0.75"/>
<circle cx="156.3" cy="159.5" r="2" fill="#a0c4e4" fill-opacity="0.75"/>
<circle cx="163.6" cy="159.5" r="2" fill="#a0c4e4" fill-opacity="0.75"/>
<circle cx="190.6" cy="153.3" r="2" fill="#a0c4e4" fill-opacity="0.75"/>
<circle cx="197.8" cy="153.3" r="2" fill="#a0c4e4" fill-opacity="0.75"/>
<circle cx="190.6" cy="159.4" r="2" fill="#a0c4e4" fill-opacity="0.75"/>
<circle cx="197.8" cy="159.4" r="2" fill="#a0c4e4" fill-opacity="0.75"/>
<circle cx="224.9" cy="153" r="2" fill="#a0c4e4" fill-opacity="0.75"/>
<circle cx="232.1" cy="153" r="2" fill="#a0c4e4" fill-opacity="0.75"/>
<circle cx="224.9" cy="159.1" r="2" fill="#a0c4e4" fill-opacity="0.75"/>
<circle cx="232.1" cy="159.1" r="2" fill="#a0c4e4" fill-opacity="0.75"/>
<circle cx="259.2" cy="152" r="2" fill="#a0c4e4" fill-opacity="0.75"/>
<circle cx="266.4" cy="152" r="2" fill="#a0c4e4" fill-opacity="0.75"/>
<circle cx="259.2" cy="158.1" r="2" fill="#a0c4e4" fill-opacity="0.75"/>
<circle cx="266.4" cy="158.1" r="2" fill="#a0c4e4" fill-opacity="0.75"/>
<circle cx="293.4" cy="149.3" r="2" fill="#a0c4e4" fill-opacity="0.75"/>
<circle cx="300.7" cy="149.3" r="2" fill="#a0c4e4" fill-opacity="0.75"/>
<circle cx="293.4" cy="155.4" r="2" fill="#a0c4e4" fill-opacity="0.75"/>
<circle cx="300.7" cy="155.4" r="2" fill="#a0c4e4" fill-opacity="0.75"/>
<circle cx="327.7" cy="143.9" r="2" fill="#a0c4e4" fill-opacity="0.75"/>
<circle cx="335" cy="143.9" r="2" fill="#a0c4e4" fill-opacity="0.75"/>
<circle cx="327.7" cy="150" r="2" fill="#a0c4e4" fill-opacity="0.75"/>
<circle cx="335" cy="150" r="2" fill="#a0c4e4" fill-opacity="0.75"/>
<circle cx="362" cy="136.4" r="2" fill="#a0c4e4" fill-opacity="0.75"/>
<circle cx="369.2" cy="136.4" r="2" fill="#a0c4e4" fill-opacity="0.75"/>
<circle cx="362" cy="142.6" r="2" fill="#a0c4e4" fill-opacity="0.75"/>
<circle cx="369.2" cy="142.6" r="2" fill="#a0c4e4" fill-opacity="0.75"/>
<circle cx="396.3" cy="130" r="2" fill="#a0c4e4" fill-opacity="0.75"/>
<circle cx="403.5" cy="130" r="2" fill="#a0c4e4" fill-opacity="0.75"/>
<circle cx="396.3" cy="136.2" r="2" fill="#a0c4e4" fill-opacity="0.75"/>
<circle cx="403.5" cy="136.2" r="2" fill="#a0c4e4" fill-opacity="0.75"/>
<circle cx="430.6" cy="128.6" r="2" fill="#a0c4e4" fill-opacity="0.75"/>
<circle cx="437.8" cy="128.6" r="2" fill="#a0c4e4" fill-opacity="0.75"/>
<circle cx="430.6" cy="134.7" r="2" fill="#a0c4e4" fill-opacity="0.75"/>
<circle cx="437.8" cy="134.7" r="2" fill="#a0c4e4" fill-opacity="0.75"/>
<circle cx="464.9" cy="133.1" r="2" fill="#a0c4e4" fill-opacity="0.75"/>
<circle cx="472.1" cy="133.1" r="2" fill="#a0c4e4" fill-opacity="0.75"/>
<circle cx="464.9" cy="139.2" r="2" fill="#a0c4e4" fill-opacity="0.75"/>
<circle cx="472.1" cy="139.2" r="2" fill="#a0c4e4" fill-opacity="0.75"/>
<circle cx="499.1" cy="140.5" r="2" fill="#a0c4e4" fill-opacity="0.75"/>
<circle cx="506.4" cy="140.5" r="2" fill="#a0c4e4" fill-opacity="0.75"/>
<circle cx="499.1" cy="146.7" r="2" fill="#a0c4e4" fill-opacity="0.75"/>
<circle cx="506.4" cy="146.7" r="2" fill="#a0c4e4" fill-opacity="0.75"/>
<circle cx="533.4" cy="147.1" r="2" fill="#a0c4e4" fill-opacity="0.75"/>
<circle cx="540.7" cy="147.1" r="2" fill="#a0c4e4" fill-opacity="0.75"/>
<circle cx="533.4" cy="153.2" r="2" fill="#a0c4e4" fill-opacity="0.75"/>
<circle cx="540.7" cy="153.2" r="2" fill="#a0c4e4" fill-opacity="0.75"/>
<circle cx="567.7" cy="151" r="2" fill="#a0c4e4" fill-opacity="0.75"/>
<circle cx="574.9" cy="151" r="2" fill="#a0c4e4" fill-opacity="0.75"/>
<circle cx="567.7" cy="157.1" r="2" fill="#a0c4e4" fill-opacity="0.75"/>
<circle cx="574.9" cy="157.1" r="2" fill="#a0c4e4" fill-opacity="0.75"/>
<circle cx="602" cy="152.7" r="2" fill="#a0c4e4" fill-opacity="0.75"/>
<circle cx="609.2" cy="152.7" r="2" fill="#a0c4e4" fill-opacity="0.75"/>
<circle cx="602" cy="158.8" r="2" fill="#a0c4e4" fill-opacity="0.75"/>
<circle cx="609.2" cy="158.8" r="2" fill="#a0c4e4" fill-opacity="0.75"/>
<circle cx="636.3" cy="153.2" r="2" fill="#a0c4e4" fill-opacity="0.75"/>
<circle cx="643.5" cy="153.2" r="2" fill="#a0c4e4" fill-opacity="0.75"/>
<circle cx="636.3" cy="159.3" r="2" fill="#a0c4e4" fill-opacity="0.75"/>
<circle cx="643.5" cy="159.3" r="2" fill="#a0c4e4" fill-opacity="0.75"/>
<circle cx="670.6" cy="153.3" r="2" fill="#a0c4e4" fill-opacity="0.75"/>
<circle cx="677.8" cy="153.3" r="2" fill="#a0c4e4" fill-opacity="0.75"/>
<circle cx="670.6" cy="159.4" r="2" fill="#a0c4e4" fill-opacity="0.75"/>
<circle cx="677.8" cy="159.4" r="2" fill="#a0c4e4" fill-opacity="0.75"/>
<circle cx="704.8" cy="153.3" r="2" fill="#a0c4e4" fill-opacity="0.75"/>
<circle cx="712.1" cy="153.3" r="2" fill="#a0c4e4" fill-opacity="0.75"/>
<circle cx="704.8" cy="159.5" r="2" fill="#a0c4e4" fill-opacity="0.75"/>
<circle cx="712.1" cy="159.5" r="2" fill="#a0c4e4" fill-opacity="0.75"/>
<circle cx="739.1" cy="153.3" r="2" fill="#a0c4e4" fill-opacity="0.75"/>
<circle cx="746.4" cy="153.3" r="2" fill="#a0c4e4" fill-opacity="0.75"/>
<circle cx="739.1" cy="159.5" r="2" fill="#a0c4e4" fill-opacity="0.75"/>
<circle cx="746.4" cy="159.5" r="2" fill="#a0c4e4" fill-opacity="0.75"/>
<circle cx="152.2" cy="174.9" r="2" fill="#a0c4e4" fill-opacity="0.75"/>
<circle cx="159.6" cy="174.9" r="2" fill="#a0c4e4" fill-opacity="0.75"/>
<circle cx="152.2" cy="181.1" r="2" fill="#a0c4e4" fill-opacity="0.75"/>
<circle cx="159.6" cy="181.1" r="2" fill="#a0c4e4" fill-opacity="0.75"/>
<circle cx="187.2" cy="174.8" r="2" fill="#a0c4e4" fill-opacity="0.75"/>
<circle cx="194.6" cy="174.8" r="2" fill="#a0c4e4" fill-opacity="0.75"/>
<circle cx="187.2" cy="181.1" r="2" fill="#a0c4e4" fill-opacity="0.75"/>
<circle cx="194.6" cy="181.1" r="2" fill="#a0c4e4" fill-opacity="0.75"/>
<circle cx="222.2" cy="174.6" r="2" fill="#a0c4e4" fill-opacity="0.75"/>
<circle cx="229.6" cy="174.6" r="2" fill="#a0c4e4" fill-opacity="0.75"/>
<circle cx="222.2" cy="180.8" r="2" fill="#a0c4e4" fill-opacity="0.75"/>
<circle cx="229.6" cy="180.8" r="2" fill="#a0c4e4" fill-opacity="0.75"/>
<circle cx="257.2" cy="173.6" r="2" fill="#a0c4e4" fill-opacity="0.75"/>
<circle cx="264.6" cy="173.6" r="2" fill="#a0c4e4" fill-opacity="0.75"/>
<circle cx="257.2" cy="179.9" r="2" fill="#a0c4e4" fill-opacity="0.75"/>
<circle cx="264.6" cy="179.9" r="2" fill="#a0c4e4" fill-opacity="0.75"/>
<circle cx="292.2" cy="170.9" r="2" fill="#a0c4e4" fill-opacity="0.75"/>
<circle cx="299.6" cy="170.9" r="2" fill="#a0c4e4" fill-opacity="0.75"/>
<circle cx="292.2" cy="177.2" r="2" fill="#a0c4e4" fill-opacity="0.75"/>
<circle cx="299.6" cy="177.2" r="2" fill="#a0c4e4" fill-opacity="0.75"/>
<circle cx="327.2" cy="165.5" r="2" fill="#a0c4e4" fill-opacity="0.75"/>
<circle cx="334.6" cy="165.5" r="2" fill="#a0c4e4" fill-opacity="0.75"/>
<circle cx="327.2" cy="171.8" r="2" fill="#a0c4e4" fill-opacity="0.75"/>
<circle cx="334.6" cy="171.8" r="2" fill="#a0c4e4" fill-opacity="0.75"/>
<circle cx="362.1" cy="157.9" r="2" fill="#a0c4e4" fill-opacity="0.75"/>
<circle cx="369.5" cy="157.9" r="2" fill="#a0c4e4" fill-opacity="0.75"/>
<circle cx="362.1" cy="164.2" r="2" fill="#a0c4e4" fill-opacity="0.75"/>
<circle cx="369.5" cy="164.2" r="2" fill="#a0c4e4" fill-opacity="0.75"/>
<circle cx="397.1" cy="151.4" r="2" fill="#a0c4e4" fill-opacity="0.75"/>
<circle cx="404.5" cy="151.4" r="2" fill="#a0c4e4" fill-opacity="0.75"/>
<circle cx="397.1" cy="157.7" r="2" fill="#a0c4e4" fill-opacity="0.75"/>
<circle cx="404.5" cy="157.7" r="2" fill="#a0c4e4" fill-opacity="0.75"/>
<circle cx="432.1" cy="150.2" r="2" fill="#a0c4e4" fill-opacity="0.75"/>
<circle cx="439.5" cy="150.2" r="2" fill="#a0c4e4" fill-opacity="0.75"/>
<circle cx="432.1" cy="156.5" r="2" fill="#a0c4e4" fill-opacity="0.75"/>
<circle cx="439.5" cy="156.5" r="2" fill="#a0c4e4" fill-opacity="0.75"/>
<circle cx="467.1" cy="155" r="2" fill="#a0c4e4" fill-opacity="0.75"/>
<circle cx="474.5" cy="155" r="2" fill="#a0c4e4" fill-opacity="0.75"/>
<circle cx="467.1" cy="161.3" r="2" fill="#a0c4e4" fill-opacity="0.75"/>
<circle cx="474.5" cy="161.3" r="2" fill="#a0c4e4" fill-opacity="0.75"/>
<circle cx="502.1" cy="162.7" r="2" fill="#a0c4e4" fill-opacity="0.75"/>
<circle cx="509.5" cy="162.7" r="2" fill="#a0c4e4" fill-opacity="0.75"/>
<circle cx="502.1" cy="169" r="2" fill="#a0c4e4" fill-opacity="0.75"/>
<circle cx="509.5" cy="169" r="2" fill="#a0c4e4" fill-opacity="0.75"/>
<circle cx="537.1" cy="169.2" r="2" fill="#a0c4e4" fill-opacity="0.75"/>
<circle cx="544.5" cy="169.2" r="2" fill="#a0c4e4" fill-opacity="0.75"/>
<circle cx="537.1" cy="175.5" r="2" fill="#a0c4e4" fill-opacity="0.75"/>
<circle cx="544.5" cy="175.5" r="2" fill="#a0c4e4" fill-opacity="0.75"/>
<circle cx="572.1" cy="172.8" r="2" fill="#a0c4e4" fill-opacity="0.75"/>
<circle cx="579.5" cy="172.8" r="2" fill="#a0c4e4" fill-opacity="0.75"/>
<circle cx="572.1" cy="179.1" r="2" fill="#a0c4e4" fill-opacity="0.75"/>
<circle cx="579.5" cy="179.1" r="2" fill="#a0c4e4" fill-opacity="0.75"/>
<circle cx="607.1" cy="174.3" r="2" fill="#a0c4e4" fill-opacity="0.75"/>
<circle cx="614.4" cy="174.3" r="2" fill="#a0c4e4" fill-opacity="0.75"/>
<circle cx="607.1" cy="180.6" r="2" fill="#a0c4e4" fill-opacity="0.75"/>
<circle cx="614.4" cy="180.6" r="2" fill="#a0c4e4" fill-opacity="0.75"/>
<circle cx="642" cy="174.8" r="2" fill="#a0c4e4" fill-opacity="0.75"/>
<circle cx="649.4" cy="174.8" r="2" fill="#a0c4e4" fill-opacity="0.75"/>
<circle cx="642" cy="181" r="2" fill="#a0c4e4" fill-opacity="0.75"/>
<circle cx="649.4" cy="181" r="2" fill="#a0c4e4" fill-opacity="0.75"/>
<circle cx="677" cy="174.8" r="2" fill="#a0c4e4" fill-opacity="0.75"/>
<circle cx="684.4" cy="174.8" r="2" fill="#a0c4e4" fill-opacity="0.75"/>
<circle cx="677" cy="181.1" r="2" fill="#a0c4e4" fill-opacity="0.75"/>
<circle cx="684.4" cy="181.1" r="2" fill="#a0c4e4" fill-opacity="0.75"/>
<circle cx="712" cy="174.9" r="2" fill="#a0c4e4" fill-opacity="0.75"/>
<circle cx="719.4" cy="174.9" r="2" fill="#a0c4e4" fill-opacity="0.75"/>
<circle cx="712" cy="181.1" r="2" fill="#a0c4e4" fill-opacity="0.75"/>
<circle cx="719.4" cy="181.1" r="2" fill="#a0c4e4" fill-opacity="0.75"/>
<circle cx="747" cy="174.9" r="2" fill="#a0c4e4" fill-opacity="0.75"/>
<circle cx="754.4" cy="174.9" r="2" fill="#a0c4e4" fill-opacity="0.75"/>
<circle cx="747" cy="181.1" r="2" fill="#a0c4e4" fill-opacity="0.75"/>
<circle cx="754.4" cy="181.1" r="2" fill="#a0c4e4" fill-opacity="0.75"/>
<circle cx="148.2" cy="195.8" r="2.1" fill="#a0b85a" fill-opacity="0.55"/>
<circle cx="155.8" cy="195.8" r="2.1" fill="#a0b85a" fill-opacity="0.55"/>
<circle cx="148.2" cy="202.2" r="2.1" fill="#a0b85a" fill-opacity="0.55"/>
<circle cx="155.8" cy="202.2" r="2.1" fill="#a0b85a" fill-opacity="0.55"/>
<circle cx="183.9" cy="195.7" r="2.1" fill="#a0b85a" fill-opacity="0.55"/>
<circle cx="191.5" cy="195.7" r="2.1" fill="#a0b85a" fill-opacity="0.55"/>
<circle cx="183.9" cy="202.2" r="2.1" fill="#a0b85a" fill-opacity="0.55"/>
<circle cx="191.5" cy="202.2" r="2.1" fill="#a0b85a" fill-opacity="0.55"/>
<circle cx="219.6" cy="195.5" r="2.1" fill="#a0b85a" fill-opacity="0.55"/>
<circle cx="227.1" cy="195.5" r="2.1" fill="#a0b85a" fill-opacity="0.55"/>
<circle cx="219.6" cy="201.9" r="2.1" fill="#a0b85a" fill-opacity="0.55"/>
<circle cx="227.1" cy="201.9" r="2.1" fill="#a0b85a" fill-opacity="0.55"/>
<circle cx="255.3" cy="194.6" r="2.1" fill="#a0b85a" fill-opacity="0.55"/>
<circle cx="262.8" cy="194.6" r="2.1" fill="#a0b85a" fill-opacity="0.55"/>
<circle cx="255.3" cy="201" r="2.1" fill="#a0b85a" fill-opacity="0.55"/>
<circle cx="262.8" cy="201" r="2.1" fill="#a0b85a" fill-opacity="0.55"/>
<circle cx="290.9" cy="192" r="2.1" fill="#a0b85a" fill-opacity="0.55"/>
<circle cx="298.5" cy="192" r="2.1" fill="#a0b85a" fill-opacity="0.55"/>
<circle cx="290.9" cy="198.4" r="2.1" fill="#a0b85a" fill-opacity="0.55"/>
<circle cx="298.5" cy="198.4" r="2.1" fill="#a0b85a" fill-opacity="0.55"/>
<circle cx="326.6" cy="186.5" r="2.1" fill="#a0b85a" fill-opacity="0.55"/>
<circle cx="334.2" cy="186.5" r="2.1" fill="#a0b85a" fill-opacity="0.55"/>
<circle cx="326.6" cy="192.9" r="2.1" fill="#a0b85a" fill-opacity="0.55"/>
<circle cx="334.2" cy="192.9" r="2.1" fill="#a0b85a" fill-opacity="0.55"/>
<circle cx="362.3" cy="178.8" r="2.1" fill="#a0b85a" fill-opacity="0.55"/>
<circle cx="369.8" cy="178.8" r="2.1" fill="#a0b85a" fill-opacity="0.55"/>
<circle cx="362.3" cy="185.2" r="2.1" fill="#a0b85a" fill-opacity="0.55"/>
<circle cx="369.8" cy="185.2" r="2.1" fill="#a0b85a" fill-opacity="0.55"/>
<circle cx="397.9" cy="172.3" r="2.1" fill="#a0b85a" fill-opacity="0.55"/>
<circle cx="405.5" cy="172.3" r="2.1" fill="#a0b85a" fill-opacity="0.55"/>
<circle cx="397.9" cy="178.7" r="2.1" fill="#a0b85a" fill-opacity="0.55"/>
<circle cx="405.5" cy="178.7" r="2.1" fill="#a0b85a" fill-opacity="0.55"/>
<circle cx="433.6" cy="171.2" r="2.1" fill="#a0b85a" fill-opacity="0.55"/>
<circle cx="441.2" cy="171.2" r="2.1" fill="#a0b85a" fill-opacity="0.55"/>
<circle cx="433.6" cy="177.6" r="2.1" fill="#a0b85a" fill-opacity="0.55"/>
<circle cx="441.2" cy="177.6" r="2.1" fill="#a0b85a" fill-opacity="0.55"/>
<circle cx="469.3" cy="176.4" r="2.1" fill="#a0b85a" fill-opacity="0.55"/>
<circle cx="476.8" cy="176.4" r="2.1" fill="#a0b85a" fill-opacity="0.55"/>
<circle cx="469.3" cy="182.8" r="2.1" fill="#a0b85a" fill-opacity="0.55"/>
<circle cx="476.8" cy="182.8" r="2.1" fill="#a0b85a" fill-opacity="0.55"/>
<circle cx="505" cy="184.3" r="2.1" fill="#a0b85a" fill-opacity="0.55"/>
<circle cx="512.5" cy="184.3" r="2.1" fill="#a0b85a" fill-opacity="0.55"/>
<circle cx="505" cy="190.7" r="2.1" fill="#a0b85a" fill-opacity="0.55"/>
<circle cx="512.5" cy="190.7" r="2.1" fill="#a0b85a" fill-opacity="0.55"/>
<circle cx="540.6" cy="190.6" r="2.1" fill="#a0b85a" fill-opacity="0.55"/>
<circle cx="548.2" cy="190.6" r="2.1" fill="#a0b85a" fill-opacity="0.55"/>
<circle cx="540.6" cy="197.1" r="2.1" fill="#a0b85a" fill-opacity="0.55"/>
<circle cx="548.2" cy="197.1" r="2.1" fill="#a0b85a" fill-opacity="0.55"/>
<circle cx="576.3" cy="194.1" r="2.1" fill="#a0b85a" fill-opacity="0.55"/>
<circle cx="583.8" cy="194.1" r="2.1" fill="#a0b85a" fill-opacity="0.55"/>
<circle cx="576.3" cy="200.5" r="2.1" fill="#a0b85a" fill-opacity="0.55"/>
<circle cx="583.8" cy="200.5" r="2.1" fill="#a0b85a" fill-opacity="0.55"/>
<circle cx="612" cy="195.4" r="2.1" fill="#a0b85a" fill-opacity="0.55"/>
<circle cx="619.5" cy="195.4" r="2.1" fill="#a0b85a" fill-opacity="0.55"/>
<circle cx="612" cy="201.8" r="2.1" fill="#a0b85a" fill-opacity="0.55"/>
<circle cx="619.5" cy="201.8" r="2.1" fill="#a0b85a" fill-opacity="0.55"/>
<circle cx="647.6" cy="195.7" r="2.1" fill="#a0b85a" fill-opacity="0.55"/>
<circle cx="655.2" cy="195.7" r="2.1" fill="#a0b85a" fill-opacity="0.55"/>
<circle cx="647.6" cy="202.1" r="2.1" fill="#a0b85a" fill-opacity="0.55"/>
<circle cx="655.2" cy="202.1" r="2.1" fill="#a0b85a" fill-opacity="0.55"/>
<circle cx="683.3" cy="195.8" r="2.1" fill="#a0b85a" fill-opacity="0.55"/>
<circle cx="690.9" cy="195.8" r="2.1" fill="#a0b85a" fill-opacity="0.55"/>
<circle cx="683.3" cy="202.2" r="2.1" fill="#a0b85a" fill-opacity="0.55"/>
<circle cx="690.9" cy="202.2" r="2.1" fill="#a0b85a" fill-opacity="0.55"/>
<circle cx="719" cy="195.8" r="2.1" fill="#a0b85a" fill-opacity="0.55"/>
<circle cx="726.5" cy="195.8" r="2.1" fill="#a0b85a" fill-opacity="0.55"/>
<circle cx="719" cy="202.2" r="2.1" fill="#a0b85a" fill-opacity="0.55"/>
<circle cx="726.5" cy="202.2" r="2.1" fill="#a0b85a" fill-opacity="0.55"/>
<circle cx="754.7" cy="195.8" r="2.1" fill="#a0b85a" fill-opacity="0.55"/>
<circle cx="762.2" cy="195.8" r="2.1" fill="#a0b85a" fill-opacity="0.55"/>
<circle cx="754.7" cy="202.2" r="2.1" fill="#a0b85a" fill-opacity="0.55"/>
<circle cx="762.2" cy="202.2" r="2.1" fill="#a0b85a" fill-opacity="0.55"/>
<circle cx="144.1" cy="217.7" r="2.1" fill="#a0b85a" fill-opacity="0.55"/>
<circle cx="151.8" cy="217.7" r="2.1" fill="#a0b85a" fill-opacity="0.55"/>
<circle cx="144.1" cy="224.3" r="2.1" fill="#a0b85a" fill-opacity="0.55"/>
<circle cx="151.8" cy="224.3" r="2.1" fill="#a0b85a" fill-opacity="0.55"/>
<circle cx="180.5" cy="217.7" r="2.1" fill="#a0b85a" fill-opacity="0.55"/>
<circle cx="188.2" cy="217.7" r="2.1" fill="#a0b85a" fill-opacity="0.55"/>
<circle cx="180.5" cy="224.2" r="2.1" fill="#a0b85a" fill-opacity="0.55"/>
<circle cx="188.2" cy="224.2" r="2.1" fill="#a0b85a" fill-opacity="0.55"/>
<circle cx="216.9" cy="217.5" r="2.1" fill="#a0b85a" fill-opacity="0.55"/>
<circle cx="224.6" cy="217.5" r="2.1" fill="#a0b85a" fill-opacity="0.55"/>
<circle cx="216.9" cy="224" r="2.1" fill="#a0b85a" fill-opacity="0.55"/>
<circle cx="224.6" cy="224" r="2.1" fill="#a0b85a" fill-opacity="0.55"/>
<circle cx="253.2" cy="216.6" r="2.1" fill="#a0b85a" fill-opacity="0.55"/>
<circle cx="261" cy="216.6" r="2.1" fill="#a0b85a" fill-opacity="0.55"/>
<circle cx="253.2" cy="223.2" r="2.1" fill="#a0b85a" fill-opacity="0.55"/>
<circle cx="261" cy="223.2" r="2.1" fill="#a0b85a" fill-opacity="0.55"/>
<circle cx="289.6" cy="214" r="2.1" fill="#a0b85a" fill-opacity="0.55"/>
<circle cx="297.3" cy="214" r="2.1" fill="#a0b85a" fill-opacity="0.55"/>
<circle cx="289.6" cy="220.6" r="2.1" fill="#a0b85a" fill-opacity="0.55"/>
<circle cx="297.3" cy="220.6" r="2.1" fill="#a0b85a" fill-opacity="0.55"/>
<circle cx="326" cy="208.6" r="2.1" fill="#a0b85a" fill-opacity="0.55"/>
<circle cx="333.7" cy="208.6" r="2.1" fill="#a0b85a" fill-opacity="0.55"/>
<circle cx="326" cy="215.1" r="2.1" fill="#a0b85a" fill-opacity="0.55"/>
<circle cx="333.7" cy="215.1" r="2.1" fill="#a0b85a" fill-opacity="0.55"/>
<circle cx="362.4" cy="200.7" r="2.1" fill="#a0b85a" fill-opacity="0.55"/>
<circle cx="370.1" cy="200.7" r="2.1" fill="#a0b85a" fill-opacity="0.55"/>
<circle cx="362.4" cy="207.2" r="2.1" fill="#a0b85a" fill-opacity="0.55"/>
<circle cx="370.1" cy="207.2" r="2.1" fill="#a0b85a" fill-opacity="0.55"/>
<circle cx="398.8" cy="194.1" r="2.1" fill="#a0b85a" fill-opacity="0.55"/>
<circle cx="406.5" cy="194.1" r="2.1" fill="#a0b85a" fill-opacity="0.55"/>
<circle cx="398.8" cy="200.6" r="2.1" fill="#a0b85a" fill-opacity="0.55"/>
<circle cx="406.5" cy="200.6" r="2.1" fill="#a0b85a" fill-opacity="0.55"/>
<circle cx="435.2" cy="193.3" r="2.1" fill="#a0b85a" fill-opacity="0.55"/>
<circle cx="442.9" cy="193.3" r="2.1" fill="#a0b85a" fill-opacity="0.55"/>
<circle cx="435.2" cy="199.8" r="2.1" fill="#a0b85a" fill-opacity="0.55"/>
<circle cx="442.9" cy="199.8" r="2.1" fill="#a0b85a" fill-opacity="0.55"/>
<circle cx="471.6" cy="198.9" r="2.1" fill="#a0b85a" fill-opacity="0.55"/>
<circle cx="479.3" cy="198.9" r="2.1" fill="#a0b85a" fill-opacity="0.55"/>
<circle cx="471.6" cy="205.4" r="2.1" fill="#a0b85a" fill-opacity="0.55"/>
<circle cx="479.3" cy="205.4" r="2.1" fill="#a0b85a" fill-opacity="0.55"/>
<circle cx="508" cy="206.9" r="2.1" fill="#a0b85a" fill-opacity="0.55"/>
<circle cx="515.7" cy="206.9" r="2.1" fill="#a0b85a" fill-opacity="0.55"/>
<circle cx="508" cy="213.4" r="2.1" fill="#a0b85a" fill-opacity="0.55"/>
<circle cx="515.7" cy="213.4" r="2.1" fill="#a0b85a" fill-opacity="0.55"/>
<circle cx="544.3" cy="213.1" r="2.1" fill="#a0b85a" fill-opacity="0.55"/>
<circle cx="552.1" cy="213.1" r="2.1" fill="#a0b85a" fill-opacity="0.55"/>
<circle cx="544.3" cy="219.6" r="2.1" fill="#a0b85a" fill-opacity="0.55"/>
<circle cx="552.1" cy="219.6" r="2.1" fill="#a0b85a" fill-opacity="0.55"/>
<circle cx="580.7" cy="216.2" r="2.1" fill="#a0b85a" fill-opacity="0.55"/>
<circle cx="588.4" cy="216.2" r="2.1" fill="#a0b85a" fill-opacity="0.55"/>
<circle cx="580.7" cy="222.8" r="2.1" fill="#a0b85a" fill-opacity="0.55"/>
<circle cx="588.4" cy="222.8" r="2.1" fill="#a0b85a" fill-opacity="0.55"/>
<circle cx="617.1" cy="217.4" r="2.1" fill="#a0b85a" fill-opacity="0.55"/>
<circle cx="624.8" cy="217.4" r="2.1" fill="#a0b85a" fill-opacity="0.55"/>
<circle cx="617.1" cy="223.9" r="2.1" fill="#a0b85a" fill-opacity="0.55"/>
<circle cx="624.8" cy="223.9" r="2.1" fill="#a0b85a" fill-opacity="0.55"/>
<circle cx="653.5" cy="217.7" r="2.1" fill="#a0b85a" fill-opacity="0.55"/>
<circle cx="661.2" cy="217.7" r="2.1" fill="#a0b85a" fill-opacity="0.55"/>
<circle cx="653.5" cy="224.2" r="2.1" fill="#a0b85a" fill-opacity="0.55"/>
<circle cx="661.2" cy="224.2" r="2.1" fill="#a0b85a" fill-opacity="0.55"/>
<circle cx="689.9" cy="217.7" r="2.1" fill="#a0b85a" fill-opacity="0.55"/>
<circle cx="697.6" cy="217.7" r="2.1" fill="#a0b85a" fill-opacity="0.55"/>
<circle cx="689.9" cy="224.3" r="2.1" fill="#a0b85a" fill-opacity="0.55"/>
<circle cx="697.6" cy="224.3" r="2.1" fill="#a0b85a" fill-opacity="0.55"/>
<circle cx="726.3" cy="217.7" r="2.1" fill="#a0b85a" fill-opacity="0.55"/>
<circle cx="734" cy="217.7" r="2.1" fill="#a0b85a" fill-opacity="0.55"/>
<circle cx="726.3" cy="224.3" r="2.1" fill="#a0b85a" fill-opacity="0.55"/>
<circle cx="734" cy="224.3" r="2.1" fill="#a0b85a" fill-opacity="0.55"/>
<circle cx="762.7" cy="217.7" r="2.1" fill="#a0b85a" fill-opacity="0.55"/>
<circle cx="770.4" cy="217.7" r="2.1" fill="#a0b85a" fill-opacity="0.55"/>
<circle cx="762.7" cy="224.3" r="2.1" fill="#a0b85a" fill-opacity="0.55"/>
<circle cx="770.4" cy="224.3" r="2.1" fill="#a0b85a" fill-opacity="0.55"/>
<circle cx="139" cy="244.6" r="2.2" fill="#a0b85a" fill-opacity="0.55"/>
<circle cx="146.9" cy="244.6" r="2.2" fill="#a0b85a" fill-opacity="0.55"/>
<circle cx="139" cy="251.4" r="2.2" fill="#a0b85a" fill-opacity="0.55"/>
<circle cx="146.9" cy="251.4" r="2.2" fill="#a0b85a" fill-opacity="0.55"/>
<circle cx="176.2" cy="244.6" r="2.2" fill="#a0b85a" fill-opacity="0.55"/>
<circle cx="184.1" cy="244.6" r="2.2" fill="#a0b85a" fill-opacity="0.55"/>
<circle cx="176.2" cy="251.3" r="2.2" fill="#a0b85a" fill-opacity="0.55"/>
<circle cx="184.1" cy="251.3" r="2.2" fill="#a0b85a" fill-opacity="0.55"/>
<circle cx="213.5" cy="244.4" r="2.2" fill="#a0b85a" fill-opacity="0.55"/>
<circle cx="221.4" cy="244.4" r="2.2" fill="#a0b85a" fill-opacity="0.55"/>
<circle cx="213.5" cy="251.1" r="2.2" fill="#a0b85a" fill-opacity="0.55"/>
<circle cx="221.4" cy="251.1" r="2.2" fill="#a0b85a" fill-opacity="0.55"/>
<circle cx="250.8" cy="243.6" r="2.2" fill="#a0b85a" fill-opacity="0.55"/>
<circle cx="258.7" cy="243.6" r="2.2" fill="#a0b85a" fill-opacity="0.55"/>
<circle cx="250.8" cy="250.4" r="2.2" fill="#a0b85a" fill-opacity="0.55"/>
<circle cx="258.7" cy="250.4" r="2.2" fill="#a0b85a" fill-opacity="0.55"/>
<circle cx="288" cy="241.1" r="2.2" fill="#a0b85a" fill-opacity="0.55"/>
<circle cx="295.9" cy="241.1" r="2.2" fill="#a0b85a" fill-opacity="0.55"/>
<circle cx="288" cy="247.8" r="2.2" fill="#a0b85a" fill-opacity="0.55"/>
<circle cx="295.9" cy="247.8" r="2.2" fill="#a0b85a" fill-opacity="0.55"/>
<circle cx="325.3" cy="235.6" r="2.2" fill="#a0b85a" fill-opacity="0.55"/>
<circle cx="333.2" cy="235.6" r="2.2" fill="#a0b85a" fill-opacity="0.55"/>
<circle cx="325.3" cy="242.3" r="2.2" fill="#a0b85a" fill-opacity="0.55"/>
<circle cx="333.2" cy="242.3" r="2.2" fill="#a0b85a" fill-opacity="0.55"/>
<circle cx="362.6" cy="227.5" r="2.2" fill="#a0b85a" fill-opacity="0.55"/>
<circle cx="370.5" cy="227.5" r="2.2" fill="#a0b85a" fill-opacity="0.55"/>
<circle cx="362.6" cy="234.2" r="2.2" fill="#a0b85a" fill-opacity="0.55"/>
<circle cx="370.5" cy="234.2" r="2.2" fill="#a0b85a" fill-opacity="0.55"/>
<circle cx="399.8" cy="220.9" r="2.2" fill="#a0b85a" fill-opacity="0.55"/>
<circle cx="407.7" cy="220.9" r="2.2" fill="#a0b85a" fill-opacity="0.55"/>
<circle cx="399.8" cy="227.6" r="2.2" fill="#a0b85a" fill-opacity="0.55"/>
<circle cx="407.7" cy="227.6" r="2.2" fill="#a0b85a" fill-opacity="0.55"/>
<circle cx="437.1" cy="220.3" r="2.2" fill="#a0b85a" fill-opacity="0.55"/>
<circle cx="445" cy="220.3" r="2.2" fill="#a0b85a" fill-opacity="0.55"/>
<circle cx="437.1" cy="227.1" r="2.2" fill="#a0b85a" fill-opacity="0.55"/>
<circle cx="445" cy="227.1" r="2.2" fill="#a0b85a" fill-opacity="0.55"/>
<circle cx="474.4" cy="226.4" r="2.2" fill="#a0b85a" fill-opacity="0.55"/>
<circle cx="482.3" cy="226.4" r="2.2" fill="#a0b85a" fill-opacity="0.55"/>
<circle cx="474.4" cy="233.1" r="2.2" fill="#a0b85a" fill-opacity="0.55"/>
<circle cx="482.3" cy="233.1" r="2.2" fill="#a0b85a" fill-opacity="0.55"/>
<circle cx="511.6" cy="234.6" r="2.2" fill="#a0b85a" fill-opacity="0.55"/>
<circle cx="519.5" cy="234.6" r="2.2" fill="#a0b85a" fill-opacity="0.55"/>
<circle cx="511.6" cy="241.3" r="2.2" fill="#a0b85a" fill-opacity="0.55"/>
<circle cx="519.5" cy="241.3" r="2.2" fill="#a0b85a" fill-opacity="0.55"/>
<circle cx="548.9" cy="240.6" r="2.2" fill="#a0b85a" fill-opacity="0.55"/>
<circle cx="556.8" cy="240.6" r="2.2" fill="#a0b85a" fill-opacity="0.55"/>
<circle cx="548.9" cy="247.3" r="2.2" fill="#a0b85a" fill-opacity="0.55"/>
<circle cx="556.8" cy="247.3" r="2.2" fill="#a0b85a" fill-opacity="0.55"/>
<circle cx="586.2" cy="243.4" r="2.2" fill="#a0b85a" fill-opacity="0.55"/>
<circle cx="594.1" cy="243.4" r="2.2" fill="#a0b85a" fill-opacity="0.55"/>
<circle cx="586.2" cy="250.1" r="2.2" fill="#a0b85a" fill-opacity="0.55"/>
<circle cx="594.1" cy="250.1" r="2.2" fill="#a0b85a" fill-opacity="0.55"/>
<circle cx="623.4" cy="244.4" r="2.2" fill="#a0b85a" fill-opacity="0.55"/>
<circle cx="631.4" cy="244.4" r="2.2" fill="#a0b85a" fill-opacity="0.55"/>
<circle cx="623.4" cy="251.1" r="2.2" fill="#a0b85a" fill-opacity="0.55"/>
<circle cx="631.4" cy="251.1" r="2.2" fill="#a0b85a" fill-opacity="0.55"/>
<circle cx="660.7" cy="244.6" r="2.2" fill="#a0b85a" fill-opacity="0.55"/>
<circle cx="668.6" cy="244.6" r="2.2" fill="#a0b85a" fill-opacity="0.55"/>
<circle cx="660.7" cy="251.3" r="2.2" fill="#a0b85a" fill-opacity="0.55"/>
<circle cx="668.6" cy="251.3" r="2.2" fill="#a0b85a" fill-opacity="0.55"/>
<circle cx="698" cy="244.6" r="2.2" fill="#a0b85a" fill-opacity="0.55"/>
<circle cx="705.9" cy="244.6" r="2.2" fill="#a0b85a" fill-opacity="0.55"/>
<circle cx="698" cy="251.4" r="2.2" fill="#a0b85a" fill-opacity="0.55"/>
<circle cx="705.9" cy="251.4" r="2.2" fill="#a0b85a" fill-opacity="0.55"/>
<circle cx="735.2" cy="244.6" r="2.2" fill="#a0b85a" fill-opacity="0.55"/>
<circle cx="743.2" cy="244.6" r="2.2" fill="#a0b85a" fill-opacity="0.55"/>
<circle cx="735.2" cy="251.4" r="2.2" fill="#a0b85a" fill-opacity="0.55"/>
<circle cx="743.2" cy="251.4" r="2.2" fill="#a0b85a" fill-opacity="0.55"/>
<circle cx="772.5" cy="244.6" r="2.2" fill="#a0b85a" fill-opacity="0.55"/>
<circle cx="780.4" cy="244.6" r="2.2" fill="#a0b85a" fill-opacity="0.55"/>
<circle cx="772.5" cy="251.4" r="2.2" fill="#a0b85a" fill-opacity="0.55"/>
<circle cx="780.4" cy="251.4" r="2.2" fill="#a0b85a" fill-opacity="0.55"/>
<circle cx="133.5" cy="273.5" r="2.2" fill="#a0b85a" fill-opacity="0.55"/>
<circle cx="141.6" cy="273.5" r="2.2" fill="#a0b85a" fill-opacity="0.55"/>
<circle cx="133.5" cy="280.4" r="2.2" fill="#a0b85a" fill-opacity="0.55"/>
<circle cx="141.6" cy="280.4" r="2.2" fill="#a0b85a" fill-opacity="0.55"/>
<circle cx="171.7" cy="273.5" r="2.2" fill="#a0b85a" fill-opacity="0.55"/>
<circle cx="179.8" cy="273.5" r="2.2" fill="#a0b85a" fill-opacity="0.55"/>
<circle cx="171.7" cy="280.4" r="2.2" fill="#a0b85a" fill-opacity="0.55"/>
<circle cx="179.8" cy="280.4" r="2.2" fill="#a0b85a" fill-opacity="0.55"/>
<circle cx="209.9" cy="273.4" r="2.2" fill="#a0b85a" fill-opacity="0.55"/>
<circle cx="218" cy="273.4" r="2.2" fill="#a0b85a" fill-opacity="0.55"/>
<circle cx="209.9" cy="280.3" r="2.2" fill="#a0b85a" fill-opacity="0.55"/>
<circle cx="218" cy="280.3" r="2.2" fill="#a0b85a" fill-opacity="0.55"/>
<circle cx="248.1" cy="272.6" r="2.2" fill="#a0b85a" fill-opacity="0.55"/>
<circle cx="256.2" cy="272.6" r="2.2" fill="#a0b85a" fill-opacity="0.55"/>
<circle cx="248.1" cy="279.5" r="2.2" fill="#a0b85a" fill-opacity="0.55"/>
<circle cx="256.2" cy="279.5" r="2.2" fill="#a0b85a" fill-opacity="0.55"/>
<circle cx="286.3" cy="270.2" r="2.2" fill="#a0b85a" fill-opacity="0.55"/>
<circle cx="294.4" cy="270.2" r="2.2" fill="#a0b85a" fill-opacity="0.55"/>
<circle cx="286.3" cy="277.1" r="2.2" fill="#a0b85a" fill-opacity="0.55"/>
<circle cx="294.4" cy="277.1" r="2.2" fill="#a0b85a" fill-opacity="0.55"/>
<circle cx="324.5" cy="264.6" r="2.2" fill="#a0b85a" fill-opacity="0.55"/>
<circle cx="332.7" cy="264.6" r="2.2" fill="#a0b85a" fill-opacity="0.55"/>
<circle cx="324.5" cy="271.5" r="2.2" fill="#a0b85a" fill-opacity="0.55"/>
<circle cx="332.7" cy="271.5" r="2.2" fill="#a0b85a" fill-opacity="0.55"/>
<circle cx="362.7" cy="256.4" r="2.2" fill="#a0b85a" fill-opacity="0.55"/>
<circle cx="370.9" cy="256.4" r="2.2" fill="#a0b85a" fill-opacity="0.55"/>
<circle cx="362.7" cy="263.3" r="2.2" fill="#a0b85a" fill-opacity="0.55"/>
<circle cx="370.9" cy="263.3" r="2.2" fill="#a0b85a" fill-opacity="0.55"/>
<circle cx="401" cy="249.6" r="2.2" fill="#a0b85a" fill-opacity="0.55"/>
<circle cx="409.1" cy="249.6" r="2.2" fill="#a0b85a" fill-opacity="0.55"/>
<circle cx="401" cy="256.5" r="2.2" fill="#a0b85a" fill-opacity="0.55"/>
<circle cx="409.1" cy="256.5" r="2.2" fill="#a0b85a" fill-opacity="0.55"/>
<circle cx="439.2" cy="249.5" r="2.2" fill="#a0b85a" fill-opacity="0.55"/>
<circle cx="447.3" cy="249.5" r="2.2" fill="#a0b85a" fill-opacity="0.55"/>
<circle cx="439.2" cy="256.4" r="2.2" fill="#a0b85a" fill-opacity="0.55"/>
<circle cx="447.3" cy="256.4" r="2.2" fill="#a0b85a" fill-opacity="0.55"/>
<circle cx="477.4" cy="256" r="2.2" fill="#a0b85a" fill-opacity="0.55"/>
<circle cx="485.5" cy="256" r="2.2" fill="#a0b85a" fill-opacity="0.55"/>
<circle cx="477.4" cy="262.9" r="2.2" fill="#a0b85a" fill-opacity="0.55"/>
<circle cx="485.5" cy="262.9" r="2.2" fill="#a0b85a" fill-opacity="0.55"/>
<circle cx="515.6" cy="264.3" r="2.2" fill="#a0b85a" fill-opacity="0.55"/>
<circle cx="523.7" cy="264.3" r="2.2" fill="#a0b85a" fill-opacity="0.55"/>
<circle cx="515.6" cy="271.2" r="2.2" fill="#a0b85a" fill-opacity="0.55"/>
<circle cx="523.7" cy="271.2" r="2.2" fill="#a0b85a" fill-opacity="0.55"/>
<circle cx="553.8" cy="270" r="2.2" fill="#a0b85a" fill-opacity="0.55"/>
<circle cx="561.9" cy="270" r="2.2" fill="#a0b85a" fill-opacity="0.55"/>
<circle cx="553.8" cy="276.9" r="2.2" fill="#a0b85a" fill-opacity="0.55"/>
<circle cx="561.9" cy="276.9" r="2.2" fill="#a0b85a" fill-opacity="0.55"/>
<circle cx="592" cy="272.6" r="2.2" fill="#a0b85a" fill-opacity="0.55"/>
<circle cx="600.1" cy="272.6" r="2.2" fill="#a0b85a" fill-opacity="0.55"/>
<circle cx="592" cy="279.5" r="2.2" fill="#a0b85a" fill-opacity="0.55"/>
<circle cx="600.1" cy="279.5" r="2.2" fill="#a0b85a" fill-opacity="0.55"/>
<circle cx="630.2" cy="273.4" r="2.2" fill="#a0b85a" fill-opacity="0.55"/>
<circle cx="638.4" cy="273.4" r="2.2" fill="#a0b85a" fill-opacity="0.55"/>
<circle cx="630.2" cy="280.3" r="2.2" fill="#a0b85a" fill-opacity="0.55"/>
<circle cx="638.4" cy="280.3" r="2.2" fill="#a0b85a" fill-opacity="0.55"/>
<circle cx="668.4" cy="273.5" r="2.2" fill="#a0b85a" fill-opacity="0.55"/>
<circle cx="676.6" cy="273.5" r="2.2" fill="#a0b85a" fill-opacity="0.55"/>
<circle cx="668.4" cy="280.4" r="2.2" fill="#a0b85a" fill-opacity="0.55"/>
<circle cx="676.6" cy="280.4" r="2.2" fill="#a0b85a" fill-opacity="0.55"/>
<circle cx="706.7" cy="273.5" r="2.2" fill="#a0b85a" fill-opacity="0.55"/>
<circle cx="714.8" cy="273.5" r="2.2" fill="#a0b85a" fill-opacity="0.55"/>
<circle cx="706.7" cy="280.4" r="2.2" fill="#a0b85a" fill-opacity="0.55"/>
<circle cx="714.8" cy="280.4" r="2.2" fill="#a0b85a" fill-opacity="0.55"/>
<circle cx="744.9" cy="273.6" r="2.2" fill="#a0b85a" fill-opacity="0.55"/>
<circle cx="753" cy="273.6" r="2.2" fill="#a0b85a" fill-opacity="0.55"/>
<circle cx="744.9" cy="280.4" r="2.2" fill="#a0b85a" fill-opacity="0.55"/>
<circle cx="753" cy="280.4" r="2.2" fill="#a0b85a" fill-opacity="0.55"/>
<circle cx="783.1" cy="273.6" r="2.2" fill="#a0b85a" fill-opacity="0.55"/>
<circle cx="791.2" cy="273.6" r="2.2" fill="#a0b85a" fill-opacity="0.55"/>
<circle cx="783.1" cy="280.4" r="2.2" fill="#a0b85a" fill-opacity="0.55"/>
<circle cx="791.2" cy="280.4" r="2.2" fill="#a0b85a" fill-opacity="0.55"/>
<circle cx="127.8" cy="303.5" r="2.3" fill="#a0b85a" fill-opacity="0.55"/>
<circle cx="136.1" cy="303.5" r="2.3" fill="#a0b85a" fill-opacity="0.55"/>
<circle cx="127.8" cy="310.5" r="2.3" fill="#a0b85a" fill-opacity="0.55"/>
<circle cx="136.1" cy="310.5" r="2.3" fill="#a0b85a" fill-opacity="0.55"/>
<circle cx="167" cy="303.4" r="2.3" fill="#a0b85a" fill-opacity="0.55"/>
<circle cx="175.3" cy="303.4" r="2.3" fill="#a0b85a" fill-opacity="0.55"/>
<circle cx="167" cy="310.5" r="2.3" fill="#a0b85a" fill-opacity="0.55"/>
<circle cx="175.3" cy="310.5" r="2.3" fill="#a0b85a" fill-opacity="0.55"/>
<circle cx="206.2" cy="303.3" r="2.3" fill="#a0b85a" fill-opacity="0.55"/>
<circle cx="214.5" cy="303.3" r="2.3" fill="#a0b85a" fill-opacity="0.55"/>
<circle cx="206.2" cy="310.4" r="2.3" fill="#a0b85a" fill-opacity="0.55"/>
<circle cx="214.5" cy="310.4" r="2.3" fill="#a0b85a" fill-opacity="0.55"/>
<circle cx="245.4" cy="302.6" r="2.3" fill="#a0b85a" fill-opacity="0.55"/>
<circle cx="253.7" cy="302.6" r="2.3" fill="#a0b85a" fill-opacity="0.55"/>
<circle cx="245.4" cy="309.7" r="2.3" fill="#a0b85a" fill-opacity="0.55"/>
<circle cx="253.7" cy="309.7" r="2.3" fill="#a0b85a" fill-opacity="0.55"/>
<circle cx="284.5" cy="300.3" r="2.3" fill="#a0b85a" fill-opacity="0.55"/>
<circle cx="292.9" cy="300.3" r="2.3" fill="#a0b85a" fill-opacity="0.55"/>
<circle cx="284.5" cy="307.3" r="2.3" fill="#a0b85a" fill-opacity="0.55"/>
<circle cx="292.9" cy="307.3" r="2.3" fill="#a0b85a" fill-opacity="0.55"/>
<circle cx="323.7" cy="294.7" r="2.3" fill="#a0b85a" fill-opacity="0.55"/>
<circle cx="332.1" cy="294.7" r="2.3" fill="#a0b85a" fill-opacity="0.55"/>
<circle cx="323.7" cy="301.7" r="2.3" fill="#a0b85a" fill-opacity="0.55"/>
<circle cx="332.1" cy="301.7" r="2.3" fill="#a0b85a" fill-opacity="0.55"/>
<circle cx="362.9" cy="286.2" r="2.3" fill="#a0b85a" fill-opacity="0.55"/>
<circle cx="371.3" cy="286.2" r="2.3" fill="#a0b85a" fill-opacity="0.55"/>
<circle cx="362.9" cy="293.3" r="2.3" fill="#a0b85a" fill-opacity="0.55"/>
<circle cx="371.3" cy="293.3" r="2.3" fill="#a0b85a" fill-opacity="0.55"/>
<circle cx="402.1" cy="279.4" r="2.3" fill="#a0b85a" fill-opacity="0.55"/>
<circle cx="410.5" cy="279.4" r="2.3" fill="#a0b85a" fill-opacity="0.55"/>
<circle cx="402.1" cy="286.5" r="2.3" fill="#a0b85a" fill-opacity="0.55"/>
<circle cx="410.5" cy="286.5" r="2.3" fill="#a0b85a" fill-opacity="0.55"/>
<circle cx="441.3" cy="279.6" r="2.3" fill="#a0b85a" fill-opacity="0.55"/>
<circle cx="449.7" cy="279.6" r="2.3" fill="#a0b85a" fill-opacity="0.55"/>
<circle cx="441.3" cy="286.7" r="2.3" fill="#a0b85a" fill-opacity="0.55"/>
<circle cx="449.7" cy="286.7" r="2.3" fill="#a0b85a" fill-opacity="0.55"/>
<circle cx="480.5" cy="286.6" r="2.3" fill="#a0b85a" fill-opacity="0.55"/>
<circle cx="488.8" cy="286.6" r="2.3" fill="#a0b85a" fill-opacity="0.55"/>
<circle cx="480.5" cy="293.7" r="2.3" fill="#a0b85a" fill-opacity="0.55"/>
<circle cx="488.8" cy="293.7" r="2.3" fill="#a0b85a" fill-opacity="0.55"/>
<circle cx="519.7" cy="295" r="2.3" fill="#a0b85a" fill-opacity="0.55"/>
<circle cx="528" cy="295" r="2.3" fill="#a0b85a" fill-opacity="0.55"/>
<circle cx="519.7" cy="302.1" r="2.3" fill="#a0b85a" fill-opacity="0.55"/>
<circle cx="528" cy="302.1" r="2.3" fill="#a0b85a" fill-opacity="0.55"/>
<circle cx="558.9" cy="300.4" r="2.3" fill="#a0b85a" fill-opacity="0.55"/>
<circle cx="567.2" cy="300.4" r="2.3" fill="#a0b85a" fill-opacity="0.55"/>
<circle cx="558.9" cy="307.5" r="2.3" fill="#a0b85a" fill-opacity="0.55"/>
<circle cx="567.2" cy="307.5" r="2.3" fill="#a0b85a" fill-opacity="0.55"/>
<circle cx="598.1" cy="302.7" r="2.3" fill="#a0b85a" fill-opacity="0.55"/>
<circle cx="606.4" cy="302.7" r="2.3" fill="#a0b85a" fill-opacity="0.55"/>
<circle cx="598.1" cy="309.8" r="2.3" fill="#a0b85a" fill-opacity="0.55"/>
<circle cx="606.4" cy="309.8" r="2.3" fill="#a0b85a" fill-opacity="0.55"/>
<circle cx="637.3" cy="303.3" r="2.3" fill="#a0b85a" fill-opacity="0.55"/>
<circle cx="645.6" cy="303.3" r="2.3" fill="#a0b85a" fill-opacity="0.55"/>
<circle cx="637.3" cy="310.4" r="2.3" fill="#a0b85a" fill-opacity="0.55"/>
<circle cx="645.6" cy="310.4" r="2.3" fill="#a0b85a" fill-opacity="0.55"/>
<circle cx="676.4" cy="303.4" r="2.3" fill="#a0b85a" fill-opacity="0.55"/>
<circle cx="684.8" cy="303.4" r="2.3" fill="#a0b85a" fill-opacity="0.55"/>
<circle cx="676.4" cy="310.5" r="2.3" fill="#a0b85a" fill-opacity="0.55"/>
<circle cx="684.8" cy="310.5" r="2.3" fill="#a0b85a" fill-opacity="0.55"/>
<circle cx="715.6" cy="303.5" r="2.3" fill="#a0b85a" fill-opacity="0.55"/>
<circle cx="724" cy="303.5" r="2.3" fill="#a0b85a" fill-opacity="0.55"/>
<circle cx="715.6" cy="310.5" r="2.3" fill="#a0b85a" fill-opacity="0.55"/>
<circle cx="724" cy="310.5" r="2.3" fill="#a0b85a" fill-opacity="0.55"/>
<circle cx="754.8" cy="303.5" r="2.3" fill="#a0b85a" fill-opacity="0.55"/>
<circle cx="763.2" cy="303.5" r="2.3" fill="#a0b85a" fill-opacity="0.55"/>
<circle cx="754.8" cy="310.5" r="2.3" fill="#a0b85a" fill-opacity="0.55"/>
<circle cx="763.2" cy="310.5" r="2.3" fill="#a0b85a" fill-opacity="0.55"/>
<circle cx="794" cy="303.5" r="2.3" fill="#a0b85a" fill-opacity="0.55"/>
<circle cx="802.4" cy="303.5" r="2.3" fill="#a0b85a" fill-opacity="0.55"/>
<circle cx="794" cy="310.5" r="2.3" fill="#a0b85a" fill-opacity="0.55"/>
<circle cx="802.4" cy="310.5" r="2.3" fill="#a0b85a" fill-opacity="0.55"/>
<circle cx="121.9" cy="334.4" r="2.3" fill="#a0b85a" fill-opacity="0.55"/>
<circle cx="130.5" cy="334.4" r="2.3" fill="#a0b85a" fill-opacity="0.55"/>
<circle cx="121.9" cy="341.6" r="2.3" fill="#a0b85a" fill-opacity="0.55"/>
<circle cx="130.5" cy="341.6" r="2.3" fill="#a0b85a" fill-opacity="0.55"/>
<circle cx="162.1" cy="334.3" r="2.3" fill="#a0b85a" fill-opacity="0.55"/>
<circle cx="170.7" cy="334.3" r="2.3" fill="#a0b85a" fill-opacity="0.55"/>
<circle cx="162.1" cy="341.6" r="2.3" fill="#a0b85a" fill-opacity="0.55"/>
<circle cx="170.7" cy="341.6" r="2.3" fill="#a0b85a" fill-opacity="0.55"/>
<circle cx="202.3" cy="334.2" r="2.3" fill="#a0b85a" fill-opacity="0.55"/>
<circle cx="210.9" cy="334.2" r="2.3" fill="#a0b85a" fill-opacity="0.55"/>
<circle cx="202.3" cy="341.5" r="2.3" fill="#a0b85a" fill-opacity="0.55"/>
<circle cx="210.9" cy="341.5" r="2.3" fill="#a0b85a" fill-opacity="0.55"/>
<circle cx="242.5" cy="333.6" r="2.3" fill="#a0b85a" fill-opacity="0.55"/>
<circle cx="251.1" cy="333.6" r="2.3" fill="#a0b85a" fill-opacity="0.55"/>
<circle cx="242.5" cy="340.9" r="2.3" fill="#a0b85a" fill-opacity="0.55"/>
<circle cx="251.1" cy="340.9" r="2.3" fill="#a0b85a" fill-opacity="0.55"/>
<circle cx="282.7" cy="331.3" r="2.3" fill="#a0b85a" fill-opacity="0.55"/>
<circle cx="291.3" cy="331.3" r="2.3" fill="#a0b85a" fill-opacity="0.55"/>
<circle cx="282.7" cy="338.6" r="2.3" fill="#a0b85a" fill-opacity="0.55"/>
<circle cx="291.3" cy="338.6" r="2.3" fill="#a0b85a" fill-opacity="0.55"/>
<circle cx="322.9" cy="325.7" r="2.3" fill="#a0b85a" fill-opacity="0.55"/>
<circle cx="331.5" cy="325.7" r="2.3" fill="#a0b85a" fill-opacity="0.55"/>
<circle cx="322.9" cy="333" r="2.3" fill="#a0b85a" fill-opacity="0.55"/>
<circle cx="331.5" cy="333" r="2.3" fill="#a0b85a" fill-opacity="0.55"/>
<circle cx="363.1" cy="317.1" r="2.3" fill="#a0b85a" fill-opacity="0.55"/>
<circle cx="371.7" cy="317.1" r="2.3" fill="#a0b85a" fill-opacity="0.55"/>
<circle cx="363.1" cy="324.3" r="2.3" fill="#a0b85a" fill-opacity="0.55"/>
<circle cx="371.7" cy="324.3" r="2.3" fill="#a0b85a" fill-opacity="0.55"/>
<circle cx="403.3" cy="310.2" r="2.3" fill="#a0b85a" fill-opacity="0.55"/>
<circle cx="411.9" cy="310.2" r="2.3" fill="#a0b85a" fill-opacity="0.55"/>
<circle cx="403.3" cy="317.5" r="2.3" fill="#a0b85a" fill-opacity="0.55"/>
<circle cx="411.9" cy="317.5" r="2.3" fill="#a0b85a" fill-opacity="0.55"/>
<circle cx="443.5" cy="310.8" r="2.3" fill="#a0b85a" fill-opacity="0.55"/>
<circle cx="452.1" cy="310.8" r="2.3" fill="#a0b85a" fill-opacity="0.55"/>
<circle cx="443.5" cy="318" r="2.3" fill="#a0b85a" fill-opacity="0.55"/>
<circle cx="452.1" cy="318" r="2.3" fill="#a0b85a" fill-opacity="0.55"/>
<circle cx="483.7" cy="318.3" r="2.3" fill="#a0b85a" fill-opacity="0.55"/>
<circle cx="492.3" cy="318.3" r="2.3" fill="#a0b85a" fill-opacity="0.55"/>
<circle cx="483.7" cy="325.5" r="2.3" fill="#a0b85a" fill-opacity="0.55"/>
<circle cx="492.3" cy="325.5" r="2.3" fill="#a0b85a" fill-opacity="0.55"/>
<circle cx="523.9" cy="326.7" r="2.3" fill="#a0b85a" fill-opacity="0.55"/>
<circle cx="532.5" cy="326.7" r="2.3" fill="#a0b85a" fill-opacity="0.55"/>
<circle cx="523.9" cy="334" r="2.3" fill="#a0b85a" fill-opacity="0.55"/>
<circle cx="532.5" cy="334" r="2.3" fill="#a0b85a" fill-opacity="0.55"/>
<circle cx="564.1" cy="331.8" r="2.3" fill="#a0b85a" fill-opacity="0.55"/>
<circle cx="572.7" cy="331.8" r="2.3" fill="#a0b85a" fill-opacity="0.55"/>
<circle cx="564.1" cy="339.1" r="2.3" fill="#a0b85a" fill-opacity="0.55"/>
<circle cx="572.7" cy="339.1" r="2.3" fill="#a0b85a" fill-opacity="0.55"/>
<circle cx="604.3" cy="333.8" r="2.3" fill="#a0b85a" fill-opacity="0.55"/>
<circle cx="612.9" cy="333.8" r="2.3" fill="#a0b85a" fill-opacity="0.55"/>
<circle cx="604.3" cy="341" r="2.3" fill="#a0b85a" fill-opacity="0.55"/>
<circle cx="612.9" cy="341" r="2.3" fill="#a0b85a" fill-opacity="0.55"/>
<circle cx="644.5" cy="334.3" r="2.3" fill="#a0b85a" fill-opacity="0.55"/>
<circle cx="653.1" cy="334.3" r="2.3" fill="#a0b85a" fill-opacity="0.55"/>
<circle cx="644.5" cy="341.5" r="2.3" fill="#a0b85a" fill-opacity="0.55"/>
<circle cx="653.1" cy="341.5" r="2.3" fill="#a0b85a" fill-opacity="0.55"/>
<circle cx="684.7" cy="334.3" r="2.3" fill="#a0b85a" fill-opacity="0.55"/>
<circle cx="693.3" cy="334.3" r="2.3" fill="#a0b85a" fill-opacity="0.55"/>
<circle cx="684.7" cy="341.6" r="2.3" fill="#a0b85a" fill-opacity="0.55"/>
<circle cx="693.3" cy="341.6" r="2.3" fill="#a0b85a" fill-opacity="0.55"/>
<circle cx="724.9" cy="334.4" r="2.3" fill="#a0b85a" fill-opacity="0.55"/>
<circle cx="733.5" cy="334.4" r="2.3" fill="#a0b85a" fill-opacity="0.55"/>
<circle cx="724.9" cy="341.6" r="2.3" fill="#a0b85a" fill-opacity="0.55"/>
<circle cx="733.5" cy="341.6" r="2.3" fill="#a0b85a" fill-opacity="0.55"/>
<circle cx="765.1" cy="334.4" r="2.3" fill="#a0b85a" fill-opacity="0.55"/>
<circle cx="773.7" cy="334.4" r="2.3" fill="#a0b85a" fill-opacity="0.55"/>
<circle cx="765.1" cy="341.6" r="2.3" fill="#a0b85a" fill-opacity="0.55"/>
<circle cx="773.7" cy="341.6" r="2.3" fill="#a0b85a" fill-opacity="0.55"/>
<circle cx="805.3" cy="334.4" r="2.3" fill="#a0b85a" fill-opacity="0.55"/>
<circle cx="813.9" cy="334.4" r="2.3" fill="#a0b85a" fill-opacity="0.55"/>
<circle cx="805.3" cy="341.6" r="2.3" fill="#a0b85a" fill-opacity="0.55"/>
<circle cx="813.9" cy="341.6" r="2.3" fill="#a0b85a" fill-opacity="0.55"/>
</g>
<path d="M100.3,352.7 L111.2,352.7 L122,352.7 L132.9,352.7 L143.7,352.7 L154.6,352.7 L165.4,352.7 L176.3,352.7 L187.2,352.7 L198,352.6 L208.9,352.6 L219.7,352.5 L230.6,352.3 L241.4,352.1 L252.3,351.8 L263.2,351.3 L274,350.7 L284.9,349.9 L295.7,348.8 L306.6,347.4 L317.4,345.8 L328.3,343.8 L339.1,341.7 L350,339.3 L360.9,336.9 L371.7,334.4 L382.6,332.2 L393.4,330.3 L404.3,328.9 L415.1,328 L426,327.7 L436.9,328.1 L447.7,329.1 L458.6,330.6 L469.4,332.6 L480.3,334.9 L491.1,337.3 L502,339.7 L512.9,342.1 L523.7,344.2 L534.6,346.1 L545.4,347.7 L556.3,349 L567.1,350 L578,350.8 L588.9,351.4 L599.7,351.9 L610.6,352.1 L621.4,352.4 L632.3,352.5 L643.1,352.6 L654,352.6 L664.8,352.7 L675.7,352.7 L686.6,352.7 L697.4,352.7 L708.3,352.7 L719.1,352.7 L730,352.7 L740.8,352.7 L751.7,352.7 L749,375.5 L738.3,375.5 L727.7,375.5 L717,375.5 L706.4,375.5 L695.7,375.5 L685,375.5 L674.4,375.5 L663.7,375.5 L653,375.4 L642.4,375.4 L631.7,375.3 L621.1,375.2 L610.4,375 L599.7,374.7 L589.1,374.3 L578.4,373.7 L567.8,373 L557.1,372 L546.4,370.8 L535.8,369.3 L525.1,367.6 L514.4,365.6 L503.8,363.4 L493.1,361.1 L482.5,358.9 L471.8,356.7 L461.1,354.7 L450.5,353.2 L439.8,352.1 L429.1,351.5 L418.5,351.6 L407.8,352.3 L397.2,353.5 L386.5,355.1 L375.8,357.1 L365.2,359.4 L354.5,361.7 L343.9,363.9 L333.2,366.1 L322.5,368 L311.9,369.7 L301.2,371.1 L290.5,372.3 L279.9,373.2 L269.2,373.9 L258.6,374.4 L247.9,374.8 L237.2,375 L226.6,375.2 L215.9,375.3 L205.3,375.4 L194.6,375.4 L183.9,375.5 L173.3,375.5 L162.6,375.5 L151.9,375.5 L141.3,375.5 L130.6,375.5 L120,375.5 L109.3,375.5Z" fill="#f6f41c"/>
<path d="M100.3,353.5 L111.2,353.5 L122,353.5 L132.9,353.5 L143.7,353.5 L154.6,353.5 L165.4,353.5 L176.3,353.5 L187.2,353.5 L198,353.4 L208.9,353.4 L219.7,353.3 L230.6,353.1 L241.4,352.9 L252.3,352.6 L263.2,352.1 L274,351.5 L284.9,350.7 L295.7,349.6 L306.6,348.2 L317.4,346.6 L328.3,344.6 L339.1,342.5 L350,340.1 L360.9,337.7 L371.7,335.2 L382.6,333 L393.4,331.1 L404.3,329.7 L415.1,328.8 L426,328.5 L436.9,328.9 L447.7,329.9 L458.6,331.4 L469.4,333.4 L480.3,335.7 L491.1,338.1 L502,340.5 L512.9,342.9 L523.7,345 L534.6,346.9 L545.4,348.5 L556.3,349.8 L567.1,350.8 L578,351.6 L588.9,352.2 L599.7,352.7 L610.6,352.9 L621.4,353.2 L632.3,353.3 L643.1,353.4 L654,353.4 L664.8,353.5 L675.7,353.5 L686.6,353.5 L697.4,353.5 L708.3,353.5 L719.1,353.5 L730,353.5 L740.8,353.5 L751.7,353.5" stroke="#b8e040" stroke-width="2" fill="none"/>
<path d="M179.8,45 L188.1,45 L196.3,44.9 L204.6,44.9 L212.8,44.8 L221.1,44.8 L229.3,44.6 L237.6,44.5 L245.8,44.3 L254.1,44 L262.3,43.7 L270.6,43.2 L278.8,42.7 L287.1,42 L295.3,41.1 L303.6,40.1 L311.9,38.9 L320.1,37.6 L328.4,36.1 L336.6,34.5 L344.9,32.7 L353.1,30.9 L361.4,29 L369.6,27.2 L377.9,25.5 L386.1,23.9 L394.4,22.5 L402.6,21.3 L410.9,20.5 L419.1,20.1 L427.4,20 L435.7,20.3 L443.9,21 L452.2,22 L460.4,23.2 L468.7,24.8 L476.9,26.5 L485.2,28.3 L493.4,30.1 L501.7,32 L509.9,33.8 L518.2,35.4 L526.4,37 L534.7,38.4 L542.9,39.6 L551.2,40.7 L559.5,41.6 L567.7,42.4 L576,43 L584.2,43.5 L592.5,43.9 L600.7,44.2 L609,44.4 L617.2,44.6 L625.5,44.7 L633.7,44.8 L642,44.9 L650.2,44.9 L658.5,44.9 L666.7,45 L675,45 L751.7,353.7" stroke="#8fe0d8" stroke-width="2" fill="none"/>
<path d="M179.8,45.3 L100.3,352.7" stroke="#6fb8d0" stroke-width="1.2" fill="none"/>
<g stroke="#f08424" stroke-width="3.4" fill="none" stroke-dasharray="7 9">
<path d="M428.6,46.5 L927,52.5"/>
<path d="M428.6,46.5 L424.4,68.4 L459,67.2 L461.5,46.5"/>
<path d="M463,66 L912,370"/>
</g>
<polygon points="805.7,156.5 1040.3,156.5 1044.6,296.2 921.3,370.8 830.8,297.2" fill="#a9a271" />
<polygon points="830.8,297.2 921.3,370.8 1044.6,296.2 957,248 872,262" fill="#bdb97f" />
<polygon points="957,150 1040.3,150 1044.6,296.2 957,248" fill="#b2ab76" />
<linearGradient id="c1a" x1="0" y1="0" x2="1" y2="0"><stop offset="0" stop-color="#6f9a88"/><stop offset="0.5" stop-color="#8ab8a0"/><stop offset="1" stop-color="#7aa690"/></linearGradient>
<linearGradient id="c1b" x1="0" y1="0" x2="1" y2="0"><stop offset="0" stop-color="#98a878"/><stop offset="0.45" stop-color="#b8c890"/><stop offset="1" stop-color="#a6b482"/></linearGradient>
<linearGradient id="c1c" x1="0" y1="0" x2="1" y2="0"><stop offset="0" stop-color="#a8ae80"/><stop offset="0.5" stop-color="#bcc490"/><stop offset="1" stop-color="#a8ae80"/></linearGradient>
<path d="M937,200 L958,200 L957,262 A9,4.5 0 0 1 939,262 Z" fill="url(#c1c)"/>
<path d="M852.7,170 L887.5,170 L897.5,299 A13.9,4.5 0 0 1 869.6,299 Z" fill="url(#c1a)"/>
<path d="M970,170 L999,170 L1004.9,299 A14.9,4.5 0 0 1 975,299 Z" fill="url(#c1b)"/>
<path d="M902,200 L936.2,200 L944.2,333 A13.5,4.5 0 0 1 917.3,333 Z" fill="url(#c1b)"/>
<polygon points="796.6,108.1 901.1,170.1 904.1,218.6 805.7,158.5" fill="#4b7d74" />
<polygon points="901.1,170.1 1038.8,108.1 1041.6,156.5 904.1,218.6" fill="#70b3a9" />
<polygon points="796.6,108.1 931.3,53.6 1038.8,108.1 901.1,170.1" fill="#8edbcf" />
<linearGradient id="tc" x1="0" y1="0" x2="1" y2="0"><stop offset="0" stop-color="#2a4a46"/><stop offset="0.07" stop-color="#5f968d"/><stop offset="0.2" stop-color="#76b4a9"/><stop offset="0.5" stop-color="#84c3b7"/><stop offset="1" stop-color="#6aa89e"/></linearGradient>
<path d="M1224.3,195 L1244.2,195 L1237.3,274.5 A9.5,3.5 0 0 1 1218.3,274.5 Z" fill="url(#tc)"/>
<path d="M1294,180 L1327,180 L1313.5,308 A16,5 0 0 1 1281.4,308 Z" fill="url(#tc)"/>
<path d="M1174.1,170 L1206.2,170 L1201,305 A15.6,5 0 0 1 1169.8,305 Z" fill="url(#tc)"/>
<path d="M1249,205 L1278,205 L1265,346.5 A15.1,5 0 0 1 1234.7,346.5 Z" fill="url(#tc)"/>
<polygon points="1132.8,105 1283,174.5 1278.6,226.1 1131.5,157" fill="#4a7b72" />
<polygon points="1283,174.5 1393.7,105.2 1383.3,157.5 1278.6,226.1" fill="#70b2a8" />
<polygon points="1132.8,105 1249.5,48.5 1393.7,105.2 1283,174.5" fill="#8edbcf" />
<line x1="1134" y1="105.5" x2="1284" y2="168.4" stroke="#ffffff" stroke-width="3"/><polygon points="1134,105.5 1148.5,104.5 1143.5,116.5" fill="#ffffff" /><polygon points="1284,168.4 1269.5,169.4 1274.5,157.4" fill="#ffffff" /><line x1="1130.5" y1="113.8" x2="1137.5" y2="97.2" stroke="#ffffff" stroke-width="2.5"/><line x1="1280.5" y1="176.7" x2="1287.5" y2="160.1" stroke="#ffffff" stroke-width="2.5"/>
<line x1="1334.2" y1="194.7" x2="1313.5" y2="309.8" stroke="#ffffff" stroke-width="3"/><polygon points="1334.2,194.7 1339.2,211.9 1323.5,209" fill="#ffffff" /><polygon points="1313.5,309.8 1308.5,292.6 1324.2,295.5" fill="#ffffff" />
<line x1="1168" y1="308" x2="1246" y2="341" stroke="#ffffff" stroke-width="3"/><polygon points="1168,308 1182.5,307.1 1177.4,319.1" fill="#ffffff" /><polygon points="1246,341 1231.5,341.9 1236.6,329.9" fill="#ffffff" /><line x1="1164.5" y1="316.3" x2="1171.5" y2="299.7" stroke="#ffffff" stroke-width="2.5"/><line x1="1242.5" y1="349.3" x2="1249.5" y2="332.7" stroke="#ffffff" stroke-width="2.5"/>
<line x1="1147.3" y1="212" x2="1165" y2="223.5" stroke="#fff" stroke-width="3"/>
<polygon points="1169,225.9 1156.5,225 1163,214.9" fill="#ffffff" />
<line x1="1169.8" y1="216" x2="1169.8" y2="231" stroke="#fff" stroke-width="2.5"/>
<line x1="1232.1" y1="252.7" x2="1207" y2="241.5" stroke="#fff" stroke-width="3"/>
<polygon points="1202.7,239.7 1215.2,238.7 1210.3,249.6" fill="#ffffff" />
<line x1="1203.6" y1="233.7" x2="1203.6" y2="246.5" stroke="#fff" stroke-width="2.5"/>
<g stroke="#fff" stroke-width="3.4" fill="none">
<path d="M35.3,418.4 L35.3,360 M35.3,418.4 L104,418.4 M37,418.4 L52.5,342"/>
</g>
<polygon points="35.3,344.4 27,361 43.6,361" fill="#fff" />
<polygon points="118.3,419.5 102.5,410.8 102.5,428.1" fill="#fff" />
<polygon points="56,328.4 59.9,346.6 45.2,343.5" fill="#ffffff" />
<line x1="222" y1="385.5" x2="632" y2="385.5" stroke="#fff" stroke-width="3.2"/>
<line x1="220.6" y1="377" x2="220.6" y2="395.5" stroke="#fff" stroke-width="3"/>
<line x1="632.6" y1="376" x2="632.6" y2="394.5" stroke="#fff" stroke-width="3"/>
<polygon points="222,385.5 235.5,378 235.5,393" fill="#fff" />
<polygon points="631,385.5 617.5,378 617.5,393" fill="#fff" />
<line x1="426.3" y1="360" x2="426.3" y2="377" stroke="#fff" stroke-width="2.4"/>
<polygon points="426.3,354.5 422,363 430.6,363" fill="#fff" />
<polygon points="426.3,382.5 422,374 430.6,374" fill="#fff" />
<text transform="translate(11.73,49.62) scale(0.9499,1)" font-size="57.8" fill="#fff" >a</text>
<text transform="translate(8.55,361.7) scale(1.05,1)" font-size="32.64" fill="#fff" >z</text>
<text transform="translate(48.93,315.96)" font-size="33.88" fill="#fff" >y</text>
<text transform="translate(122.01,431.6) scale(0.9908,1)" font-size="32.64" fill="#fff" >x</text>
<text transform="translate(434.17,378.9) scale(0.9717,1)" font-size="31.24" fill="#fff" >H</text>
<text transform="translate(414.74,418.7) scale(0.9829,1)" font-size="36.35" fill="#fff" >L</text>
<text transform="translate(1238.03,121.0)" font-size="33.1" fill="#000" letter-spacing="2.89" >Air</text>
<text transform="translate(1181.74,166.64) scale(0.9884,1)" font-size="46.42" fill="#fff" >a</text>
<text transform="translate(1151.0,266.89) rotate(18)" font-size="46.38" fill="#fff" >2</text>
<text transform="translate(1178.12,275.71) rotate(18)" font-size="42.37" fill="#fff" >r</text>
<text transform="translate(1327.09,269.49) rotate(9)" font-size="44.43" fill="#fff" >h</text>
<text transform="translate(1174.39,359.74) rotate(20)" font-size="43.9" fill="#fff" >d</text>
<svg x="0" y="0" width="1424" height="1156" overflow="visible"><g>
<clipPath id="plotclip"><rect x="159" y="531.5" width="714.5" height="574"/></clipPath>
<g clip-path="url(#plotclip)">
<g fill="#000"><circle cx="159.5" cy="647.8" r="6.3"/><circle cx="171.9" cy="647.8" r="6.3"/><circle cx="184.3" cy="647.8" r="6.3"/><circle cx="196.7" cy="647.8" r="6.3"/><circle cx="209.1" cy="647.8" r="6.3"/><circle cx="221.6" cy="647.9" r="6.3"/><circle cx="234" cy="647.9" r="6.3"/><circle cx="246.4" cy="647.9" r="6.3"/><circle cx="258.8" cy="647.9" r="6.3"/><circle cx="271.2" cy="647.9" r="6.3"/><circle cx="283.6" cy="647.9" r="6.3"/><circle cx="296" cy="647.9" r="6.3"/><circle cx="308.4" cy="647.9" r="6.3"/><circle cx="320.8" cy="647.9" r="6.3"/><circle cx="333.2" cy="647.9" r="6.3"/><circle cx="345.6" cy="648" r="6.3"/><circle cx="358.1" cy="648" r="6.3"/><circle cx="370.5" cy="648" r="6.3"/><circle cx="382.9" cy="648" r="6.3"/><circle cx="395.3" cy="648" r="6.3"/><circle cx="407.7" cy="648" r="6.3"/><circle cx="420.1" cy="648" r="6.3"/><circle cx="432.5" cy="648" r="6.3"/><circle cx="444.9" cy="648" r="6.3"/><circle cx="457.3" cy="648.1" r="6.3"/><circle cx="469.8" cy="648.1" r="6.3"/><circle cx="482.2" cy="648.1" r="6.3"/><circle cx="494.6" cy="648.1" r="6.3"/><circle cx="507" cy="648.1" r="6.3"/><circle cx="519.4" cy="648.1" r="6.3"/><circle cx="531.8" cy="648.1" r="6.3"/><circle cx="544.2" cy="648.1" r="6.3"/><circle cx="556.6" cy="648.1" r="6.3"/><circle cx="569" cy="648.1" r="6.3"/><circle cx="581.4" cy="648.2" r="6.3"/><circle cx="593.9" cy="648.2" r="6.3"/><circle cx="606.3" cy="648.2" r="6.3"/><circle cx="618.7" cy="648.2" r="6.3"/><circle cx="631.1" cy="648.2" r="6.3"/><circle cx="643.5" cy="648.2" r="6.3"/><circle cx="655.9" cy="648.2" r="6.3"/><circle cx="668.3" cy="648.2" r="6.3"/><circle cx="680.7" cy="648.2" r="6.3"/><circle cx="693.1" cy="648.3" r="6.3"/><circle cx="705.5" cy="648.3" r="6.3"/><circle cx="718" cy="648.3" r="6.3"/><circle cx="730.4" cy="648.3" r="6.3"/><circle cx="742.8" cy="648.3" r="6.3"/><circle cx="755.2" cy="648.3" r="6.3"/><circle cx="767.6" cy="648.3" r="6.3"/><circle cx="780" cy="648.3" r="6.3"/><circle cx="792.4" cy="648.3" r="6.3"/><circle cx="804.8" cy="648.3" r="6.3"/><circle cx="817.2" cy="648.4" r="6.3"/><circle cx="829.6" cy="648.4" r="6.3"/><circle cx="842" cy="648.4" r="6.3"/><circle cx="854.5" cy="648.4" r="6.3"/><circle cx="866.9" cy="648.4" r="6.3"/><circle cx="159.5" cy="681" r="6.3"/><circle cx="171.9" cy="681" r="6.3"/><circle cx="184.3" cy="681" r="6.3"/><circle cx="196.7" cy="681" r="6.3"/><circle cx="209.1" cy="681" r="6.3"/><circle cx="221.6" cy="681" r="6.3"/><circle cx="234" cy="681" r="6.3"/><circle cx="246.4" cy="681" r="6.3"/><circle cx="258.8" cy="681" r="6.3"/><circle cx="271.2" cy="681" r="6.3"/><circle cx="283.6" cy="681" r="6.3"/><circle cx="296" cy="681" r="6.3"/><circle cx="308.4" cy="681" r="6.3"/><circle cx="320.8" cy="681" r="6.3"/><circle cx="333.2" cy="681" r="6.3"/><circle cx="345.6" cy="681" r="6.3"/><circle cx="358.1" cy="681" r="6.3"/><circle cx="370.5" cy="681" r="6.3"/><circle cx="382.9" cy="681" r="6.3"/><circle cx="395.3" cy="681" r="6.3"/><circle cx="407.7" cy="681" r="6.3"/><circle cx="420.1" cy="681" r="6.3"/><circle cx="432.5" cy="681" r="6.3"/><circle cx="444.9" cy="681.3" r="6.3"/><circle cx="457.3" cy="681.7" r="6.3"/><circle cx="469.8" cy="682" r="6.3"/><circle cx="482.2" cy="682.4" r="6.3"/><circle cx="494.6" cy="682.7" r="6.3"/><circle cx="507" cy="684.4" r="6.3"/><circle cx="519.4" cy="685.3" r="6.3"/><circle cx="531.8" cy="686.2" r="6.3"/><circle cx="544.2" cy="687" r="6.3"/><circle cx="556.6" cy="688" r="6.3"/><circle cx="569" cy="689.7" r="6.3"/><circle cx="581.4" cy="690.6" r="6.3"/><circle cx="593.9" cy="690.6" r="6.3"/><circle cx="606.3" cy="690.6" r="6.3"/><circle cx="618.7" cy="690.6" r="6.3"/><circle cx="631.1" cy="690.6" r="6.3"/><circle cx="643.5" cy="690.6" r="6.3"/><circle cx="655.9" cy="690.6" r="6.3"/><circle cx="668.3" cy="690.6" r="6.3"/><circle cx="680.7" cy="689.6" r="6.3"/><circle cx="693.1" cy="689.1" r="6.3"/><circle cx="705.5" cy="688.5" r="6.3"/><circle cx="718" cy="688" r="6.3"/><circle cx="730.4" cy="687.4" r="6.3"/><circle cx="742.8" cy="686.9" r="6.3"/><circle cx="755.2" cy="686.3" r="6.3"/><circle cx="767.6" cy="685.8" r="6.3"/><circle cx="780" cy="685.3" r="6.3"/><circle cx="792.4" cy="684.8" r="6.3"/><circle cx="804.8" cy="684.4" r="6.3"/><circle cx="817.2" cy="684" r="6.3"/><circle cx="829.6" cy="683.6" r="6.3"/><circle cx="842" cy="683.3" r="6.3"/><circle cx="854.5" cy="683.1" r="6.3"/><circle cx="866.9" cy="682.8" r="6.3"/><circle cx="159.5" cy="682" r="6.3"/><circle cx="171.9" cy="682.2" r="6.3"/><circle cx="184.3" cy="682.4" r="6.3"/><circle cx="196.7" cy="682.6" r="6.3"/><circle cx="209.1" cy="682.8" r="6.3"/><circle cx="221.6" cy="683" r="6.3"/><circle cx="234" cy="684.2" r="6.3"/><circle cx="246.4" cy="685.5" r="6.3"/><circle cx="258.8" cy="687.5" r="6.3"/><circle cx="271.2" cy="690" r="6.3"/><circle cx="283.6" cy="693" r="6.3"/><circle cx="296" cy="696" r="6.3"/><circle cx="308.4" cy="698.7" r="6.3"/><circle cx="320.8" cy="700.6" r="6.3"/><circle cx="333.2" cy="702.6" r="6.3"/><circle cx="345.6" cy="704.7" r="6.3"/><circle cx="358.1" cy="706.5" r="6.3"/><circle cx="370.5" cy="708.4" r="6.3"/><circle cx="382.9" cy="709.5" r="6.3"/><circle cx="395.3" cy="710" r="6.3"/><circle cx="407.7" cy="710" r="6.3"/><circle cx="420.1" cy="709.2" r="6.3"/><circle cx="432.5" cy="708.4" r="6.3"/><circle cx="444.9" cy="707" r="6.3"/><circle cx="457.3" cy="705.5" r="6.3"/><circle cx="469.8" cy="704" r="6.3"/><circle cx="482.2" cy="702.8" r="6.3"/><circle cx="494.6" cy="701.8" r="6.3"/><circle cx="507" cy="700.3" r="6.3"/><circle cx="519.4" cy="698.8" r="6.3"/><circle cx="531.8" cy="697" r="6.3"/><circle cx="544.2" cy="695.5" r="6.3"/><circle cx="556.6" cy="693.5" r="6.3"/><circle cx="569" cy="692" r="6.3"/><circle cx="581.4" cy="691" r="6.3"/><circle cx="593.9" cy="690.8" r="6.3"/><circle cx="606.3" cy="690.9" r="6.3"/><circle cx="618.7" cy="690.9" r="6.3"/><circle cx="631.1" cy="691" r="6.3"/><circle cx="643.5" cy="691.1" r="6.3"/><circle cx="655.9" cy="691.1" r="6.3"/><circle cx="668.3" cy="691.2" r="6.3"/><circle cx="680.7" cy="691.1" r="6.3"/><circle cx="693.1" cy="690.9" r="6.3"/><circle cx="705.5" cy="690.8" r="6.3"/><circle cx="718" cy="690.6" r="6.3"/><circle cx="730.4" cy="690.3" r="6.3"/><circle cx="742.8" cy="690.1" r="6.3"/><circle cx="755.2" cy="689.8" r="6.3"/><circle cx="767.6" cy="689.6" r="6.3"/><circle cx="780" cy="689.3" r="6.3"/><circle cx="792.4" cy="689" r="6.3"/><circle cx="804.8" cy="688.8" r="6.3"/><circle cx="817.2" cy="688.5" r="6.3"/><circle cx="829.6" cy="688.3" r="6.3"/><circle cx="842" cy="688.1" r="6.3"/><circle cx="854.5" cy="687.8" r="6.3"/><circle cx="866.9" cy="687.6" r="6.3"/><circle cx="333.2" cy="1066.1" r="6.3"/><circle cx="345.6" cy="995.6" r="6.3"/><circle cx="358.1" cy="950.8" r="6.3"/><circle cx="370.5" cy="922.3" r="6.3"/><circle cx="382.9" cy="906.3" r="6.3"/><circle cx="395.3" cy="900.9" r="6.3"/><circle cx="407.7" cy="900.3" r="6.3"/><circle cx="420.1" cy="898.2" r="6.3"/><circle cx="432.5" cy="893.8" r="6.3"/><circle cx="444.9" cy="889.2" r="6.3"/><circle cx="457.3" cy="883.4" r="6.3"/><circle cx="469.8" cy="876.8" r="6.3"/><circle cx="482.2" cy="869.3" r="6.3"/><circle cx="494.6" cy="862.2" r="6.3"/><circle cx="507" cy="854.3" r="6.3"/><circle cx="519.4" cy="847.1" r="6.3"/><circle cx="531.8" cy="839.8" r="6.3"/><circle cx="544.2" cy="833.1" r="6.3"/><circle cx="556.6" cy="827.1" r="6.3"/><circle cx="569" cy="821.6" r="6.3"/><circle cx="581.4" cy="817.4" r="6.3"/><circle cx="593.9" cy="813.4" r="6.3"/><circle cx="606.3" cy="811.5" r="6.3"/><circle cx="618.7" cy="809.7" r="6.3"/><circle cx="631.1" cy="808.8" r="6.3"/><circle cx="643.5" cy="810.6" r="6.3"/><circle cx="655.9" cy="813.4" r="6.3"/><circle cx="668.3" cy="820.5" r="6.3"/><circle cx="680.7" cy="829.4" r="6.3"/><circle cx="693.1" cy="844.5" r="6.3"/><circle cx="705.5" cy="867.7" r="6.3"/><circle cx="718" cy="902.6" r="6.3"/><circle cx="730.4" cy="957.4" r="6.3"/><circle cx="742.8" cy="1040.5" r="6.3"/></g>
<g stroke="#0a0ae6" stroke-width="4.8" fill="none" stroke-dasharray="10.5 15.5">
<line x1="311.5" y1="531" x2="289.5" y2="1106"/>
<line x1="754.5" y1="531" x2="775" y2="1106"/>
</g>
<g fill="#ff0a0a"><polygon points="160.7,673.1 162.4,678.1 167.7,678.2 163.5,681.4 165,686.5 160.7,683.5 156.4,686.5 157.9,681.4 153.7,678.2 159,678.1"/><polygon points="173,673.1 174.7,678.1 180,678.2 175.8,681.4 177.3,686.5 173,683.5 168.7,686.5 170.2,681.4 166,678.2 171.3,678.1"/><polygon points="185.3,673.2 187,678.2 192.3,678.3 188.1,681.5 189.6,686.5 185.3,683.5 181,686.5 182.5,681.5 178.3,678.3 183.6,678.2"/><polygon points="197.6,673.2 199.3,678.2 204.6,678.3 200.4,681.5 201.9,686.6 197.6,683.5 193.3,686.6 194.8,681.5 190.6,678.3 195.9,678.2"/><polygon points="209.9,673.2 211.6,678.2 216.9,678.3 212.7,681.5 214.2,686.6 209.9,683.6 205.6,686.6 207.1,681.5 202.9,678.3 208.2,678.2"/><polygon points="222.2,673.2 223.9,678.2 229.2,678.3 225,681.5 226.5,686.6 222.2,683.6 217.9,686.6 219.4,681.5 215.2,678.3 220.5,678.2"/><polygon points="234.5,673.3 236.2,678.3 241.5,678.4 237.3,681.6 238.8,686.7 234.5,683.6 230.2,686.7 231.7,681.6 227.5,678.4 232.8,678.3"/><polygon points="246.8,673.3 248.5,678.3 253.8,678.4 249.6,681.6 251.1,686.7 246.8,683.6 242.5,686.7 244,681.6 239.8,678.4 245.1,678.3"/><polygon points="259.1,673.3 260.8,678.3 266.1,678.4 261.9,681.6 263.4,686.7 259.1,683.7 254.8,686.7 256.3,681.6 252.1,678.4 257.4,678.3"/><polygon points="271.4,673.3 273.1,678.4 278.4,678.5 274.2,681.7 275.7,686.7 271.4,683.7 267.1,686.7 268.6,681.7 264.4,678.5 269.7,678.4"/><polygon points="283.7,673.4 285.4,678.4 290.7,678.5 286.5,681.7 288,686.8 283.7,683.7 279.4,686.8 280.9,681.7 276.7,678.5 282,678.4"/><polygon points="296,673.4 297.7,678.4 303,678.5 298.8,681.7 300.3,686.8 296,683.8 291.7,686.8 293.2,681.7 289,678.5 294.3,678.4"/><polygon points="308.3,675.6 310,680.6 315.3,680.7 311.1,683.9 312.6,689 308.3,686 304,689 305.5,683.9 301.3,680.7 306.6,680.6"/><polygon points="320.6,678.1 322.3,683.1 327.6,683.2 323.4,686.4 324.9,691.5 320.6,688.5 316.3,691.5 317.8,686.4 313.6,683.2 318.9,683.1"/><polygon points="332.9,678.3 334.6,683.3 339.9,683.4 335.7,686.6 337.2,691.7 332.9,688.6 328.6,691.7 330.1,686.6 325.9,683.4 331.2,683.3"/><polygon points="345.2,678.4 346.9,683.4 352.2,683.5 348,686.7 349.5,691.8 345.2,688.8 340.9,691.8 342.4,686.7 338.2,683.5 343.5,683.4"/><polygon points="357.5,678.6 359.2,683.6 364.5,683.7 360.3,686.9 361.8,692 357.5,689 353.2,692 354.7,686.9 350.5,683.7 355.8,683.6"/><polygon points="369.8,678.8 371.5,683.8 376.8,683.9 372.6,687.1 374.1,692.2 369.8,689.1 365.5,692.2 367,687.1 362.8,683.9 368.1,683.8"/><polygon points="382.1,678.9 383.8,683.9 389.1,684 384.9,687.2 386.4,692.3 382.1,689.3 377.8,692.3 379.3,687.2 375.1,684 380.4,683.9"/><polygon points="394.4,679.1 396.1,684.1 401.4,684.2 397.2,687.4 398.7,692.5 394.4,689.5 390.1,692.5 391.6,687.4 387.4,684.2 392.7,684.1"/><polygon points="406.7,679.6 408.4,684.6 413.7,684.7 409.5,687.9 411,693 406.7,690 402.4,693 403.9,687.9 399.7,684.7 405,684.6"/><polygon points="419,680.1 420.7,685.1 426,685.2 421.8,688.4 423.3,693.5 419,690.5 414.7,693.5 416.2,688.4 412,685.2 417.3,685.1"/><polygon points="431.3,680.6 433,685.6 438.3,685.7 434.1,688.9 435.6,694 431.3,691 427,694 428.5,688.9 424.3,685.7 429.6,685.6"/><polygon points="443.6,681.1 445.3,686.1 450.6,686.2 446.4,689.4 447.9,694.5 443.6,691.5 439.3,694.5 440.8,689.4 436.6,686.2 441.9,686.1"/><polygon points="455.9,681.6 457.6,686.6 462.9,686.7 458.7,689.9 460.2,695 455.9,692 451.6,695 453.1,689.9 448.9,686.7 454.2,686.6"/><polygon points="468.2,682.1 469.9,687.1 475.2,687.2 471,690.4 472.5,695.5 468.2,692.5 463.9,695.5 465.4,690.4 461.2,687.2 466.5,687.1"/><polygon points="480.5,682.9 482.2,687.9 487.5,688 483.3,691.2 484.8,696.2 480.5,693.2 476.2,696.2 477.7,691.2 473.5,688 478.8,687.9"/><polygon points="492.8,683.6 494.5,688.6 499.8,688.7 495.6,691.9 497.1,697 492.8,694 488.5,697 490,691.9 485.8,688.7 491.1,688.6"/><polygon points="505.1,684.6 506.8,689.6 512.1,689.7 507.9,692.9 509.4,698 505.1,695 500.8,698 502.3,692.9 498.1,689.7 503.4,689.6"/><polygon points="517.4,686.6 519.1,691.6 524.4,691.7 520.2,694.9 521.7,700 517.4,697 513.1,700 514.6,694.9 510.4,691.7 515.7,691.6"/><polygon points="529.7,688.2 531.4,693.2 536.7,693.3 532.5,696.5 534,701.6 529.7,698.6 525.4,701.6 526.9,696.5 522.7,693.3 528,693.2"/><polygon points="542,689.4 543.7,694.4 549,694.5 544.8,697.7 546.3,702.8 542,699.8 537.7,702.8 539.2,697.7 535,694.5 540.3,694.4"/><polygon points="554.3,691.1 556,696.1 561.3,696.2 557.1,699.4 558.6,704.5 554.3,701.5 550,704.5 551.5,699.4 547.3,696.2 552.6,696.1"/><polygon points="566.6,693.6 568.3,698.6 573.6,698.7 569.4,701.9 570.9,707 566.6,704 562.3,707 563.8,701.9 559.6,698.7 564.9,698.6"/><polygon points="578.9,696.1 580.6,701.1 585.9,701.2 581.7,704.4 583.2,709.5 578.9,706.5 574.6,709.5 576.1,704.4 571.9,701.2 577.2,701.1"/><polygon points="591.2,698.1 592.9,703.1 598.2,703.2 594,706.4 595.5,711.5 591.2,708.5 586.9,711.5 588.4,706.4 584.2,703.2 589.5,703.1"/><polygon points="603.5,701.2 605.2,706.2 610.5,706.3 606.3,709.5 607.8,714.6 603.5,711.6 599.2,714.6 600.7,709.5 596.5,706.3 601.8,706.2"/><polygon points="615.8,703.8 617.5,708.8 622.8,708.9 618.6,712.1 620.1,717.2 615.8,714.2 611.5,717.2 613,712.1 608.8,708.9 614.1,708.8"/><polygon points="628.1,706.8 629.8,711.8 635.1,711.9 630.9,715.1 632.4,720.2 628.1,717.2 623.8,720.2 625.3,715.1 621.1,711.9 626.4,711.8"/><polygon points="160.7,689.3 162.4,694.3 167.7,694.4 163.5,697.6 165,702.7 160.7,699.7 156.4,702.7 157.9,697.6 153.7,694.4 159,694.3"/><polygon points="173,689.1 174.7,694.1 180,694.2 175.8,697.4 177.3,702.5 173,699.5 168.7,702.5 170.2,697.4 166,694.2 171.3,694.1"/><polygon points="185.3,689 187,694 192.3,694.1 188.1,697.3 189.6,702.3 185.3,699.3 181,702.3 182.5,697.3 178.3,694.1 183.6,694"/><polygon points="197.6,688.8 199.3,693.8 204.6,693.9 200.4,697.1 201.9,702.2 197.6,699.1 193.3,702.2 194.8,697.1 190.6,693.9 195.9,693.8"/><polygon points="209.9,688.6 211.6,693.6 216.9,693.7 212.7,696.9 214.2,702 209.9,699 205.6,702 207.1,696.9 202.9,693.7 208.2,693.6"/><polygon points="222.2,687.9 223.9,692.9 229.2,693 225,696.2 226.5,701.2 222.2,698.2 217.9,701.2 219.4,696.2 215.2,693 220.5,692.9"/><polygon points="234.5,687.1 236.2,692.1 241.5,692.2 237.3,695.4 238.8,700.5 234.5,697.5 230.2,700.5 231.7,695.4 227.5,692.2 232.8,692.1"/><polygon points="246.8,686.6 248.5,691.6 253.8,691.7 249.6,694.9 251.1,700 246.8,697 242.5,700 244,694.9 239.8,691.7 245.1,691.6"/><polygon points="259.1,686.1 260.8,691.1 266.1,691.2 261.9,694.4 263.4,699.5 259.1,696.5 254.8,699.5 256.3,694.4 252.1,691.2 257.4,691.1"/><polygon points="271.4,685.6 273.1,690.7 278.4,690.8 274.2,694 275.7,699 271.4,696 267.1,699 268.6,694 264.4,690.8 269.7,690.7"/><polygon points="283.7,685.2 285.4,690.2 290.7,690.3 286.5,693.5 288,698.6 283.7,695.6 279.4,698.6 280.9,693.5 276.7,690.3 282,690.2"/><polygon points="296,683.6 297.7,688.6 303,688.7 298.8,691.9 300.3,697 296,694 291.7,697 293.2,691.9 289,688.7 294.3,688.6"/><polygon points="308.3,681.1 310,686.1 315.3,686.2 311.1,689.4 312.6,694.5 308.3,691.5 304,694.5 305.5,689.4 301.3,686.2 306.6,686.1"/><polygon points="320.6,678.6 322.3,683.6 327.6,683.7 323.4,686.9 324.9,692 320.6,689 316.3,692 317.8,686.9 313.6,683.7 318.9,683.6"/><polygon points="160.7,689.3 162.4,694.3 167.7,694.4 163.5,697.6 165,702.7 160.7,699.7 156.4,702.7 157.9,697.6 153.7,694.4 159,694.3"/><polygon points="173,689.4 174.7,694.4 180,694.5 175.8,697.7 177.3,702.7 173,699.7 168.7,702.7 170.2,697.7 166,694.5 171.3,694.4"/><polygon points="185.3,689.4 187,694.4 192.3,694.5 188.1,697.7 189.6,702.8 185.3,699.8 181,702.8 182.5,697.7 178.3,694.5 183.6,694.4"/><polygon points="197.6,689.6 199.3,694.6 204.6,694.7 200.4,697.9 201.9,703 197.6,700 193.3,703 194.8,697.9 190.6,694.7 195.9,694.6"/><polygon points="209.9,690.6 211.6,695.6 216.9,695.7 212.7,698.9 214.2,704 209.9,701 205.6,704 207.1,698.9 202.9,695.7 208.2,695.6"/><polygon points="222.2,693 223.9,698 229.2,698.1 225,701.3 226.5,706.4 222.2,703.4 217.9,706.4 219.4,701.3 215.2,698.1 220.5,698"/><polygon points="234.5,694.9 236.2,699.9 241.5,700 237.3,703.2 238.8,708.3 234.5,705.2 230.2,708.3 231.7,703.2 227.5,700 232.8,699.9"/><polygon points="246.8,696.2 248.5,701.2 253.8,701.3 249.6,704.5 251.1,709.6 246.8,706.6 242.5,709.6 244,704.5 239.8,701.3 245.1,701.2"/><polygon points="259.1,699.4 260.8,704.4 266.1,704.5 261.9,707.7 263.4,712.8 259.1,709.8 254.8,712.8 256.3,707.7 252.1,704.5 257.4,704.4"/><polygon points="271.4,702.6 273.1,707.6 278.4,707.7 274.2,710.9 275.7,716 271.4,713 267.1,716 268.6,710.9 264.4,707.7 269.7,707.6"/><polygon points="283.7,705.6 285.4,710.6 290.7,710.7 286.5,713.9 288,719 283.7,716 279.4,719 280.9,713.9 276.7,710.7 282,710.6"/><polygon points="296,708.9 297.7,713.9 303,714 298.8,717.2 300.3,722.3 296,719.2 291.7,722.3 293.2,717.2 289,714 294.3,713.9"/><polygon points="308.3,713.9 310,718.9 315.3,719 311.1,722.2 312.6,727.3 308.3,724.2 304,727.3 305.5,722.2 301.3,719 306.6,718.9"/><polygon points="320.6,719.1 322.3,724.1 327.6,724.2 323.4,727.4 324.9,732.5 320.6,729.5 316.3,732.5 317.8,727.4 313.6,724.2 318.9,724.1"/><polygon points="332.9,726.1 334.6,731.1 339.9,731.2 335.7,734.4 337.2,739.5 332.9,736.5 328.6,739.5 330.1,734.4 325.9,731.2 331.2,731.1"/><polygon points="345.2,733.8 346.9,738.8 352.2,738.9 348,742.1 349.5,747.2 345.2,744.2 340.9,747.2 342.4,742.1 338.2,738.9 343.5,738.8"/><polygon points="357.5,743.6 359.2,748.6 364.5,748.7 360.3,751.9 361.8,757 357.5,754 353.2,757 354.7,751.9 350.5,748.7 355.8,748.6"/><polygon points="369.8,755.6 371.5,760.6 376.8,760.7 372.6,763.9 374.1,769 369.8,766 365.5,769 367,763.9 362.8,760.7 368.1,760.6"/><polygon points="382.1,770.1 383.8,775.1 389.1,775.2 384.9,778.4 386.4,783.5 382.1,780.5 377.8,783.5 379.3,778.4 375.1,775.2 380.4,775.1"/><polygon points="394.4,788.8 396.1,793.8 401.4,793.9 397.2,797.1 398.7,802.2 394.4,799.2 390.1,802.2 391.6,797.1 387.4,793.9 392.7,793.8"/><polygon points="332.9,1015.1 334.6,1020.1 339.9,1020.2 335.7,1023.4 337.2,1028.5 332.9,1025.5 328.6,1028.5 330.1,1023.4 325.9,1020.2 331.2,1020.1"/><polygon points="345.2,939.4 346.9,944.4 352.2,944.5 348,947.7 349.5,952.8 345.2,949.8 340.9,952.8 342.4,947.7 338.2,944.5 343.5,944.4"/><polygon points="357.5,883.9 359.2,888.9 364.5,889 360.3,892.2 361.8,897.3 357.5,894.2 353.2,897.3 354.7,892.2 350.5,889 355.8,888.9"/><polygon points="369.8,843.8 371.5,848.8 376.8,848.9 372.6,852.1 374.1,857.2 369.8,854.2 365.5,857.2 367,852.1 362.8,848.9 368.1,848.8"/><polygon points="382.1,812.7 383.8,817.7 389.1,817.8 384.9,821 386.4,826.1 382.1,823.1 377.8,826.1 379.3,821 375.1,817.8 380.4,817.7"/><polygon points="394.4,788.8 396.1,793.8 401.4,793.9 397.2,797.1 398.7,802.2 394.4,799.2 390.1,802.2 391.6,797.1 387.4,793.9 392.7,793.8"/><polygon points="406.7,787.8 408.4,792.8 413.7,792.9 409.5,796.1 411,801.2 406.7,798.2 402.4,801.2 403.9,796.1 399.7,792.9 405,792.8"/><polygon points="419,786.8 420.7,791.8 426,791.9 421.8,795.1 423.3,800.2 419,797.2 414.7,800.2 416.2,795.1 412,791.9 417.3,791.8"/><polygon points="431.3,784.1 433,789.1 438.3,789.2 434.1,792.4 435.6,797.5 431.3,794.5 427,797.5 428.5,792.4 424.3,789.2 429.6,789.1"/><polygon points="443.6,780.6 445.3,785.6 450.6,785.7 446.4,788.9 447.9,794 443.6,791 439.3,794 440.8,788.9 436.6,785.7 441.9,785.6"/><polygon points="455.9,776.4 457.6,781.4 462.9,781.5 458.7,784.7 460.2,789.8 455.9,786.8 451.6,789.8 453.1,784.7 448.9,781.5 454.2,781.4"/><polygon points="468.2,771.8 469.9,776.8 475.2,776.9 471,780.1 472.5,785.2 468.2,782.2 463.9,785.2 465.4,780.1 461.2,776.9 466.5,776.8"/><polygon points="480.5,766.4 482.2,771.4 487.5,771.5 483.3,774.7 484.8,779.8 480.5,776.8 476.2,779.8 477.7,774.7 473.5,771.5 478.8,771.4"/><polygon points="492.8,760.8 494.5,765.8 499.8,765.9 495.6,769.1 497.1,774.2 492.8,771.2 488.5,774.2 490,769.1 485.8,765.9 491.1,765.8"/><polygon points="505.1,755 506.8,760 512.1,760.1 507.9,763.3 509.4,768.4 505.1,765.4 500.8,768.4 502.3,763.3 498.1,760.1 503.4,760"/><polygon points="517.4,749.4 519.1,754.4 524.4,754.5 520.2,757.7 521.7,762.8 517.4,759.8 513.1,762.8 514.6,757.7 510.4,754.5 515.7,754.4"/><polygon points="529.7,743.9 531.4,748.9 536.7,749 532.5,752.2 534,757.3 529.7,754.2 525.4,757.3 526.9,752.2 522.7,749 528,748.9"/><polygon points="542,738.4 543.7,743.4 549,743.5 544.8,746.7 546.3,751.8 542,748.8 537.7,751.8 539.2,746.7 535,743.5 540.3,743.4"/><polygon points="554.3,732.9 556,737.9 561.3,738 557.1,741.2 558.6,746.3 554.3,743.2 550,746.3 551.5,741.2 547.3,738 552.6,737.9"/><polygon points="566.6,727.8 568.3,732.8 573.6,732.9 569.4,736.1 570.9,741.2 566.6,738.2 562.3,741.2 563.8,736.1 559.6,732.9 564.9,732.8"/><polygon points="578.9,723.4 580.6,728.4 585.9,728.5 581.7,731.7 583.2,736.8 578.9,733.8 574.6,736.8 576.1,731.7 571.9,728.5 577.2,728.4"/><polygon points="591.2,718.2 592.9,723.2 598.2,723.3 594,726.5 595.5,731.6 591.2,728.6 586.9,731.6 588.4,726.5 584.2,723.3 589.5,723.2"/><polygon points="603.5,714.6 605.2,719.6 610.5,719.7 606.3,722.9 607.8,728 603.5,725 599.2,728 600.7,722.9 596.5,719.7 601.8,719.6"/><polygon points="615.8,710.9 617.5,715.9 622.8,716 618.6,719.2 620.1,724.3 615.8,721.2 611.5,724.3 613,719.2 608.8,716 614.1,715.9"/><polygon points="628.1,707.1 629.8,712.1 635.1,712.2 630.9,715.4 632.4,720.5 628.1,717.5 623.8,720.5 625.3,715.4 621.1,712.2 626.4,712.1"/><polygon points="640.4,700 642.1,705 647.4,705.1 643.2,708.3 644.7,713.4 640.4,710.4 636.1,713.4 637.6,708.3 633.4,705.1 638.7,705"/><polygon points="652.7,695.9 654.4,700.9 659.7,701 655.5,704.2 657,709.3 652.7,706.2 648.4,709.3 649.9,704.2 645.7,701 651,700.9"/><polygon points="665,691.6 666.7,696.6 672,696.7 667.8,699.9 669.3,705 665,702 660.7,705 662.2,699.9 658,696.7 663.3,696.6"/><polygon points="677.3,687.8 679,692.8 684.3,692.9 680.1,696.1 681.6,701.2 677.3,698.2 673,701.2 674.5,696.1 670.3,692.9 675.6,692.8"/><polygon points="689.6,685.1 691.3,690.1 696.6,690.2 692.4,693.4 693.9,698.5 689.6,695.5 685.3,698.5 686.8,693.4 682.6,690.2 687.9,690.1"/><polygon points="701.9,682.9 703.6,687.9 708.9,688 704.7,691.2 706.2,696.3 701.9,693.2 697.6,696.3 699.1,691.2 694.9,688 700.2,687.9"/><polygon points="714.2,681.1 715.9,686.1 721.2,686.2 717,689.4 718.5,694.5 714.2,691.5 709.9,694.5 711.4,689.4 707.2,686.2 712.5,686.1"/><polygon points="726.5,679.6 728.2,684.6 733.5,684.7 729.3,687.9 730.8,693 726.5,690 722.2,693 723.7,687.9 719.5,684.7 724.8,684.6"/><polygon points="738.8,677.9 740.5,682.9 745.8,683 741.6,686.2 743.1,691.3 738.8,688.2 734.5,691.3 736,686.2 731.8,683 737.1,682.9"/><polygon points="751.1,676.2 752.8,681.2 758.1,681.3 753.9,684.5 755.4,689.6 751.1,686.6 746.8,689.6 748.3,684.5 744.1,681.3 749.4,681.2"/><polygon points="763.4,675.3 765.1,680.3 770.4,680.4 766.2,683.6 767.7,688.7 763.4,685.7 759.1,688.7 760.6,683.6 756.4,680.4 761.7,680.3"/><polygon points="775.7,674.4 777.4,679.4 782.7,679.5 778.5,682.7 780,687.8 775.7,684.8 771.4,687.8 772.9,682.7 768.7,679.5 774,679.4"/><polygon points="788,674 789.7,679 795,679.1 790.8,682.3 792.3,687.4 788,684.4 783.7,687.4 785.2,682.3 781,679.1 786.3,679"/><polygon points="800.3,673.5 802,678.5 807.3,678.6 803.1,681.8 804.6,686.9 800.3,683.9 796,686.9 797.5,681.8 793.3,678.6 798.6,678.5"/><polygon points="812.6,673.2 814.3,678.2 819.6,678.3 815.4,681.5 816.9,686.6 812.6,683.6 808.3,686.6 809.8,681.5 805.6,678.3 810.9,678.2"/><polygon points="824.9,673 826.6,678 831.9,678.1 827.7,681.3 829.2,686.4 824.9,683.4 820.6,686.4 822.1,681.3 817.9,678.1 823.2,678"/><polygon points="837.2,672.8 838.9,677.8 844.2,677.9 840,681.1 841.5,686.2 837.2,683.2 832.9,686.2 834.4,681.1 830.2,677.9 835.5,677.8"/><polygon points="849.5,672.7 851.2,677.7 856.5,677.8 852.3,681 853.8,686.1 849.5,683.1 845.2,686.1 846.7,681 842.5,677.8 847.8,677.7"/><polygon points="861.8,672.6 863.5,677.6 868.8,677.7 864.6,680.9 866.1,686 861.8,683 857.5,686 859,680.9 854.8,677.7 860.1,677.6"/><polygon points="640.4,707.1 642.1,712.1 647.4,712.2 643.2,715.4 644.7,720.5 640.4,717.5 636.1,720.5 637.6,715.4 633.4,712.2 638.7,712.1"/><polygon points="652.7,706.4 654.4,711.4 659.7,711.5 655.5,714.7 657,719.8 652.7,716.8 648.4,719.8 649.9,714.7 645.7,711.5 651,711.4"/><polygon points="665,705.5 666.7,710.5 672,710.6 667.8,713.8 669.3,718.9 665,715.9 660.7,718.9 662.2,713.8 658,710.6 663.3,710.5"/><polygon points="677.3,704.1 679,709.1 684.3,709.2 680.1,712.4 681.6,717.5 677.3,714.5 673,717.5 674.5,712.4 670.3,709.2 675.6,709.1"/><polygon points="689.6,702.8 691.3,707.8 696.6,707.9 692.4,711.1 693.9,716.2 689.6,713.2 685.3,716.2 686.8,711.1 682.6,707.9 687.9,707.8"/><polygon points="701.9,701.4 703.6,706.4 708.9,706.5 704.7,709.7 706.2,714.8 701.9,711.8 697.6,714.8 699.1,709.7 694.9,706.5 700.2,706.4"/><polygon points="714.2,700.1 715.9,705.1 721.2,705.2 717,708.4 718.5,713.5 714.2,710.5 709.9,713.5 711.4,708.4 707.2,705.2 712.5,705.1"/><polygon points="726.5,698.4 728.2,703.4 733.5,703.5 729.3,706.7 730.8,711.8 726.5,708.8 722.2,711.8 723.7,706.7 719.5,703.5 724.8,703.4"/><polygon points="738.8,697.2 740.5,702.2 745.8,702.3 741.6,705.5 743.1,710.6 738.8,707.6 734.5,710.6 736,705.5 731.8,702.3 737.1,702.2"/><polygon points="751.1,695.7 752.8,700.7 758.1,700.8 753.9,704 755.4,709.1 751.1,706.1 746.8,709.1 748.3,704 744.1,700.8 749.4,700.7"/><polygon points="763.4,694.6 765.1,699.6 770.4,699.7 766.2,702.9 767.7,708 763.4,705 759.1,708 760.6,702.9 756.4,699.7 761.7,699.6"/><polygon points="775.7,693.2 777.4,698.2 782.7,698.3 778.5,701.5 780,706.6 775.7,703.6 771.4,706.6 772.9,701.5 768.7,698.3 774,698.2"/><polygon points="788,692.5 789.7,697.5 795,697.6 790.8,700.8 792.3,705.9 788,702.9 783.7,705.9 785.2,700.8 781,697.6 786.3,697.5"/><polygon points="800.3,691.5 802,696.5 807.3,696.6 803.1,699.8 804.6,704.9 800.3,701.9 796,704.9 797.5,699.8 793.3,696.6 798.6,696.5"/><polygon points="812.6,690.7 814.3,695.7 819.6,695.8 815.4,699 816.9,704.1 812.6,701.1 808.3,704.1 809.8,699 805.6,695.8 810.9,695.7"/><polygon points="824.9,690.2 826.6,695.2 831.9,695.3 827.7,698.5 829.2,703.6 824.9,700.6 820.6,703.6 822.1,698.5 817.9,695.3 823.2,695.2"/><polygon points="837.2,689.7 838.9,694.7 844.2,694.8 840,698 841.5,703.1 837.2,700.1 832.9,703.1 834.4,698 830.2,694.8 835.5,694.7"/><polygon points="849.5,689.3 851.2,694.3 856.5,694.4 852.3,697.6 853.8,702.7 849.5,699.7 845.2,702.7 846.7,697.6 842.5,694.4 847.8,694.3"/><polygon points="861.8,689 863.5,694 868.8,694.1 864.6,697.3 866.1,702.4 861.8,699.4 857.5,702.4 859,697.3 854.8,694.1 860.1,694"/><polygon points="640.4,714.6 642.1,719.6 647.4,719.7 643.2,722.9 644.7,728 640.4,725 636.1,728 637.6,722.9 633.4,719.7 638.7,719.6"/><polygon points="652.7,723.7 654.4,728.7 659.7,728.8 655.5,732 657,737.1 652.7,734.1 648.4,737.1 649.9,732 645.7,728.8 651,728.7"/><polygon points="665,736 666.7,741 672,741.1 667.8,744.3 669.3,749.4 665,746.4 660.7,749.4 662.2,744.3 658,741.1 663.3,741"/><polygon points="677.3,750.2 679,755.2 684.3,755.3 680.1,758.5 681.6,763.6 677.3,760.6 673,763.6 674.5,758.5 670.3,755.3 675.6,755.2"/><polygon points="689.6,773.1 691.3,778.1 696.6,778.2 692.4,781.4 693.9,786.5 689.6,783.5 685.3,786.5 686.8,781.4 682.6,778.2 687.9,778.1"/><polygon points="701.9,802.3 703.6,807.3 708.9,807.4 704.7,810.6 706.2,815.7 701.9,812.7 697.6,815.7 699.1,810.6 694.9,807.4 700.2,807.3"/><polygon points="714.2,843.7 715.9,848.7 721.2,848.8 717,852 718.5,857.1 714.2,854.1 709.9,857.1 711.4,852 707.2,848.8 712.5,848.7"/><polygon points="726.5,906.4 728.2,911.4 733.5,911.5 729.3,914.7 730.8,919.8 726.5,916.8 722.2,919.8 723.7,914.7 719.5,911.5 724.8,911.4"/><polygon points="738.8,1003 740.5,1008 745.8,1008.1 741.6,1011.3 743.1,1016.4 738.8,1013.4 734.5,1016.4 736,1011.3 731.8,1008.1 737.1,1008"/></g>
</g>
<rect x="159.2" y="531.5" width="714.3" height="574.2" fill="none" stroke="#000" stroke-width="3.5"/>
<g stroke="#000" stroke-width="2.2">
<line x1="160" y1="818.8" x2="170.5" y2="818.8"/>
<line x1="160" y1="961.5" x2="166.5" y2="961.5"/>
<line x1="160" y1="675.5" x2="166.5" y2="675.5"/>
<line x1="393.3" y1="1104" x2="393.3" y2="1095.5"/>
<line x1="633.8" y1="1104" x2="633.8" y2="1095.5"/>
</g>
<text transform="translate(57.93,558.99)" font-size="41.41" fill="#000" letter-spacing="0.8" >2800</text>
<text transform="translate(57.94,836.29)" font-size="41.27" fill="#000" letter-spacing="0.9" >2600</text>
<text transform="translate(57.95,1108.39)" font-size="40.99" fill="#000" letter-spacing="1.1" >2400</text>
<text transform="translate(156.28,1152.2) scale(0.9041,1)" font-size="44.49" fill="#231f20" stroke="#231f20" stroke-width="0.5">Γ</text>
<text transform="translate(378.36,1154.7) scale(0.9591,1)" font-size="47.59" fill="#231f20" >X</text>
<text transform="translate(615.3,1156.3) scale(0.9722,1)" font-size="47.59" fill="#231f20" >M</text>
<text transform="translate(850.21,1153.8) scale(0.9243,1)" font-size="44.49" fill="#231f20" stroke="#231f20" stroke-width="0.5">Γ</text>
<text transform="translate(41.02,1020.21) rotate(-90)" font-size="47.2" fill="#000" letter-spacing="3.02" >Frequency (Hz)</text>
<text transform="translate(8.96,533.21) scale(1.0586,1)" font-size="58.78" fill="#000" >b</text>
<text transform="translate(289.62,920.09) rotate(-90)" font-size="37.69" fill="#1414e6" letter-spacing="-0.22" >Air line</text>
<text transform="translate(804.43,903.99) rotate(-90)" font-size="37.14" fill="#1414e6" letter-spacing="-0.07" >Air line</text>
<rect x="485.3" y="543.6" width="92.2" height="91.5" fill="none" stroke="#111" stroke-width="1.3"/>
<path d="M531.5,589.5 L575.5,546 M531.5,589.5 L577,589.5" stroke="#111" stroke-width="1.5" stroke-dasharray="3.5 2.2" fill="none"/>
<text transform="translate(516.9,596.6) scale(0.85,1)" font-size="25.69" fill="#111" font-weight="bold" >Γ</text>
<text transform="translate(582.48,553.0)" font-size="23.07" fill="#111" >M</text>
<text transform="translate(585.22,599.0)" font-size="23.07" fill="#111" >X</text>
<rect x="386.2" y="983" width="318.5" height="88.7" fill="#fff" stroke="#ec8040" stroke-width="1.6"/>
<polygon points="408.6,1003.3 410.2,1008 415.3,1008.1 411.3,1011.2 412.7,1016 408.6,1013.1 404.5,1016 405.9,1011.2 401.9,1008.1 407,1008" fill="#ff0a0a"/>
<circle cx="408.6" cy="1041.6" r="5"/>
<text transform="translate(442.09,1020.67)" font-size="32.65" fill="#e3141e" letter-spacing="2.53" >d/a=0.5</text>
<text transform="translate(442.52,1053.58)" font-size="32.11" fill="#000" letter-spacing="1.1" >d/a=0.25 or 0.75</text>
</g></svg>
<text transform="translate(899.79,522.41) scale(1.0226,1)" font-size="58.9" fill="#231f20" >c</text>
<rect x="902" y="531.5" width="519.5" height="573.3" fill="none" stroke="#000" stroke-width="3.3"/>
<rect x="980" y="563" width="136.8" height="34.5" fill="#f9d3b5"/>
<rect x="1232" y="563" width="137.2" height="34.5" fill="#f9d3b5"/>
<text transform="translate(986.84,592.31)" font-size="28.98" fill="#2a2020" letter-spacing="1.83" >d/a=0.25</text>
<text transform="translate(1238.54,591.81)" font-size="29.12" fill="#2a2020" letter-spacing="1.76" >d/a=0.75</text>
<polygon points="932.9,741.3 1024.7,815.6 1024.7,822.1 932.9,747.8" fill="#6bd86b" /><polygon points="1024.7,815.6 1150.3,760.4 1150.3,766.9 1024.7,822.1" fill="#66cf66" /><polygon points="932.9,741.3 1057.5,697 1150.3,760.4 1024.7,815.6" fill="#80f480" />
<linearGradient id="cg1" gradientUnits="userSpaceOnUse" x1="0" y1="633" x2="0" y2="663"><stop offset="0.000" stop-color="#ffff00"/><stop offset="0.367" stop-color="#fff200"/><stop offset="0.600" stop-color="#ff9a00"/><stop offset="0.833" stop-color="#ff2200"/><stop offset="1.000" stop-color="#ff0000"/></linearGradient><path d="M1032.9,633 L1056.1,633 L1056.1,737 A11.6,4.9 0 0 1 1032.9,737 Z" fill="url(#cg1)"/><path d="M1032.9,633 L1056.1,633 L1056.1,737 A11.6,4.9 0 0 1 1032.9,737 Z" fill="url(#shadeH)"/><ellipse cx="1044.5" cy="633" rx="11.6" ry="4.9" fill="#ffff00"/>
<linearGradient id="cg2" gradientUnits="userSpaceOnUse" x1="0" y1="646" x2="0" y2="670"><stop offset="0.000" stop-color="#10f4f4"/><stop offset="0.250" stop-color="#10e8f8"/><stop offset="0.542" stop-color="#0890ff"/><stop offset="0.833" stop-color="#0030f8"/><stop offset="1.000" stop-color="#0014f2"/></linearGradient><path d="M999.9,646 L1024.3,646 L1024.3,748 A12.2,5.1 0 0 1 999.9,748 Z" fill="url(#cg2)"/><path d="M999.9,646 L1024.3,646 L1024.3,748 A12.2,5.1 0 0 1 999.9,748 Z" fill="url(#shadeH)"/><ellipse cx="1012.1" cy="646" rx="12.2" ry="5.1" fill="#10f4f4"/>
<linearGradient id="cg3" gradientUnits="userSpaceOnUse" x1="0" y1="647.5" x2="0" y2="677.5"><stop offset="0.000" stop-color="#ffff00"/><stop offset="0.367" stop-color="#fff200"/><stop offset="0.600" stop-color="#ff9a00"/><stop offset="0.833" stop-color="#ff2200"/><stop offset="1.000" stop-color="#ff0000"/></linearGradient><path d="M1056.7,647.5 L1081.3,647.5 L1081.3,752 A12.3,5.2 0 0 1 1056.7,752 Z" fill="url(#cg3)"/><path d="M1056.7,647.5 L1081.3,647.5 L1081.3,752 A12.3,5.2 0 0 1 1056.7,752 Z" fill="url(#shadeH)"/><ellipse cx="1069" cy="647.5" rx="12.3" ry="5.2" fill="#ffff00"/>
<linearGradient id="cg4" gradientUnits="userSpaceOnUse" x1="0" y1="660.5" x2="0" y2="684.5"><stop offset="0.000" stop-color="#10f4f4"/><stop offset="0.250" stop-color="#10e8f8"/><stop offset="0.542" stop-color="#0890ff"/><stop offset="0.833" stop-color="#0030f8"/><stop offset="1.000" stop-color="#0014f2"/></linearGradient><path d="M1024.3,660.5 L1047.9,660.5 L1047.9,766 A11.8,5 0 0 1 1024.3,766 Z" fill="url(#cg4)"/><path d="M1024.3,660.5 L1047.9,660.5 L1047.9,766 A11.8,5 0 0 1 1024.3,766 Z" fill="url(#shadeH)"/><ellipse cx="1036.1" cy="660.5" rx="11.8" ry="5" fill="#10f4f4"/>
<polygon points="1203.3,751.8 1283.2,816.5 1283.2,822.5 1203.3,757.8" fill="#6bd86b" /><polygon points="1283.2,816.5 1395.5,767 1395.5,773 1283.2,822.5" fill="#66cf66" /><polygon points="1203.3,751.8 1312.5,710 1395.5,767 1283.2,816.5" fill="#80f480" />
<linearGradient id="cg5" gradientUnits="userSpaceOnUse" x1="0" y1="633.5" x2="0" y2="663.5"><stop offset="0.000" stop-color="#ffff00"/><stop offset="0.367" stop-color="#fff200"/><stop offset="0.600" stop-color="#ff9a00"/><stop offset="0.833" stop-color="#ff2200"/><stop offset="1.000" stop-color="#ff0000"/></linearGradient><path d="M1299.4,633.5 L1319.4,633.5 L1319.4,721 A10,4.2 0 0 1 1299.4,721 Z" fill="url(#cg5)"/><path d="M1299.4,633.5 L1319.4,633.5 L1319.4,721 A10,4.2 0 0 1 1299.4,721 Z" fill="url(#shadeH)"/><ellipse cx="1309.4" cy="633.5" rx="10" ry="4.2" fill="#ffff00"/>
<linearGradient id="cg6" gradientUnits="userSpaceOnUse" x1="0" y1="662" x2="0" y2="692"><stop offset="0.000" stop-color="#ffff00"/><stop offset="0.367" stop-color="#fff200"/><stop offset="0.600" stop-color="#ff9a00"/><stop offset="0.833" stop-color="#ff2200"/><stop offset="1.000" stop-color="#ff0000"/></linearGradient><path d="M1212,662 L1233,662 L1237,754 A10.5,4.4 0 0 1 1216,754 Z" fill="url(#cg6)"/><path d="M1212,662 L1233,662 L1237,754 A10.5,4.4 0 0 1 1216,754 Z" fill="url(#shadeH)"/><ellipse cx="1222.5" cy="662" rx="10.5" ry="4.4" fill="#ffff00"/>
<linearGradient id="cg7" gradientUnits="userSpaceOnUse" x1="0" y1="672.5" x2="0" y2="702.5"><stop offset="0.000" stop-color="#ffff00"/><stop offset="0.367" stop-color="#fff200"/><stop offset="0.600" stop-color="#ff9a00"/><stop offset="0.833" stop-color="#ff2200"/><stop offset="1.000" stop-color="#ff0000"/></linearGradient><path d="M1366,672.5 L1387,672.5 L1384,764 A10.5,4.4 0 0 1 1363,764 Z" fill="url(#cg7)"/><path d="M1366,672.5 L1387,672.5 L1384,764 A10.5,4.4 0 0 1 1363,764 Z" fill="url(#shadeH)"/><ellipse cx="1376.5" cy="672.5" rx="10.5" ry="4.4" fill="#ffff00"/>
<linearGradient id="cg8" gradientUnits="userSpaceOnUse" x1="0" y1="706" x2="0" y2="736"><stop offset="0.000" stop-color="#ffff00"/><stop offset="0.367" stop-color="#fff200"/><stop offset="0.600" stop-color="#ff9a00"/><stop offset="0.833" stop-color="#ff2200"/><stop offset="1.000" stop-color="#ff0000"/></linearGradient><path d="M1276.5,706 L1298.5,706 L1298.5,801 A11,4.6 0 0 1 1276.5,801 Z" fill="url(#cg8)"/><path d="M1276.5,706 L1298.5,706 L1298.5,801 A11,4.6 0 0 1 1276.5,801 Z" fill="url(#shadeH)"/><ellipse cx="1287.5" cy="706" rx="11" ry="4.6" fill="#ffff00"/>
<polygon points="935.1,988.4 1026,1058.6 1026,1066.1 935.1,995.9" fill="#6bd86b" /><polygon points="1026,1058.6 1150.9,1003.5 1150.9,1011 1026,1066.1" fill="#66cf66" /><polygon points="935.1,988.4 1055.4,940 1150.9,1003.5 1026,1058.6" fill="#80f480" />
<linearGradient id="cg9" gradientUnits="userSpaceOnUse" x1="0" y1="877.5" x2="0" y2="899.5"><stop offset="0.000" stop-color="#ffb000"/><stop offset="0.227" stop-color="#ffa000"/><stop offset="0.545" stop-color="#ff5000"/><stop offset="0.818" stop-color="#ff1000"/><stop offset="1.000" stop-color="#ff0000"/></linearGradient><path d="M1034.7,877.5 L1057.3,877.5 L1057.3,979 A11.3,4.7 0 0 1 1034.7,979 Z" fill="url(#cg9)"/><path d="M1034.7,877.5 L1057.3,877.5 L1057.3,979 A11.3,4.7 0 0 1 1034.7,979 Z" fill="url(#shadeH)"/><ellipse cx="1046" cy="877.5" rx="11.3" ry="4.7" fill="#ffb000"/>
<linearGradient id="cg10" gradientUnits="userSpaceOnUse" x1="0" y1="889.5" x2="0" y2="911.5"><stop offset="0.000" stop-color="#ffb000"/><stop offset="0.227" stop-color="#ffa000"/><stop offset="0.545" stop-color="#ff5000"/><stop offset="0.818" stop-color="#ff1000"/><stop offset="1.000" stop-color="#ff0000"/></linearGradient><path d="M1002.2,889.5 L1026,889.5 L1026,993 A11.9,5 0 0 1 1002.2,993 Z" fill="url(#cg10)"/><path d="M1002.2,889.5 L1026,889.5 L1026,993 A11.9,5 0 0 1 1002.2,993 Z" fill="url(#shadeH)"/><ellipse cx="1014.1" cy="889.5" rx="11.9" ry="5" fill="#ffb000"/>
<linearGradient id="cg11" gradientUnits="userSpaceOnUse" x1="0" y1="893.5" x2="0" y2="915.5"><stop offset="0.000" stop-color="#ffb000"/><stop offset="0.227" stop-color="#ffa000"/><stop offset="0.545" stop-color="#ff5000"/><stop offset="0.818" stop-color="#ff1000"/><stop offset="1.000" stop-color="#ff0000"/></linearGradient><path d="M1058.4,893.5 L1082.2,893.5 L1082.2,997 A11.9,5 0 0 1 1058.4,997 Z" fill="url(#cg11)"/><path d="M1058.4,893.5 L1082.2,893.5 L1082.2,997 A11.9,5 0 0 1 1058.4,997 Z" fill="url(#shadeH)"/><ellipse cx="1070.3" cy="893.5" rx="11.9" ry="5" fill="#ffb000"/>
<linearGradient id="cg12" gradientUnits="userSpaceOnUse" x1="0" y1="904.5" x2="0" y2="926.5"><stop offset="0.000" stop-color="#ffb000"/><stop offset="0.227" stop-color="#ffa000"/><stop offset="0.545" stop-color="#ff5000"/><stop offset="0.818" stop-color="#ff1000"/><stop offset="1.000" stop-color="#ff0000"/></linearGradient><path d="M1026.1,904.5 L1049.7,904.5 L1049.7,1011 A11.8,5 0 0 1 1026.1,1011 Z" fill="url(#cg12)"/><path d="M1026.1,904.5 L1049.7,904.5 L1049.7,1011 A11.8,5 0 0 1 1026.1,1011 Z" fill="url(#shadeH)"/><ellipse cx="1037.9" cy="904.5" rx="11.8" ry="5" fill="#ffb000"/>
<polygon points="1208,995.1 1286.8,1060.4 1286.8,1065.4 1208,1000.1" fill="#6bd86b" /><polygon points="1286.8,1060.4 1401.5,1010.9 1401.5,1015.9 1286.8,1065.4" fill="#66cf66" /><polygon points="1208,995.1 1314.6,953.5 1401.5,1010.9 1286.8,1060.4" fill="#80f480" />
<linearGradient id="cg13" gradientUnits="userSpaceOnUse" x1="0" y1="876" x2="0" y2="896"><stop offset="0.000" stop-color="#10b8ff"/><stop offset="0.250" stop-color="#10a0ff"/><stop offset="0.550" stop-color="#0850ff"/><stop offset="0.850" stop-color="#0018f8"/><stop offset="1.000" stop-color="#0010f2"/></linearGradient><path d="M1303.6,876 L1324,876 L1324,964 A10.2,4.3 0 0 1 1303.6,964 Z" fill="url(#cg13)"/><path d="M1303.6,876 L1324,876 L1324,964 A10.2,4.3 0 0 1 1303.6,964 Z" fill="url(#shadeH)"/><ellipse cx="1313.8" cy="876" rx="10.2" ry="4.3" fill="#10b8ff"/>
<linearGradient id="cg14" gradientUnits="userSpaceOnUse" x1="0" y1="905" x2="0" y2="927"><stop offset="0.000" stop-color="#ffb000"/><stop offset="0.227" stop-color="#ffa000"/><stop offset="0.545" stop-color="#ff5000"/><stop offset="0.818" stop-color="#ff1000"/><stop offset="1.000" stop-color="#ff0000"/></linearGradient><path d="M1216.2,905 L1237.8,905 L1240.8,996 A10.8,4.5 0 0 1 1219.2,996 Z" fill="url(#cg14)"/><path d="M1216.2,905 L1237.8,905 L1240.8,996 A10.8,4.5 0 0 1 1219.2,996 Z" fill="url(#shadeH)"/><ellipse cx="1227" cy="905" rx="10.8" ry="4.5" fill="#ffb000"/>
<linearGradient id="cg15" gradientUnits="userSpaceOnUse" x1="0" y1="915.5" x2="0" y2="935.5"><stop offset="0.000" stop-color="#10b8ff"/><stop offset="0.250" stop-color="#10a0ff"/><stop offset="0.550" stop-color="#0850ff"/><stop offset="0.850" stop-color="#0018f8"/><stop offset="1.000" stop-color="#0010f2"/></linearGradient><path d="M1370.6,915.5 L1392.4,915.5 L1388.4,1007 A10.9,4.6 0 0 1 1366.6,1007 Z" fill="url(#cg15)"/><path d="M1370.6,915.5 L1392.4,915.5 L1388.4,1007 A10.9,4.6 0 0 1 1366.6,1007 Z" fill="url(#shadeH)"/><ellipse cx="1381.5" cy="915.5" rx="10.9" ry="4.6" fill="#10b8ff"/>
<linearGradient id="cg16" gradientUnits="userSpaceOnUse" x1="0" y1="948" x2="0" y2="970"><stop offset="0.000" stop-color="#ffb000"/><stop offset="0.227" stop-color="#ffa000"/><stop offset="0.545" stop-color="#ff5000"/><stop offset="0.818" stop-color="#ff1000"/><stop offset="1.000" stop-color="#ff0000"/></linearGradient><path d="M1281,948 L1303,948 L1303,1044 A11,4.6 0 0 1 1281,1044 Z" fill="url(#cg16)"/><path d="M1281,948 L1303,948 L1303,1044 A11,4.6 0 0 1 1281,1044 Z" fill="url(#shadeH)"/><ellipse cx="1292" cy="948" rx="11" ry="4.6" fill="#ffb000"/>
<g fill="none" stroke-width="2.6" stroke-dasharray="5.5 3.2">
<path d="M1111.5,818.6 L1137,818.6 L1185.4,918.8 L1204.3,918.8" stroke="#e0202a"/>
<path d="M1112.3,920.5 L1137,920.5 L1186.3,818.6 L1211.7,818.6" stroke="#1020c8"/>
</g>
<text transform="translate(1116.17,808.66)" font-size="33.38" fill="#e3141e" >p</text>
<text transform="translate(1137.1,815.9)" font-size="16.79" fill="#e3141e" >x</text>
<text transform="translate(1191.24,813.65)" font-size="35.41" fill="#0c0cb4" >s</text>
<text transform="translate(1111.32,953.25)" font-size="34.86" fill="#0c0cb4" >s</text>
<text transform="translate(1184.05,949.87)" font-size="33.78" fill="#e3141e" >p</text>
<text transform="translate(1206.15,957.2)" font-size="16.79" fill="#e3141e" >x</text>
<text transform="translate(1051.92,1091.7)" font-size="29.8" fill="#231f20" letter-spacing="1.12" >Band inversion</text>
<rect x="1015.6" y="1122" width="299.1" height="29.3" fill="url(#jet)"/>
<text transform="translate(944.42,1151.3)" font-size="39.72" fill="#231f20" letter-spacing="2.3" >Min</text>
<text transform="translate(1325.96,1150.18)" font-size="41.73" fill="#231f20" >Max</text>
</svg>
</body></html>
